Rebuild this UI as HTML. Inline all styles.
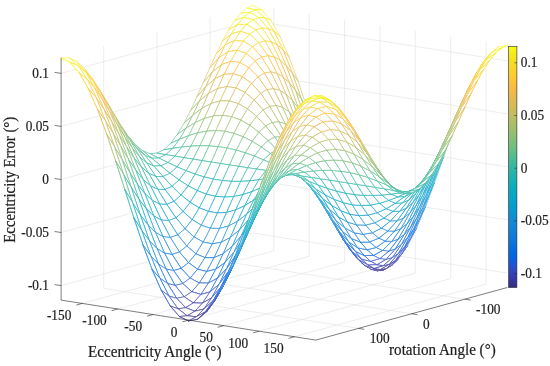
<!DOCTYPE html><html><head><meta charset="utf-8"><style>
html,body{margin:0;padding:0;background:#fff;width:550px;height:366px;overflow:hidden}
svg{display:block}
text{font-family:"Liberation Serif","Times New Roman",serif;fill:#1e1e1e;stroke:#1e1e1e;stroke-width:0.2px}
</style></head><body>
<svg width="550" height="366" viewBox="0 0 550 366">
<defs><linearGradient id="pg" x1="0" y1="0" x2="0" y2="1"><stop offset="0.0000" stop-color="#f9fb0e"/><stop offset="0.0159" stop-color="#f6f313"/><stop offset="0.0317" stop-color="#f5eb18"/><stop offset="0.0476" stop-color="#f5e41d"/><stop offset="0.0635" stop-color="#f5de21"/><stop offset="0.0794" stop-color="#f7d826"/><stop offset="0.0952" stop-color="#fad32a"/><stop offset="0.1111" stop-color="#fcce2e"/><stop offset="0.1270" stop-color="#fec832"/><stop offset="0.1429" stop-color="#ffc337"/><stop offset="0.1587" stop-color="#fdbe3d"/><stop offset="0.1746" stop-color="#f8bb44"/><stop offset="0.1905" stop-color="#f1b94a"/><stop offset="0.2063" stop-color="#e9b94e"/><stop offset="0.2222" stop-color="#e1b952"/><stop offset="0.2381" stop-color="#d9ba56"/><stop offset="0.2540" stop-color="#d1bb59"/><stop offset="0.2698" stop-color="#c8bc5d"/><stop offset="0.2857" stop-color="#c0bc60"/><stop offset="0.3016" stop-color="#b7bd64"/><stop offset="0.3175" stop-color="#aebe67"/><stop offset="0.3333" stop-color="#a5be6b"/><stop offset="0.3492" stop-color="#9cbf6f"/><stop offset="0.3651" stop-color="#92bf73"/><stop offset="0.3810" stop-color="#87bf77"/><stop offset="0.3968" stop-color="#7cbf7b"/><stop offset="0.4127" stop-color="#71bf80"/><stop offset="0.4286" stop-color="#65be86"/><stop offset="0.4444" stop-color="#59bd8c"/><stop offset="0.4603" stop-color="#4dbc92"/><stop offset="0.4762" stop-color="#42bb98"/><stop offset="0.4921" stop-color="#38b99e"/><stop offset="0.5079" stop-color="#2eb7a4"/><stop offset="0.5238" stop-color="#25b5a9"/><stop offset="0.5397" stop-color="#1db3af"/><stop offset="0.5556" stop-color="#15b1b4"/><stop offset="0.5714" stop-color="#0faeb9"/><stop offset="0.5873" stop-color="#0aacbe"/><stop offset="0.6032" stop-color="#07a9c2"/><stop offset="0.6190" stop-color="#06a7c6"/><stop offset="0.6349" stop-color="#06a4ca"/><stop offset="0.6508" stop-color="#06a0cd"/><stop offset="0.6667" stop-color="#079ccf"/><stop offset="0.6825" stop-color="#0998d1"/><stop offset="0.6984" stop-color="#0c93d2"/><stop offset="0.7143" stop-color="#108ed2"/><stop offset="0.7302" stop-color="#1389d3"/><stop offset="0.7460" stop-color="#1485d4"/><stop offset="0.7619" stop-color="#1481d6"/><stop offset="0.7778" stop-color="#127dd8"/><stop offset="0.7937" stop-color="#1079da"/><stop offset="0.8095" stop-color="#0d75dc"/><stop offset="0.8254" stop-color="#0871de"/><stop offset="0.8413" stop-color="#046de0"/><stop offset="0.8571" stop-color="#0268e1"/><stop offset="0.8730" stop-color="#0363e1"/><stop offset="0.8889" stop-color="#0f5cdd"/><stop offset="0.9048" stop-color="#2053d4"/><stop offset="0.9206" stop-color="#2c4ac7"/><stop offset="0.9365" stop-color="#3243ba"/><stop offset="0.9524" stop-color="#353dad"/><stop offset="0.9683" stop-color="#3637a0"/><stop offset="0.9841" stop-color="#363093"/><stop offset="1.0000" stop-color="#352a87"/></linearGradient></defs>
<line x1="61.1" y1="285.6" x2="252.6" y2="233" stroke="#dadada" stroke-width="0.5"/>
<line x1="252.6" y1="233" x2="507.3" y2="273" stroke="#dadada" stroke-width="0.5"/>
<line x1="61.1" y1="232.5" x2="252.6" y2="180" stroke="#dadada" stroke-width="0.5"/>
<line x1="252.6" y1="180" x2="507.3" y2="219.9" stroke="#dadada" stroke-width="0.5"/>
<line x1="61.1" y1="179.5" x2="252.6" y2="126.9" stroke="#dadada" stroke-width="0.5"/>
<line x1="252.6" y1="126.9" x2="507.3" y2="166.9" stroke="#dadada" stroke-width="0.5"/>
<line x1="61.1" y1="126.4" x2="252.6" y2="73.9" stroke="#dadada" stroke-width="0.5"/>
<line x1="252.6" y1="73.9" x2="507.3" y2="113.8" stroke="#dadada" stroke-width="0.5"/>
<line x1="61.1" y1="73.4" x2="252.6" y2="20.8" stroke="#dadada" stroke-width="0.5"/>
<line x1="252.6" y1="20.8" x2="507.3" y2="60.8" stroke="#dadada" stroke-width="0.5"/>
<line x1="210.1" y1="259.2" x2="210.1" y2="16.9" stroke="#dadada" stroke-width="0.5"/>
<line x1="210.1" y1="259.2" x2="464.8" y2="299.2" stroke="#dadada" stroke-width="0.5"/>
<line x1="156.9" y1="273.8" x2="156.9" y2="31.5" stroke="#dadada" stroke-width="0.5"/>
<line x1="156.9" y1="273.8" x2="411.6" y2="313.8" stroke="#dadada" stroke-width="0.5"/>
<line x1="103.7" y1="288.4" x2="103.7" y2="46.1" stroke="#dadada" stroke-width="0.5"/>
<line x1="103.7" y1="288.4" x2="358.4" y2="328.4" stroke="#dadada" stroke-width="0.5"/>
<line x1="273.8" y1="250.9" x2="273.8" y2="8.5" stroke="#dadada" stroke-width="0.5"/>
<line x1="273.8" y1="250.9" x2="82.3" y2="303.4" stroke="#dadada" stroke-width="0.5"/>
<line x1="309.2" y1="256.4" x2="309.2" y2="14.1" stroke="#dadada" stroke-width="0.5"/>
<line x1="309.2" y1="256.4" x2="117.7" y2="309" stroke="#dadada" stroke-width="0.5"/>
<line x1="344.6" y1="262" x2="344.6" y2="19.6" stroke="#dadada" stroke-width="0.5"/>
<line x1="344.6" y1="262" x2="153.1" y2="314.5" stroke="#dadada" stroke-width="0.5"/>
<line x1="380" y1="267.5" x2="380" y2="25.2" stroke="#dadada" stroke-width="0.5"/>
<line x1="380" y1="267.5" x2="188.5" y2="320.1" stroke="#dadada" stroke-width="0.5"/>
<line x1="415.3" y1="273.1" x2="415.3" y2="30.7" stroke="#dadada" stroke-width="0.5"/>
<line x1="415.3" y1="273.1" x2="223.8" y2="325.6" stroke="#dadada" stroke-width="0.5"/>
<line x1="450.7" y1="278.6" x2="450.7" y2="36.3" stroke="#dadada" stroke-width="0.5"/>
<line x1="450.7" y1="278.6" x2="259.2" y2="331.2" stroke="#dadada" stroke-width="0.5"/>
<line x1="486.1" y1="284.2" x2="486.1" y2="41.8" stroke="#dadada" stroke-width="0.5"/>
<line x1="486.1" y1="284.2" x2="294.6" y2="336.7" stroke="#dadada" stroke-width="0.5"/>
<g fill="#fff" stroke-width="0.65" stroke-linejoin="round" stroke-linecap="round"><path d="M255.8 10L246.7 8.2L252.6 5.4L261.7 9.9Z" stroke="#fafb26"/><path d="M246.7 8.2L255.8 10" stroke="#f9f927"/><path d="M261.7 9.9L255.8 10" stroke="#f8f62a"/><path d="M264.9 17.9L255.8 10L261.7 9.9L270.8 20.3Z" stroke="#f8f62a"/><path d="M255.8 10L264.9 17.9" stroke="#f8f828"/><path d="M270.8 20.3L264.9 17.9" stroke="#f6e634"/><path d="M249.8 12.5L240.7 13.3L246.7 8.2L255.8 10Z" stroke="#f9f927"/><path d="M240.7 13.3L249.8 12.5" stroke="#f7f22c"/><path d="M255.8 10L249.8 12.5" stroke="#f8f828"/><path d="M274 31.4L264.9 17.9L270.8 20.3L279.9 36.2Z" stroke="#f6e634"/><path d="M264.9 17.9L274 31.4" stroke="#f6ed2f"/><path d="M279.9 36.2L274 31.4" stroke="#fcd342"/><path d="M283.1 50L274 31.4L279.9 36.2L289 56.9Z" stroke="#fcd342"/><path d="M274 31.4L283.1 50" stroke="#f8db3c"/><path d="M289 56.9L283.1 50" stroke="#f3c05b"/><path d="M258.9 17.7L249.8 12.5L255.8 10L264.9 17.9Z" stroke="#f8f828"/><path d="M249.8 12.5L258.9 17.7" stroke="#f8f62a"/><path d="M264.9 17.9L258.9 17.7" stroke="#f6ed2f"/><path d="M243.8 17.3L234.7 20.6L240.7 13.3L249.8 12.5Z" stroke="#f7f22c"/><path d="M234.7 20.6L243.8 17.3" stroke="#f6e932"/><path d="M249.8 12.5L243.8 17.3" stroke="#f8f62a"/><path d="M292.2 72.9L283.1 50L289 56.9L298.1 81.3Z" stroke="#f3c05b"/><path d="M283.1 50L292.2 72.9" stroke="#fec64f"/><path d="M298.1 81.3L292.2 72.9" stroke="#c6c370"/><path d="M301.3 98.9L292.2 72.9L298.1 81.3L307.2 108.4Z" stroke="#c6c370"/><path d="M292.2 72.9L301.3 98.9" stroke="#dac168"/><path d="M307.2 108.4L301.3 98.9" stroke="#8cc587"/><path d="M268 28.6L258.9 17.7L264.9 17.9L274 31.4Z" stroke="#f6ed2f"/><path d="M258.9 17.7L268 28.6" stroke="#f6ef2e"/><path d="M274 31.4L268 28.6" stroke="#f8db3c"/><path d="M310.4 126.8L301.3 98.9L307.2 108.4L316.3 136.9Z" stroke="#8cc587"/><path d="M301.3 98.9L310.4 126.8" stroke="#a8c57c"/><path d="M316.3 136.9L310.4 126.8" stroke="#46bfab"/><path d="M319.5 155.3L310.4 126.8L316.3 136.9L325.4 165.4Z" stroke="#46bfab"/><path d="M310.4 126.8L319.5 155.3" stroke="#62c39b"/><path d="M325.4 165.4L319.5 155.3" stroke="#1fb0cb"/><path d="M328.6 183L319.5 155.3L325.4 165.4L334.5 192.5Z" stroke="#1fb0cb"/><path d="M319.5 155.3L328.6 183" stroke="#28b7bf"/><path d="M334.5 192.5L328.6 183" stroke="#2997d7"/><path d="M237.6 24.4L228.5 30L234.7 20.6L243.8 17.3Z" stroke="#f6e932"/><path d="M228.5 30L237.6 24.4" stroke="#f8de3a"/><path d="M243.8 17.3L237.6 24.4" stroke="#f7f12d"/><path d="M252.9 19.8L243.8 17.3L249.8 12.5L258.9 17.7Z" stroke="#f8f62a"/><path d="M243.8 17.3L252.9 19.8" stroke="#f7f12d"/><path d="M258.9 17.7L252.9 19.8" stroke="#f6ef2e"/><path d="M337.7 208.7L328.6 183L334.5 192.5L343.6 216.9Z" stroke="#2997d7"/><path d="M328.6 183L337.7 208.7" stroke="#20a4d5"/><path d="M343.6 216.9L337.7 208.7" stroke="#2381e1"/><path d="M277.1 44.9L268 28.6L274 31.4L283.1 50Z" stroke="#f8db3c"/><path d="M268 28.6L277.1 44.9" stroke="#f7e038"/><path d="M283.1 50L277.1 44.9" stroke="#fec64f"/><path d="M346.8 231L337.7 208.7L343.6 216.9L352.7 237.6Z" stroke="#2381e1"/><path d="M337.7 208.7L346.8 231" stroke="#2a8adc"/><path d="M352.7 237.6L346.8 231" stroke="#3067dc"/><path d="M286.2 65.8L277.1 44.9L283.1 50L292.2 72.9Z" stroke="#fec64f"/><path d="M277.1 44.9L286.2 65.8" stroke="#fece46"/><path d="M292.2 72.9L286.2 65.8" stroke="#dac168"/><path d="M262 28.1L252.9 19.8L258.9 17.7L268 28.6Z" stroke="#f6ef2e"/><path d="M252.9 19.8L262 28.1" stroke="#f6ef2e"/><path d="M268 28.6L262 28.1" stroke="#f7e038"/><path d="M355.9 249L346.8 231L352.7 237.6L361.8 253.5Z" stroke="#3067dc"/><path d="M346.8 231L355.9 249" stroke="#1b76e4"/><path d="M361.8 253.5L355.9 249" stroke="#4a4fb2"/><path d="M295.3 90.2L286.2 65.8L292.2 72.9L301.3 98.9Z" stroke="#dac168"/><path d="M286.2 65.8L295.3 90.2" stroke="#ebc060"/><path d="M301.3 98.9L295.3 90.2" stroke="#a8c57c"/><path d="M231.4 33.8L222.4 41.3L228.5 30L237.6 24.4Z" stroke="#f8de3a"/><path d="M222.4 41.3L231.4 33.8" stroke="#fdd243"/><path d="M237.6 24.4L231.4 33.8" stroke="#f6e733"/><path d="M246.7 24.4L237.6 24.4L243.8 17.3L252.9 19.8Z" stroke="#f7f12d"/><path d="M237.6 24.4L246.7 24.4" stroke="#f6e733"/><path d="M252.9 19.8L246.7 24.4" stroke="#f6ef2e"/><path d="M304.4 117L295.3 90.2L301.3 98.9L310.4 126.8Z" stroke="#a8c57c"/><path d="M295.3 90.2L304.4 117" stroke="#bec473"/><path d="M310.4 126.8L304.4 117" stroke="#62c39b"/><path d="M313.5 145.1L304.4 117L310.4 126.8L319.5 155.3Z" stroke="#62c39b"/><path d="M304.4 117L313.5 145.1" stroke="#82c58c"/><path d="M319.5 155.3L313.5 145.1" stroke="#28b7bf"/><path d="M322.6 172.9L313.5 145.1L319.5 155.3L328.6 183Z" stroke="#28b7bf"/><path d="M313.5 145.1L322.6 172.9" stroke="#3ebdb0"/><path d="M328.6 183L322.6 172.9" stroke="#20a4d5"/><path d="M271.1 41.8L262 28.1L268 28.6L277.1 44.9Z" stroke="#f7e038"/><path d="M262 28.1L271.1 41.8" stroke="#f6e435"/><path d="M277.1 44.9L271.1 41.8" stroke="#fece46"/><path d="M365 261.8L355.9 249L361.8 253.5L370.9 263.9Z" stroke="#4a4fb2"/><path d="M355.9 249L365 261.8" stroke="#4459c6"/><path d="M370.9 263.9L365 261.8" stroke="#4a4298"/><path d="M331.7 199.3L322.6 172.9L328.6 183L337.7 208.7Z" stroke="#20a4d5"/><path d="M322.6 172.9L331.7 199.3" stroke="#1faece"/><path d="M337.7 208.7L331.7 199.3" stroke="#2a8adc"/><path d="M225.2 45L216.1 54.1L222.4 41.3L231.4 33.8Z" stroke="#fdd243"/><path d="M216.1 54.1L225.2 45" stroke="#fdc451"/><path d="M231.4 33.8L225.2 45" stroke="#f8dc3b"/><path d="M340.8 222.9L331.7 199.3L337.7 208.7L346.8 231Z" stroke="#2a8adc"/><path d="M331.7 199.3L340.8 222.9" stroke="#2b95d7"/><path d="M346.8 231L340.8 222.9" stroke="#1b76e4"/><path d="M280.1 60.3L271.1 41.8L277.1 44.9L286.2 65.8Z" stroke="#fece46"/><path d="M271.1 41.8L280.1 60.3" stroke="#fcd441"/><path d="M286.2 65.8L280.1 60.3" stroke="#ebc060"/><path d="M255.8 30L246.7 24.4L252.9 19.8L262 28.1Z" stroke="#f6ef2e"/><path d="M246.7 24.4L255.8 30" stroke="#f6ea31"/><path d="M262 28.1L255.8 30" stroke="#f6e435"/><path d="M240.5 31.4L231.4 33.8L237.6 24.4L246.7 24.4Z" stroke="#f6e733"/><path d="M231.4 33.8L240.5 31.4" stroke="#f8dc3b"/><path d="M246.7 24.4L240.5 31.4" stroke="#f6ea31"/><path d="M374.1 268.9L365 261.8L370.9 263.9L380 268.4Z" stroke="#4a4298"/><path d="M365 261.8L374.1 268.9" stroke="#4a48a4"/><path d="M380 268.4L374.1 268.9" stroke="#494093"/><path d="M349.9 242.6L340.8 222.9L346.8 231L355.9 249Z" stroke="#1b76e4"/><path d="M340.8 222.9L349.9 242.6" stroke="#2180e1"/><path d="M355.9 249L349.9 242.6" stroke="#4459c6"/><path d="M289.2 82.7L280.1 60.3L286.2 65.8L295.3 90.2Z" stroke="#ebc060"/><path d="M280.1 60.3L289.2 82.7" stroke="#f8c157"/><path d="M295.3 90.2L289.2 82.7" stroke="#bec473"/><path d="M298.3 108.1L289.2 82.7L295.3 90.2L304.4 117Z" stroke="#bec473"/><path d="M289.2 82.7L298.3 108.1" stroke="#d1c26b"/><path d="M304.4 117L298.3 108.1" stroke="#82c58c"/><path d="M218.9 57.8L209.8 67.9L216.1 54.1L225.2 45Z" stroke="#fdc451"/><path d="M209.8 67.9L218.9 57.8" stroke="#e9c061"/><path d="M225.2 45L218.9 57.8" stroke="#fdd144"/><path d="M264.9 41L255.8 30L262 28.1L271.1 41.8Z" stroke="#f6e435"/><path d="M255.8 30L264.9 41" stroke="#f6e435"/><path d="M271.1 41.8L264.9 41" stroke="#fcd441"/><path d="M307.4 135.1L298.3 108.1L304.4 117L313.5 145.1Z" stroke="#82c58c"/><path d="M298.3 108.1L307.4 135.1" stroke="#9dc581"/><path d="M313.5 145.1L307.4 135.1" stroke="#3ebdb0"/><path d="M359 257.6L349.9 242.6L355.9 249L365 261.8Z" stroke="#4459c6"/><path d="M349.9 242.6L359 257.6" stroke="#3067dc"/><path d="M365 261.8L359 257.6" stroke="#4a48a4"/><path d="M316.5 162.5L307.4 135.1L313.5 145.1L322.6 172.9Z" stroke="#3ebdb0"/><path d="M307.4 135.1L316.5 162.5" stroke="#58c2a0"/><path d="M322.6 172.9L316.5 162.5" stroke="#1faece"/><path d="M234.3 40.6L225.2 45L231.4 33.8L240.5 31.4Z" stroke="#f8dc3b"/><path d="M225.2 45L234.3 40.6" stroke="#fdd144"/><path d="M240.5 31.4L234.3 40.6" stroke="#f6e237"/><path d="M249.6 34.3L240.5 31.4L246.7 24.4L255.8 30Z" stroke="#f6ea31"/><path d="M240.5 31.4L249.6 34.3" stroke="#f6e237"/><path d="M255.8 30L249.6 34.3" stroke="#f6e435"/><path d="M325.6 189.1L316.5 162.5L322.6 172.9L331.7 199.3Z" stroke="#1faece"/><path d="M316.5 162.5L325.6 189.1" stroke="#26b6c1"/><path d="M331.7 199.3L325.6 189.1" stroke="#2b95d7"/><path d="M383.1 269.9L374.1 268.9L380 268.4L389.1 266.8Z" stroke="#494093"/><path d="M374.1 268.9L383.1 269.9" stroke="#494093"/><path d="M389.1 266.8L383.1 269.9" stroke="#4a4298"/><path d="M274 56.9L264.9 41L271.1 41.8L280.1 60.3Z" stroke="#fcd441"/><path d="M264.9 41L274 56.9" stroke="#fbd640"/><path d="M280.1 60.3L274 56.9" stroke="#f8c157"/><path d="M334.7 213.5L325.6 189.1L331.7 199.3L340.8 222.9Z" stroke="#2b95d7"/><path d="M325.6 189.1L334.7 213.5" stroke="#21a2d6"/><path d="M340.8 222.9L334.7 213.5" stroke="#2180e1"/><path d="M368.1 267.1L359 257.6L365 261.8L374.1 268.9Z" stroke="#4a48a4"/><path d="M359 257.6L368.1 267.1" stroke="#4950b4"/><path d="M374.1 268.9L368.1 267.1" stroke="#494093"/><path d="M212.5 71.8L203.4 82.4L209.8 67.9L218.9 57.8Z" stroke="#e9c061"/><path d="M203.4 82.4L212.5 71.8" stroke="#d1c26b"/><path d="M218.9 57.8L212.5 71.8" stroke="#fdc451"/><path d="M283.1 77L274 56.9L280.1 60.3L289.2 82.7Z" stroke="#f8c157"/><path d="M274 56.9L283.1 77" stroke="#fec550"/><path d="M289.2 82.7L283.1 77" stroke="#d1c26b"/><path d="M343.8 234.5L334.7 213.5L340.8 222.9L349.9 242.6Z" stroke="#2180e1"/><path d="M334.7 213.5L343.8 234.5" stroke="#2a8adc"/><path d="M349.9 242.6L343.8 234.5" stroke="#3067dc"/><path d="M258.7 42.6L249.6 34.3L255.8 30L264.9 41Z" stroke="#f6e435"/><path d="M249.6 34.3L258.7 42.6" stroke="#f7e038"/><path d="M264.9 41L258.7 42.6" stroke="#fbd640"/><path d="M228 51.8L218.9 57.8L225.2 45L234.3 40.6Z" stroke="#fdd144"/><path d="M218.9 57.8L228 51.8" stroke="#fdc451"/><path d="M234.3 40.6L228 51.8" stroke="#fad83f"/><path d="M292.2 100.4L283.1 77L289.2 82.7L298.3 108.1Z" stroke="#d1c26b"/><path d="M283.1 77L292.2 100.4" stroke="#dec166"/><path d="M298.3 108.1L292.2 100.4" stroke="#9dc581"/><path d="M243.4 41.2L234.3 40.6L240.5 31.4L249.6 34.3Z" stroke="#f6e237"/><path d="M234.3 40.6L243.4 41.2" stroke="#fad83f"/><path d="M249.6 34.3L243.4 41.2" stroke="#f7e038"/><path d="M352.9 251.3L343.8 234.5L349.9 242.6L359 257.6Z" stroke="#3067dc"/><path d="M343.8 234.5L352.9 251.3" stroke="#1b77e4"/><path d="M359 257.6L352.9 251.3" stroke="#4950b4"/><path d="M301.3 125.9L292.2 100.4L298.3 108.1L307.4 135.1Z" stroke="#9dc581"/><path d="M292.2 100.4L301.3 125.9" stroke="#b2c478"/><path d="M307.4 135.1L301.3 125.9" stroke="#58c2a0"/><path d="M392.2 264.9L383.1 269.9L389.1 266.8L398.2 259.2Z" stroke="#4a4298"/><path d="M383.1 269.9L392.2 264.9" stroke="#494093"/><path d="M398.2 259.2L392.2 264.9" stroke="#4a4fb2"/><path d="M206 86.4L196.9 96.9L203.4 82.4L212.5 71.8Z" stroke="#d1c26b"/><path d="M196.9 96.9L206 86.4" stroke="#b8c476"/><path d="M212.5 71.8L206 86.4" stroke="#e9c061"/><path d="M377.2 270.7L368.1 267.1L374.1 268.9L383.1 269.9Z" stroke="#494093"/><path d="M368.1 267.1L377.2 270.7" stroke="#4a449b"/><path d="M383.1 269.9L377.2 270.7" stroke="#494093"/><path d="M310.4 152.4L301.3 125.9L307.4 135.1L316.5 162.5Z" stroke="#58c2a0"/><path d="M301.3 125.9L310.4 152.4" stroke="#78c590"/><path d="M316.5 162.5L310.4 152.4" stroke="#26b6c1"/><path d="M267.8 55.8L258.7 42.6L264.9 41L274 56.9Z" stroke="#fbd640"/><path d="M258.7 42.6L267.8 55.8" stroke="#fbd640"/><path d="M274 56.9L267.8 55.8" stroke="#fec550"/><path d="M319.5 178.6L310.4 152.4L316.5 162.5L325.6 189.1Z" stroke="#26b6c1"/><path d="M310.4 152.4L319.5 178.6" stroke="#38bcb4"/><path d="M325.6 189.1L319.5 178.6" stroke="#21a2d6"/><path d="M221.6 64.7L212.5 71.8L218.9 57.8L228 51.8Z" stroke="#fdc451"/><path d="M212.5 71.8L221.6 64.7" stroke="#e9c061"/><path d="M228 51.8L221.6 64.7" stroke="#fecc48"/><path d="M362 263.1L352.9 251.3L359 257.6L368.1 267.1Z" stroke="#4950b4"/><path d="M352.9 251.3L362 263.1" stroke="#415ccc"/><path d="M368.1 267.1L362 263.1" stroke="#4a449b"/><path d="M328.6 203.2L319.5 178.6L325.6 189.1L334.7 213.5Z" stroke="#21a2d6"/><path d="M319.5 178.6L328.6 203.2" stroke="#1fadce"/><path d="M334.7 213.5L328.6 203.2" stroke="#2a8adc"/><path d="M252.5 46.7L243.4 41.2L249.6 34.3L258.7 42.6Z" stroke="#f7e038"/><path d="M243.4 41.2L252.5 46.7" stroke="#f9d93e"/><path d="M258.7 42.6L252.5 46.7" stroke="#fbd640"/><path d="M276.9 73.3L267.8 55.8L274 56.9L283.1 77Z" stroke="#fec550"/><path d="M267.8 55.8L276.9 73.3" stroke="#ffc84c"/><path d="M283.1 77L276.9 73.3" stroke="#dec166"/><path d="M237.1 50.3L228 51.8L234.3 40.6L243.4 41.2Z" stroke="#fad83f"/><path d="M228 51.8L237.1 50.3" stroke="#fecc48"/><path d="M243.4 41.2L237.1 50.3" stroke="#f9d93e"/><path d="M199.5 101L190.4 110.8L196.9 96.9L206 86.4Z" stroke="#b8c476"/><path d="M190.4 110.8L199.5 101" stroke="#9dc581"/><path d="M206 86.4L199.5 101" stroke="#cfc26c"/><path d="M337.7 225.2L328.6 203.2L334.7 213.5L343.8 234.5Z" stroke="#2a8adc"/><path d="M328.6 203.2L337.7 225.2" stroke="#2a96d7"/><path d="M343.8 234.5L337.7 225.2" stroke="#1b77e4"/><path d="M386.3 268.4L377.2 270.7L383.1 269.9L392.2 264.9Z" stroke="#494093"/><path d="M377.2 270.7L386.3 268.4" stroke="#494196"/><path d="M392.2 264.9L386.3 268.4" stroke="#4a49a6"/><path d="M286 94.3L276.9 73.3L283.1 77L292.2 100.4Z" stroke="#dec166"/><path d="M276.9 73.3L286 94.3" stroke="#e9c061"/><path d="M292.2 100.4L286 94.3" stroke="#b2c478"/><path d="M371.1 269.2L362 263.1L368.1 267.1L377.2 270.7Z" stroke="#4a449b"/><path d="M362 263.1L371.1 269.2" stroke="#4a4cac"/><path d="M377.2 270.7L371.1 269.2" stroke="#494196"/><path d="M401.3 254.2L392.2 264.9L398.2 259.2L407.3 246.1Z" stroke="#4a4fb2"/><path d="M392.2 264.9L401.3 254.2" stroke="#4a49a6"/><path d="M407.3 246.1L401.3 254.2" stroke="#3067dc"/><path d="M346.8 243.4L337.7 225.2L343.8 234.5L352.9 251.3Z" stroke="#1b77e4"/><path d="M337.7 225.2L346.8 243.4" stroke="#2482e0"/><path d="M352.9 251.3L346.8 243.4" stroke="#415ccc"/><path d="M215.1 78.7L206 86.4L212.5 71.8L221.6 64.7Z" stroke="#e9c061"/><path d="M206 86.4L215.1 78.7" stroke="#cfc26c"/><path d="M221.6 64.7L215.1 78.7" stroke="#f8c157"/><path d="M261.6 57.1L252.5 46.7L258.7 42.6L267.8 55.8Z" stroke="#fbd640"/><path d="M252.5 46.7L261.6 57.1" stroke="#fcd441"/><path d="M267.8 55.8L261.6 57.1" stroke="#ffc84c"/><path d="M295.1 117.9L286 94.3L292.2 100.4L301.3 125.9Z" stroke="#b2c478"/><path d="M286 94.3L295.1 117.9" stroke="#c2c372"/><path d="M301.3 125.9L295.1 117.9" stroke="#78c590"/><path d="M230.7 61.5L221.6 64.7L228 51.8L237.1 50.3Z" stroke="#fecc48"/><path d="M221.6 64.7L230.7 61.5" stroke="#f8c157"/><path d="M237.1 50.3L230.7 61.5" stroke="#fdd045"/><path d="M304.2 143L295.1 117.9L301.3 125.9L310.4 152.4Z" stroke="#78c590"/><path d="M295.1 117.9L304.2 143" stroke="#91c585"/><path d="M310.4 152.4L304.2 143" stroke="#38bcb4"/><path d="M246.2 53.4L237.1 50.3L243.4 41.2L252.5 46.7Z" stroke="#f9d93e"/><path d="M237.1 50.3L246.2 53.4" stroke="#fdd045"/><path d="M252.5 46.7L246.2 53.4" stroke="#fcd441"/><path d="M192.9 115.2L183.8 123.6L190.4 110.8L199.5 101Z" stroke="#9dc581"/><path d="M183.8 123.6L192.9 115.2" stroke="#80c58d"/><path d="M199.5 101L192.9 115.2" stroke="#b6c476"/><path d="M313.3 168.3L304.2 143L310.4 152.4L319.5 178.6Z" stroke="#38bcb4"/><path d="M304.2 143L313.3 168.3" stroke="#51c1a4"/><path d="M319.5 178.6L313.3 168.3" stroke="#1fadce"/><path d="M355.9 257L346.8 243.4L352.9 251.3L362 263.1Z" stroke="#415ccc"/><path d="M346.8 243.4L355.9 257" stroke="#236fe2"/><path d="M362 263.1L355.9 257" stroke="#4a4cac"/><path d="M270.7 71.9L261.6 57.1L267.8 55.8L276.9 73.3Z" stroke="#ffc84c"/><path d="M261.6 57.1L270.7 71.9" stroke="#ffc84c"/><path d="M276.9 73.3L270.7 71.9" stroke="#e9c061"/><path d="M322.4 192.6L313.3 168.3L319.5 178.6L328.6 203.2Z" stroke="#1fadce"/><path d="M313.3 168.3L322.4 192.6" stroke="#24b5c2"/><path d="M328.6 203.2L322.4 192.6" stroke="#2a96d7"/><path d="M208.6 93.5L199.5 101L206 86.4L215.1 78.7Z" stroke="#cfc26c"/><path d="M199.5 101L208.6 93.5" stroke="#b6c476"/><path d="M215.1 78.7L208.6 93.5" stroke="#e2c164"/><path d="M380.2 269.5L371.1 269.2L377.2 270.7L386.3 268.4Z" stroke="#494196"/><path d="M371.1 269.2L380.2 269.5" stroke="#4a459e"/><path d="M386.3 268.4L380.2 269.5" stroke="#4a46a1"/><path d="M395.4 260.3L386.3 268.4L392.2 264.9L401.3 254.2Z" stroke="#4a49a6"/><path d="M386.3 268.4L395.4 260.3" stroke="#4a46a1"/><path d="M401.3 254.2L395.4 260.3" stroke="#415ccc"/><path d="M331.5 214.9L322.4 192.6L328.6 203.2L337.7 225.2Z" stroke="#2a96d7"/><path d="M322.4 192.6L331.5 214.9" stroke="#20a4d5"/><path d="M337.7 225.2L331.5 214.9" stroke="#2482e0"/><path d="M279.8 90.3L270.7 71.9L276.9 73.3L286 94.3Z" stroke="#e9c061"/><path d="M270.7 71.9L279.8 90.3" stroke="#eec05e"/><path d="M286 94.3L279.8 90.3" stroke="#c2c372"/><path d="M255.2 61.1L246.2 53.4L252.5 46.7L261.6 57.1Z" stroke="#fcd441"/><path d="M246.2 53.4L255.2 61.1" stroke="#fece46"/><path d="M261.6 57.1L255.2 61.1" stroke="#ffc84c"/><path d="M224.2 74.4L215.1 78.7L221.6 64.7L230.7 61.5Z" stroke="#f8c157"/><path d="M215.1 78.7L224.2 74.4" stroke="#e2c164"/><path d="M230.7 61.5L224.2 74.4" stroke="#fec550"/><path d="M365 265.4L355.9 257L362 263.1L371.1 269.2Z" stroke="#4a4cac"/><path d="M355.9 257L365 265.4" stroke="#4557c3"/><path d="M371.1 269.2L365 265.4" stroke="#4a459e"/><path d="M186.2 128.1L177.1 134.7L183.8 123.6L192.9 115.2Z" stroke="#80c58d"/><path d="M177.1 134.7L186.2 128.1" stroke="#65c399"/><path d="M192.9 115.2L186.2 128.1" stroke="#9ac581"/><path d="M239.8 62.5L230.7 61.5L237.1 50.3L246.2 53.4Z" stroke="#fdd045"/><path d="M230.7 61.5L239.8 62.5" stroke="#fec550"/><path d="M246.2 53.4L239.8 62.5" stroke="#fece46"/><path d="M410.4 238.4L401.3 254.2L407.3 246.1L416.4 228.3Z" stroke="#3067dc"/><path d="M401.3 254.2L410.4 238.4" stroke="#415ccc"/><path d="M416.4 228.3L410.4 238.4" stroke="#2381e1"/><path d="M288.9 111.6L279.8 90.3L286 94.3L295.1 117.9Z" stroke="#c2c372"/><path d="M279.8 90.3L288.9 111.6" stroke="#cdc26d"/><path d="M295.1 117.9L288.9 111.6" stroke="#91c585"/><path d="M340.6 234L331.5 214.9L337.7 225.2L346.8 243.4Z" stroke="#2482e0"/><path d="M331.5 214.9L340.6 234" stroke="#2b8dda"/><path d="M346.8 243.4L340.6 234" stroke="#236fe2"/><path d="M202 108.3L192.9 115.2L199.5 101L208.6 93.5Z" stroke="#b6c476"/><path d="M192.9 115.2L202 108.3" stroke="#9ac581"/><path d="M208.6 93.5L202 108.3" stroke="#c8c36f"/><path d="M298 134.7L288.9 111.6L295.1 117.9L304.2 143Z" stroke="#91c585"/><path d="M288.9 111.6L298 134.7" stroke="#a3c57e"/><path d="M304.2 143L298 134.7" stroke="#51c1a4"/><path d="M264.3 73.1L255.2 61.1L261.6 57.1L270.7 71.9Z" stroke="#ffc84c"/><path d="M255.2 61.1L264.3 73.1" stroke="#fec64f"/><path d="M270.7 71.9L264.3 73.1" stroke="#eec05e"/><path d="M349.7 249.1L340.6 234L346.8 243.4L355.9 257Z" stroke="#236fe2"/><path d="M340.6 234L349.7 249.1" stroke="#1f7de3"/><path d="M355.9 257L349.7 249.1" stroke="#4557c3"/><path d="M217.7 88.6L208.6 93.5L215.1 78.7L224.2 74.4Z" stroke="#e2c164"/><path d="M208.6 93.5L217.7 88.6" stroke="#c8c36f"/><path d="M224.2 74.4L217.7 88.6" stroke="#ecc05f"/><path d="M389.3 264.1L380.2 269.5L386.3 268.4L395.4 260.3Z" stroke="#4a46a1"/><path d="M380.2 269.5L389.3 264.1" stroke="#4a46a1"/><path d="M395.4 260.3L389.3 264.1" stroke="#4754bd"/><path d="M307.1 158.6L298 134.7L304.2 143L313.3 168.3Z" stroke="#51c1a4"/><path d="M298 134.7L307.1 158.6" stroke="#6dc495"/><path d="M313.3 168.3L307.1 158.6" stroke="#24b5c2"/><path d="M374.1 268.3L365 265.4L371.1 269.2L380.2 269.5Z" stroke="#4a459e"/><path d="M365 265.4L374.1 268.3" stroke="#4a4daf"/><path d="M380.2 269.5L374.1 268.3" stroke="#4a46a1"/><path d="M248.9 67.7L239.8 62.5L246.2 53.4L255.2 61.1Z" stroke="#fece46"/><path d="M239.8 62.5L248.9 67.7" stroke="#fec550"/><path d="M255.2 61.1L248.9 67.7" stroke="#fec64f"/><path d="M233.3 73.7L224.2 74.4L230.7 61.5L239.8 62.5Z" stroke="#fec550"/><path d="M224.2 74.4L233.3 73.7" stroke="#ecc05f"/><path d="M239.8 62.5L233.3 73.7" stroke="#fec550"/><path d="M179.5 139.4L170.4 143.6L177.1 134.7L186.2 128.1Z" stroke="#65c399"/><path d="M170.4 143.6L179.5 139.4" stroke="#54c1a3"/><path d="M186.2 128.1L179.5 139.4" stroke="#7dc58e"/><path d="M316.2 182.1L307.1 158.6L313.3 168.3L322.4 192.6Z" stroke="#24b5c2"/><path d="M307.1 158.6L316.2 182.1" stroke="#36bbb5"/><path d="M322.4 192.6L316.2 182.1" stroke="#20a4d5"/><path d="M404.5 246.8L395.4 260.3L401.3 254.2L410.4 238.4Z" stroke="#415ccc"/><path d="M395.4 260.3L404.5 246.8" stroke="#4754bd"/><path d="M410.4 238.4L404.5 246.8" stroke="#1c79e4"/><path d="M273.4 88.7L264.3 73.1L270.7 71.9L279.8 90.3Z" stroke="#eec05e"/><path d="M264.3 73.1L273.4 88.7" stroke="#f0c05d"/><path d="M279.8 90.3L273.4 88.7" stroke="#cdc26d"/><path d="M195.3 122.6L186.2 128.1L192.9 115.2L202 108.3Z" stroke="#9ac581"/><path d="M186.2 128.1L195.3 122.6" stroke="#7dc58e"/><path d="M202 108.3L195.3 122.6" stroke="#acc57a"/><path d="M325.3 204.2L316.2 182.1L322.4 192.6L331.5 214.9Z" stroke="#20a4d5"/><path d="M316.2 182.1L325.3 204.2" stroke="#1fafcd"/><path d="M331.5 214.9L325.3 204.2" stroke="#2b8dda"/><path d="M358.8 259.5L349.7 249.1L355.9 257L365 265.4Z" stroke="#4557c3"/><path d="M349.7 249.1L358.8 259.5" stroke="#2c69de"/><path d="M365 265.4L358.8 259.5" stroke="#4a4daf"/><path d="M282.5 107.4L273.4 88.7L279.8 90.3L288.9 111.6Z" stroke="#cdc26d"/><path d="M273.4 88.7L282.5 107.4" stroke="#d5c26a"/><path d="M288.9 111.6L282.5 107.4" stroke="#a3c57e"/><path d="M211.1 103.5L202 108.3L208.6 93.5L217.7 88.6Z" stroke="#c8c36f"/><path d="M202 108.3L211.1 103.5" stroke="#acc57a"/><path d="M217.7 88.6L211.1 103.5" stroke="#d5c26a"/><path d="M258 76.9L248.9 67.7L255.2 61.1L264.3 73.1Z" stroke="#fec64f"/><path d="M248.9 67.7L258 76.9" stroke="#fac256"/><path d="M264.3 73.1L258 76.9" stroke="#f0c05d"/><path d="M334.3 223.7L325.3 204.2L331.5 214.9L340.6 234Z" stroke="#2b8dda"/><path d="M325.3 204.2L334.3 223.7" stroke="#279bd7"/><path d="M340.6 234L334.3 223.7" stroke="#1f7de3"/><path d="M419.5 218.4L410.4 238.4L416.4 228.3L425.5 206.7Z" stroke="#2381e1"/><path d="M410.4 238.4L419.5 218.4" stroke="#1c79e4"/><path d="M425.5 206.7L419.5 218.4" stroke="#2997d7"/><path d="M226.8 86.7L217.7 88.6L224.2 74.4L233.3 73.7Z" stroke="#ecc05f"/><path d="M217.7 88.6L226.8 86.7" stroke="#d5c26a"/><path d="M233.3 73.7L226.8 86.7" stroke="#f0c05d"/><path d="M383.2 265.6L374.1 268.3L380.2 269.5L389.3 264.1Z" stroke="#4a46a1"/><path d="M374.1 268.3L383.2 265.6" stroke="#4a4aa9"/><path d="M389.3 264.1L383.2 265.6" stroke="#4952b7"/><path d="M242.4 76.7L233.3 73.7L239.8 62.5L248.9 67.7Z" stroke="#fec550"/><path d="M233.3 73.7L242.4 76.7" stroke="#f0c05d"/><path d="M248.9 67.7L242.4 76.7" stroke="#fac256"/><path d="M291.6 128.2L282.5 107.4L288.9 111.6L298 134.7Z" stroke="#a3c57e"/><path d="M282.5 107.4L291.6 128.2" stroke="#b2c478"/><path d="M298 134.7L291.6 128.2" stroke="#6dc495"/><path d="M398.4 253.3L389.3 264.1L395.4 260.3L404.5 246.8Z" stroke="#4754bd"/><path d="M389.3 264.1L398.4 253.3" stroke="#4952b7"/><path d="M404.5 246.8L398.4 253.3" stroke="#2070e3"/><path d="M172.7 148.4L163.6 149.9L170.4 143.6L179.5 139.4Z" stroke="#54c1a3"/><path d="M163.6 149.9L172.7 148.4" stroke="#48bfaa"/><path d="M179.5 139.4L172.7 148.4" stroke="#62c39b"/><path d="M367.9 264.7L358.8 259.5L365 265.4L374.1 268.3Z" stroke="#4a4daf"/><path d="M358.8 259.5L367.9 264.7" stroke="#4459c6"/><path d="M374.1 268.3L367.9 264.7" stroke="#4a4aa9"/><path d="M188.6 135.7L179.5 139.4L186.2 128.1L195.3 122.6Z" stroke="#7dc58e"/><path d="M179.5 139.4L188.6 135.7" stroke="#62c39b"/><path d="M195.3 122.6L188.6 135.7" stroke="#8fc586"/><path d="M343.4 239.8L334.3 223.7L340.6 234L349.7 249.1Z" stroke="#1f7de3"/><path d="M334.3 223.7L343.4 239.8" stroke="#2988dd"/><path d="M349.7 249.1L343.4 239.8" stroke="#2c69de"/><path d="M300.7 150.2L291.6 128.2L298 134.7L307.1 158.6Z" stroke="#6dc495"/><path d="M291.6 128.2L300.7 150.2" stroke="#82c58c"/><path d="M307.1 158.6L300.7 150.2" stroke="#36bbb5"/><path d="M267 89.7L258 76.9L264.3 73.1L273.4 88.7Z" stroke="#f0c05d"/><path d="M258 76.9L267 89.7" stroke="#ecc05f"/><path d="M273.4 88.7L267 89.7" stroke="#d5c26a"/><path d="M204.4 118.5L195.3 122.6L202 108.3L211.1 103.5Z" stroke="#acc57a"/><path d="M195.3 122.6L204.4 118.5" stroke="#8fc586"/><path d="M211.1 103.5L204.4 118.5" stroke="#bac475"/><path d="M309.8 172.3L300.7 150.2L307.1 158.6L316.2 182.1Z" stroke="#36bbb5"/><path d="M300.7 150.2L309.8 172.3" stroke="#4dc0a7"/><path d="M316.2 182.1L309.8 172.3" stroke="#1fafcd"/><path d="M413.6 228.8L404.5 246.8L410.4 238.4L419.5 218.4Z" stroke="#1c79e4"/><path d="M404.5 246.8L413.6 228.8" stroke="#2070e3"/><path d="M419.5 218.4L413.6 228.8" stroke="#2b8dda"/><path d="M220.2 101L211.1 103.5L217.7 88.6L226.8 86.7Z" stroke="#d5c26a"/><path d="M211.1 103.5L220.2 101" stroke="#bac475"/><path d="M226.8 86.7L220.2 101" stroke="#dac168"/><path d="M251.5 83.4L242.4 76.7L248.9 67.7L258 76.9Z" stroke="#fac256"/><path d="M242.4 76.7L251.5 83.4" stroke="#ecc05f"/><path d="M258 76.9L251.5 83.4" stroke="#ecc05f"/><path d="M352.5 251.7L343.4 239.8L349.7 249.1L358.8 259.5Z" stroke="#2c69de"/><path d="M343.4 239.8L352.5 251.7" stroke="#1c7ae3"/><path d="M358.8 259.5L352.5 251.7" stroke="#4459c6"/><path d="M235.9 88L226.8 86.7L233.3 73.7L242.4 76.7Z" stroke="#f0c05d"/><path d="M226.8 86.7L235.9 88" stroke="#dac168"/><path d="M242.4 76.7L235.9 88" stroke="#ecc05f"/><path d="M276.1 105.6L267 89.7L273.4 88.7L282.5 107.4Z" stroke="#d5c26a"/><path d="M267 89.7L276.1 105.6" stroke="#d7c269"/><path d="M282.5 107.4L276.1 105.6" stroke="#b2c478"/><path d="M318.9 193.5L309.8 172.3L316.2 182.1L325.3 204.2Z" stroke="#1fafcd"/><path d="M309.8 172.3L318.9 193.5" stroke="#26b6c1"/><path d="M325.3 204.2L318.9 193.5" stroke="#279bd7"/><path d="M392.3 257.5L383.2 265.6L389.3 264.1L398.4 253.3Z" stroke="#4952b7"/><path d="M383.2 265.6L392.3 257.5" stroke="#4952b7"/><path d="M398.4 253.3L392.3 257.5" stroke="#3067dc"/><path d="M377 264.6L367.9 264.7L374.1 268.3L383.2 265.6Z" stroke="#4a4aa9"/><path d="M367.9 264.7L377 264.6" stroke="#4853ba"/><path d="M383.2 265.6L377 264.6" stroke="#4952b7"/><path d="M181.8 147.1L172.7 148.4L179.5 139.4L188.6 135.7Z" stroke="#62c39b"/><path d="M172.7 148.4L181.8 147.1" stroke="#4fc0a6"/><path d="M188.6 135.7L181.8 147.1" stroke="#70c494"/><path d="M165.8 154.7L156.7 153.2L163.6 149.9L172.7 148.4Z" stroke="#48bfaa"/><path d="M156.7 153.2L165.8 154.7" stroke="#46bfab"/><path d="M172.7 148.4L165.8 154.7" stroke="#4fc0a6"/><path d="M328 212.8L318.9 193.5L325.3 204.2L334.3 223.7Z" stroke="#279bd7"/><path d="M318.9 193.5L328 212.8" stroke="#1fa8d3"/><path d="M334.3 223.7L328 212.8" stroke="#2988dd"/><path d="M285.2 123.8L276.1 105.6L282.5 107.4L291.6 128.2Z" stroke="#b2c478"/><path d="M276.1 105.6L285.2 123.8" stroke="#b8c476"/><path d="M291.6 128.2L285.2 123.8" stroke="#82c58c"/><path d="M197.7 132.9L188.6 135.7L195.3 122.6L204.4 118.5Z" stroke="#8fc586"/><path d="M188.6 135.7L197.7 132.9" stroke="#70c494"/><path d="M204.4 118.5L197.7 132.9" stroke="#9dc581"/><path d="M428.6 195.3L419.5 218.4L425.5 206.7L434.5 182.5Z" stroke="#2997d7"/><path d="M419.5 218.4L428.6 195.3" stroke="#2b8dda"/><path d="M434.5 182.5L428.6 195.3" stroke="#1fb0cb"/><path d="M260.6 93.4L251.5 83.4L258 76.9L267 89.7Z" stroke="#ecc05f"/><path d="M251.5 83.4L260.6 93.4" stroke="#e3c064"/><path d="M267 89.7L260.6 93.4" stroke="#d7c269"/><path d="M407.5 237.6L398.4 253.3L404.5 246.8L413.6 228.8Z" stroke="#2070e3"/><path d="M398.4 253.3L407.5 237.6" stroke="#3067dc"/><path d="M413.6 228.8L407.5 237.6" stroke="#2785df"/><path d="M213.5 116L204.4 118.5L211.1 103.5L220.2 101Z" stroke="#bac475"/><path d="M204.4 118.5L213.5 116" stroke="#9dc581"/><path d="M220.2 101L213.5 116" stroke="#c2c372"/><path d="M361.6 259L352.5 251.7L358.8 259.5L367.9 264.7Z" stroke="#4459c6"/><path d="M352.5 251.7L361.6 259" stroke="#286be0"/><path d="M367.9 264.7L361.6 259" stroke="#4853ba"/><path d="M294.3 143.4L285.2 123.8L291.6 128.2L300.7 150.2Z" stroke="#82c58c"/><path d="M285.2 123.8L294.3 143.4" stroke="#93c584"/><path d="M300.7 150.2L294.3 143.4" stroke="#4dc0a7"/><path d="M229.3 101L220.2 101L226.8 86.7L235.9 88Z" stroke="#dac168"/><path d="M220.2 101L229.3 101" stroke="#c2c372"/><path d="M235.9 88L229.3 101" stroke="#dac168"/><path d="M245 92.4L235.9 88L242.4 76.7L251.5 83.4Z" stroke="#ecc05f"/><path d="M235.9 88L245 92.4" stroke="#dac168"/><path d="M251.5 83.4L245 92.4" stroke="#e3c064"/><path d="M337.1 229.4L328 212.8L334.3 223.7L343.4 239.8Z" stroke="#2988dd"/><path d="M328 212.8L337.1 229.4" stroke="#2b94d7"/><path d="M343.4 239.8L337.1 229.4" stroke="#1c7ae3"/><path d="M303.4 163.6L294.3 143.4L300.7 150.2L309.8 172.3Z" stroke="#4dc0a7"/><path d="M294.3 143.4L303.4 163.6" stroke="#62c39b"/><path d="M309.8 172.3L303.4 163.6" stroke="#26b6c1"/><path d="M269.7 106.4L260.6 93.4L267 89.7L276.1 105.6Z" stroke="#d7c269"/><path d="M260.6 93.4L269.7 106.4" stroke="#d3c26b"/><path d="M276.1 105.6L269.7 106.4" stroke="#b8c476"/><path d="M174.9 156.2L165.8 154.7L172.7 148.4L181.8 147.1Z" stroke="#4fc0a6"/><path d="M165.8 154.7L174.9 156.2" stroke="#46bfab"/><path d="M181.8 147.1L174.9 156.2" stroke="#56c2a2"/><path d="M190.9 146.2L181.8 147.1L188.6 135.7L197.7 132.9Z" stroke="#70c494"/><path d="M181.8 147.1L190.9 146.2" stroke="#56c2a2"/><path d="M197.7 132.9L190.9 146.2" stroke="#7dc58e"/><path d="M422.6 207.3L413.6 228.8L419.5 218.4L428.6 195.3Z" stroke="#2b8dda"/><path d="M413.6 228.8L422.6 207.3" stroke="#2785df"/><path d="M428.6 195.3L422.6 207.3" stroke="#1fa7d4"/><path d="M386.1 259.2L377 264.6L383.2 265.6L392.3 257.5Z" stroke="#4952b7"/><path d="M377 264.6L386.1 259.2" stroke="#4756c0"/><path d="M392.3 257.5L386.1 259.2" stroke="#3a62d4"/><path d="M346.2 242.3L337.1 229.4L343.4 239.8L352.5 251.7Z" stroke="#1c7ae3"/><path d="M337.1 229.4L346.2 242.3" stroke="#2786de"/><path d="M352.5 251.7L346.2 242.3" stroke="#286be0"/><path d="M206.8 131.2L197.7 132.9L204.4 118.5L213.5 116Z" stroke="#9dc581"/><path d="M197.7 132.9L206.8 131.2" stroke="#7dc58e"/><path d="M213.5 116L206.8 131.2" stroke="#a6c57d"/><path d="M312.5 183.5L303.4 163.6L309.8 172.3L318.9 193.5Z" stroke="#26b6c1"/><path d="M303.4 163.6L312.5 183.5" stroke="#36bbb5"/><path d="M318.9 193.5L312.5 183.5" stroke="#1fa8d3"/><path d="M158.8 158.1L149.7 153.5L156.7 153.2L165.8 154.7Z" stroke="#46bfab"/><path d="M149.7 153.5L158.8 158.1" stroke="#48bfaa"/><path d="M165.8 154.7L158.8 158.1" stroke="#46bfab"/><path d="M370.7 261.2L361.6 259L367.9 264.7L377 264.6Z" stroke="#4853ba"/><path d="M361.6 259L370.7 261.2" stroke="#3c60d1"/><path d="M377 264.6L370.7 261.2" stroke="#4756c0"/><path d="M401.4 244.4L392.3 257.5L398.4 253.3L407.5 237.6Z" stroke="#3067dc"/><path d="M392.3 257.5L401.4 244.4" stroke="#3a62d4"/><path d="M407.5 237.6L401.4 244.4" stroke="#217fe2"/><path d="M254.1 99.9L245 92.4L251.5 83.4L260.6 93.4Z" stroke="#e3c064"/><path d="M245 92.4L254.1 99.9" stroke="#d5c26a"/><path d="M260.6 93.4L254.1 99.9" stroke="#d3c26b"/><path d="M222.6 115.4L213.5 116L220.2 101L229.3 101Z" stroke="#c2c372"/><path d="M213.5 116L222.6 115.4" stroke="#a6c57d"/><path d="M229.3 101L222.6 115.4" stroke="#c4c371"/><path d="M278.8 121.8L269.7 106.4L276.1 105.6L285.2 123.8Z" stroke="#b8c476"/><path d="M269.7 106.4L278.8 121.8" stroke="#bac475"/><path d="M285.2 123.8L278.8 121.8" stroke="#93c584"/><path d="M238.4 103.7L229.3 101L235.9 88L245 92.4Z" stroke="#dac168"/><path d="M229.3 101L238.4 103.7" stroke="#c4c371"/><path d="M245 92.4L238.4 103.7" stroke="#d5c26a"/><path d="M321.6 202L312.5 183.5L318.9 193.5L328 212.8Z" stroke="#1fa8d3"/><path d="M312.5 183.5L321.6 202" stroke="#1fb1ca"/><path d="M328 212.8L321.6 202" stroke="#2b94d7"/><path d="M355.3 251.2L346.2 242.3L352.5 251.7L361.6 259Z" stroke="#286be0"/><path d="M346.2 242.3L355.3 251.2" stroke="#1d7be3"/><path d="M361.6 259L355.3 251.2" stroke="#3c60d1"/><path d="M416.6 218L407.5 237.6L413.6 228.8L422.6 207.3Z" stroke="#2785df"/><path d="M407.5 237.6L416.6 218" stroke="#217fe2"/><path d="M422.6 207.3L416.6 218" stroke="#269cd6"/><path d="M287.9 138.8L278.8 121.8L285.2 123.8L294.3 143.4Z" stroke="#93c584"/><path d="M278.8 121.8L287.9 138.8" stroke="#9dc581"/><path d="M294.3 143.4L287.9 138.8" stroke="#62c39b"/><path d="M437.7 170.2L428.6 195.3L434.5 182.5L443.6 156.9Z" stroke="#1fb0cb"/><path d="M428.6 195.3L437.7 170.2" stroke="#1fa7d4"/><path d="M443.6 156.9L437.7 170.2" stroke="#46bfab"/><path d="M184 157.7L174.9 156.2L181.8 147.1L190.9 146.2Z" stroke="#56c2a2"/><path d="M174.9 156.2L184 157.7" stroke="#46bfab"/><path d="M190.9 146.2L184 157.7" stroke="#5dc39d"/><path d="M263.1 110L254.1 99.9L260.6 93.4L269.7 106.4Z" stroke="#d3c26b"/><path d="M254.1 99.9L263.1 110" stroke="#cac36f"/><path d="M269.7 106.4L263.1 110" stroke="#bac475"/><path d="M199.9 145.8L190.9 146.2L197.7 132.9L206.8 131.2Z" stroke="#7dc58e"/><path d="M190.9 146.2L199.9 145.8" stroke="#5dc39d"/><path d="M206.8 131.2L199.9 145.8" stroke="#85c58b"/><path d="M330.7 218.4L321.6 202L328 212.8L337.1 229.4Z" stroke="#2b94d7"/><path d="M321.6 202L330.7 218.4" stroke="#21a2d6"/><path d="M337.1 229.4L330.7 218.4" stroke="#2786de"/><path d="M167.9 162.6L158.8 158.1L165.8 154.7L174.9 156.2Z" stroke="#46bfab"/><path d="M158.8 158.1L167.9 162.6" stroke="#42beae"/><path d="M174.9 156.2L167.9 162.6" stroke="#46bfab"/><path d="M215.9 130.6L206.8 131.2L213.5 116L222.6 115.4Z" stroke="#a6c57d"/><path d="M206.8 131.2L215.9 130.6" stroke="#85c58b"/><path d="M222.6 115.4L215.9 130.6" stroke="#aac57b"/><path d="M379.8 258.5L370.7 261.2L377 264.6L386.1 259.2Z" stroke="#4756c0"/><path d="M370.7 261.2L379.8 258.5" stroke="#3f5ecf"/><path d="M386.1 259.2L379.8 258.5" stroke="#3a62d4"/><path d="M297 156.7L287.9 138.8L294.3 143.4L303.4 163.6Z" stroke="#62c39b"/><path d="M287.9 138.8L297 156.7" stroke="#72c593"/><path d="M303.4 163.6L297 156.7" stroke="#36bbb5"/><path d="M247.5 108.9L238.4 103.7L245 92.4L254.1 99.9Z" stroke="#d5c26a"/><path d="M238.4 103.7L247.5 108.9" stroke="#c2c372"/><path d="M254.1 99.9L247.5 108.9" stroke="#cac36f"/><path d="M395.2 248.9L386.1 259.2L392.3 257.5L401.4 244.4Z" stroke="#3a62d4"/><path d="M386.1 259.2L395.2 248.9" stroke="#3a62d4"/><path d="M401.4 244.4L395.2 248.9" stroke="#1c79e4"/><path d="M231.7 116.8L222.6 115.4L229.3 101L238.4 103.7Z" stroke="#c4c371"/><path d="M222.6 115.4L231.7 116.8" stroke="#aac57b"/><path d="M238.4 103.7L231.7 116.8" stroke="#c2c372"/><path d="M151.8 158.3L142.7 150.7L149.7 153.5L158.8 158.1Z" stroke="#48bfaa"/><path d="M142.7 150.7L151.8 158.3" stroke="#54c1a3"/><path d="M158.8 158.1L151.8 158.3" stroke="#42beae"/><path d="M272.2 122.5L263.1 110L269.7 106.4L278.8 121.8Z" stroke="#bac475"/><path d="M263.1 110L272.2 122.5" stroke="#b8c476"/><path d="M278.8 121.8L272.2 122.5" stroke="#9dc581"/><path d="M364.4 255.6L355.3 251.2L361.6 259L370.7 261.2Z" stroke="#3c60d1"/><path d="M355.3 251.2L364.4 255.6" stroke="#1d72e4"/><path d="M370.7 261.2L364.4 255.6" stroke="#3f5ecf"/><path d="M339.8 231.9L330.7 218.4L337.1 229.4L346.2 242.3Z" stroke="#2786de"/><path d="M330.7 218.4L339.8 231.9" stroke="#2c91d8"/><path d="M346.2 242.3L339.8 231.9" stroke="#1d7be3"/><path d="M431.7 183.3L422.6 207.3L428.6 195.3L437.7 170.2Z" stroke="#1fa7d4"/><path d="M422.6 207.3L431.7 183.3" stroke="#269cd6"/><path d="M437.7 170.2L431.7 183.3" stroke="#2eb9bb"/><path d="M306.1 174.6L297 156.7L303.4 163.6L312.5 183.5Z" stroke="#36bbb5"/><path d="M297 156.7L306.1 174.6" stroke="#48bfaa"/><path d="M312.5 183.5L306.1 174.6" stroke="#1fb1ca"/><path d="M410.5 227.1L401.4 244.4L407.5 237.6L416.6 218Z" stroke="#217fe2"/><path d="M401.4 244.4L410.5 227.1" stroke="#1c79e4"/><path d="M416.6 218L410.5 227.1" stroke="#2b92d8"/><path d="M193.1 159.2L184 157.7L190.9 146.2L199.9 145.8Z" stroke="#5dc39d"/><path d="M184 157.7L193.1 159.2" stroke="#44beac"/><path d="M199.9 145.8L193.1 159.2" stroke="#62c39b"/><path d="M177 166.9L167.9 162.6L174.9 156.2L184 157.7Z" stroke="#46bfab"/><path d="M167.9 162.6L177 166.9" stroke="#3cbdb1"/><path d="M184 157.7L177 166.9" stroke="#44beac"/><path d="M209 145.9L199.9 145.8L206.8 131.2L215.9 130.6Z" stroke="#85c58b"/><path d="M199.9 145.8L209 145.9" stroke="#62c39b"/><path d="M215.9 130.6L209 145.9" stroke="#8ac588"/><path d="M256.5 116.4L247.5 108.9L254.1 99.9L263.1 110Z" stroke="#cac36f"/><path d="M247.5 108.9L256.5 116.4" stroke="#bac475"/><path d="M263.1 110L256.5 116.4" stroke="#b8c476"/><path d="M315.2 191.8L306.1 174.6L312.5 183.5L321.6 202Z" stroke="#1fb1ca"/><path d="M306.1 174.6L315.2 191.8" stroke="#28b7bf"/><path d="M321.6 202L315.2 191.8" stroke="#21a2d6"/><path d="M281.3 136.6L272.2 122.5L278.8 121.8L287.9 138.8Z" stroke="#9dc581"/><path d="M272.2 122.5L281.3 136.6" stroke="#9fc580"/><path d="M287.9 138.8L281.3 136.6" stroke="#72c593"/><path d="M224.9 131.3L215.9 130.6L222.6 115.4L231.7 116.8Z" stroke="#aac57b"/><path d="M215.9 130.6L224.9 131.3" stroke="#8ac588"/><path d="M231.7 116.8L224.9 131.3" stroke="#aac57b"/><path d="M240.8 120.2L231.7 116.8L238.4 103.7L247.5 108.9Z" stroke="#c2c372"/><path d="M231.7 116.8L240.8 120.2" stroke="#aac57b"/><path d="M247.5 108.9L240.8 120.2" stroke="#bac475"/><path d="M348.9 241.9L339.8 231.9L346.2 242.3L355.3 251.2Z" stroke="#1d7be3"/><path d="M339.8 231.9L348.9 241.9" stroke="#2887de"/><path d="M355.3 251.2L348.9 241.9" stroke="#1d72e4"/><path d="M160.9 165.9L151.8 158.3L158.8 158.1L167.9 162.6Z" stroke="#42beae"/><path d="M151.8 158.3L160.9 165.9" stroke="#46bfab"/><path d="M167.9 162.6L160.9 165.9" stroke="#3cbdb1"/><path d="M388.9 251L379.8 258.5L386.1 259.2L395.2 248.9Z" stroke="#3a62d4"/><path d="M379.8 258.5L388.9 251" stroke="#3465da"/><path d="M395.2 248.9L388.9 251" stroke="#1b76e4"/><path d="M425.7 195.5L416.6 218L422.6 207.3L431.7 183.3Z" stroke="#269cd6"/><path d="M416.6 218L425.7 195.5" stroke="#2b92d8"/><path d="M431.7 183.3L425.7 195.5" stroke="#20b2c7"/><path d="M373.5 255.3L364.4 255.6L370.7 261.2L379.8 258.5Z" stroke="#3f5ecf"/><path d="M364.4 255.6L373.5 255.3" stroke="#256de1"/><path d="M379.8 258.5L373.5 255.3" stroke="#3465da"/><path d="M324.3 207.5L315.2 191.8L321.6 202L330.7 218.4Z" stroke="#21a2d6"/><path d="M315.2 191.8L324.3 207.5" stroke="#1fadce"/><path d="M330.7 218.4L324.3 207.5" stroke="#2c91d8"/><path d="M290.4 151.9L281.3 136.6L287.9 138.8L297 156.7Z" stroke="#72c593"/><path d="M281.3 136.6L290.4 151.9" stroke="#80c58d"/><path d="M297 156.7L290.4 151.9" stroke="#48bfaa"/><path d="M446.8 144.6L437.7 170.2L443.6 156.9L452.7 131.3Z" stroke="#46bfab"/><path d="M437.7 170.2L446.8 144.6" stroke="#2eb9bb"/><path d="M452.7 131.3L446.8 144.6" stroke="#8cc587"/><path d="M404.3 234.3L395.2 248.9L401.4 244.4L410.5 227.1Z" stroke="#1c79e4"/><path d="M395.2 248.9L404.3 234.3" stroke="#1b76e4"/><path d="M410.5 227.1L404.3 234.3" stroke="#2b8bdb"/><path d="M265.6 126L256.5 116.4L263.1 110L272.2 122.5Z" stroke="#b8c476"/><path d="M256.5 116.4L265.6 126" stroke="#aec57a"/><path d="M272.2 122.5L265.6 126" stroke="#9fc580"/><path d="M202.2 160.7L193.1 159.2L199.9 145.8L209 145.9Z" stroke="#62c39b"/><path d="M193.1 159.2L202.2 160.7" stroke="#44beac"/><path d="M209 145.9L202.2 160.7" stroke="#65c399"/><path d="M186.1 170.8L177 166.9L184 157.7L193.1 159.2Z" stroke="#44beac"/><path d="M177 166.9L186.1 170.8" stroke="#36bbb5"/><path d="M193.1 159.2L186.1 170.8" stroke="#44beac"/><path d="M144.8 155.3L135.7 144.9L142.7 150.7L151.8 158.3Z" stroke="#54c1a3"/><path d="M135.7 144.9L144.8 155.3" stroke="#6ac497"/><path d="M151.8 158.3L144.8 155.3" stroke="#46bfab"/><path d="M218.1 146.7L209 145.9L215.9 130.6L224.9 131.3Z" stroke="#8ac588"/><path d="M209 145.9L218.1 146.7" stroke="#65c399"/><path d="M224.9 131.3L218.1 146.7" stroke="#8cc587"/><path d="M358 247.9L348.9 241.9L355.3 251.2L364.4 255.6Z" stroke="#1d72e4"/><path d="M348.9 241.9L358 247.9" stroke="#217fe2"/><path d="M364.4 255.6L358 247.9" stroke="#256de1"/><path d="M249.9 125.4L240.8 120.2L247.5 108.9L256.5 116.4Z" stroke="#bac475"/><path d="M240.8 120.2L249.9 125.4" stroke="#a6c57d"/><path d="M256.5 116.4L249.9 125.4" stroke="#aec57a"/><path d="M234 133.4L224.9 131.3L231.7 116.8L240.8 120.2Z" stroke="#aac57b"/><path d="M224.9 131.3L234 133.4" stroke="#8cc587"/><path d="M240.8 120.2L234 133.4" stroke="#a6c57d"/><path d="M299.5 167.5L290.4 151.9L297 156.7L306.1 174.6Z" stroke="#48bfaa"/><path d="M290.4 151.9L299.5 167.5" stroke="#58c2a0"/><path d="M306.1 174.6L299.5 167.5" stroke="#28b7bf"/><path d="M170 173.3L160.9 165.9L167.9 162.6L177 166.9Z" stroke="#3cbdb1"/><path d="M160.9 165.9L170 173.3" stroke="#38bcb4"/><path d="M177 166.9L170 173.3" stroke="#36bbb5"/><path d="M333.4 220.8L324.3 207.5L330.7 218.4L339.8 231.9Z" stroke="#2c91d8"/><path d="M324.3 207.5L333.4 220.8" stroke="#23a0d6"/><path d="M339.8 231.9L333.4 220.8" stroke="#2887de"/><path d="M419.6 206.6L410.5 227.1L416.6 218L425.7 195.5Z" stroke="#2b92d8"/><path d="M410.5 227.1L419.6 206.6" stroke="#2b8bdb"/><path d="M425.7 195.5L419.6 206.6" stroke="#1fabd1"/><path d="M274.7 137.2L265.6 126L272.2 122.5L281.3 136.6Z" stroke="#9fc580"/><path d="M265.6 126L274.7 137.2" stroke="#9ac581"/><path d="M281.3 136.6L274.7 137.2" stroke="#80c58d"/><path d="M440.8 158.1L431.7 183.3L437.7 170.2L446.8 144.6Z" stroke="#2eb9bb"/><path d="M431.7 183.3L440.8 158.1" stroke="#20b2c7"/><path d="M446.8 144.6L440.8 158.1" stroke="#6dc495"/><path d="M308.6 182.8L299.5 167.5L306.1 174.6L315.2 191.8Z" stroke="#28b7bf"/><path d="M299.5 167.5L308.6 182.8" stroke="#38bcb4"/><path d="M315.2 191.8L308.6 182.8" stroke="#1fadce"/><path d="M382.6 250.4L373.5 255.3L379.8 258.5L388.9 251Z" stroke="#3465da"/><path d="M373.5 255.3L382.6 250.4" stroke="#2070e3"/><path d="M388.9 251L382.6 250.4" stroke="#1b76e4"/><path d="M153.8 166L144.8 155.3L151.8 158.3L160.9 165.9Z" stroke="#46bfab"/><path d="M144.8 155.3L153.8 166" stroke="#51c1a4"/><path d="M160.9 165.9L153.8 166" stroke="#38bcb4"/><path d="M398 239.1L388.9 251L395.2 248.9L404.3 234.3Z" stroke="#1b76e4"/><path d="M388.9 251L398 239.1" stroke="#1b76e4"/><path d="M404.3 234.3L398 239.1" stroke="#2786de"/><path d="M342.5 231.3L333.4 220.8L339.8 231.9L348.9 241.9Z" stroke="#2887de"/><path d="M333.4 220.8L342.5 231.3" stroke="#2b92d8"/><path d="M348.9 241.9L342.5 231.3" stroke="#217fe2"/><path d="M259 132.3L249.9 125.4L256.5 116.4L265.6 126Z" stroke="#aec57a"/><path d="M249.9 125.4L259 132.3" stroke="#9dc581"/><path d="M265.6 126L259 132.3" stroke="#9ac581"/><path d="M195.2 174.2L186.1 170.8L193.1 159.2L202.2 160.7Z" stroke="#44beac"/><path d="M186.1 170.8L195.2 174.2" stroke="#31bab8"/><path d="M202.2 160.7L195.2 174.2" stroke="#44beac"/><path d="M211.3 162.1L202.2 160.7L209 145.9L218.1 146.7Z" stroke="#65c399"/><path d="M202.2 160.7L211.3 162.1" stroke="#44beac"/><path d="M218.1 146.7L211.3 162.1" stroke="#68c498"/><path d="M367.1 249.7L358 247.9L364.4 255.6L373.5 255.3Z" stroke="#256de1"/><path d="M358 247.9L367.1 249.7" stroke="#1c7ae3"/><path d="M373.5 255.3L367.1 249.7" stroke="#2070e3"/><path d="M283.8 149.6L274.7 137.2L281.3 136.6L290.4 151.9Z" stroke="#80c58d"/><path d="M274.7 137.2L283.8 149.6" stroke="#82c58c"/><path d="M290.4 151.9L283.8 149.6" stroke="#58c2a0"/><path d="M227.2 148.1L218.1 146.7L224.9 131.3L234 133.4Z" stroke="#8cc587"/><path d="M218.1 146.7L227.2 148.1" stroke="#68c498"/><path d="M234 133.4L227.2 148.1" stroke="#8ac588"/><path d="M179.1 180L170 173.3L177 166.9L186.1 170.8Z" stroke="#36bbb5"/><path d="M170 173.3L179.1 180" stroke="#2eb9bb"/><path d="M186.1 170.8L179.1 180" stroke="#31bab8"/><path d="M243.1 136.8L234 133.4L240.8 120.2L249.9 125.4Z" stroke="#a6c57d"/><path d="M234 133.4L243.1 136.8" stroke="#8ac588"/><path d="M249.9 125.4L243.1 136.8" stroke="#9dc581"/><path d="M317.7 197.1L308.6 182.8L315.2 191.8L324.3 207.5Z" stroke="#1fadce"/><path d="M308.6 182.8L317.7 197.1" stroke="#22b4c4"/><path d="M324.3 207.5L317.7 197.1" stroke="#23a0d6"/><path d="M434.8 171.4L425.7 195.5L431.7 183.3L440.8 158.1Z" stroke="#20b2c7"/><path d="M425.7 195.5L434.8 171.4" stroke="#1fabd1"/><path d="M440.8 158.1L434.8 171.4" stroke="#4dc0a7"/><path d="M413.4 216.1L404.3 234.3L410.5 227.1L419.6 206.6Z" stroke="#2b8bdb"/><path d="M404.3 234.3L413.4 216.1" stroke="#2786de"/><path d="M419.6 206.6L413.4 216.1" stroke="#21a2d6"/><path d="M162.9 176.5L153.8 166L160.9 165.9L170 173.3Z" stroke="#38bcb4"/><path d="M153.8 166L162.9 176.5" stroke="#3cbdb1"/><path d="M170 173.3L162.9 176.5" stroke="#2eb9bb"/><path d="M455.9 119.7L446.8 144.6L452.7 131.3L461.8 107Z" stroke="#8cc587"/><path d="M446.8 144.6L455.9 119.7" stroke="#6dc495"/><path d="M461.8 107L455.9 119.7" stroke="#c6c370"/><path d="M137.6 149.4L128.5 136.5L135.7 144.9L144.8 155.3Z" stroke="#6ac497"/><path d="M128.5 136.5L137.6 149.4" stroke="#85c58b"/><path d="M144.8 155.3L137.6 149.4" stroke="#51c1a4"/><path d="M292.9 162.5L283.8 149.6L290.4 151.9L299.5 167.5Z" stroke="#58c2a0"/><path d="M283.8 149.6L292.9 162.5" stroke="#62c39b"/><path d="M299.5 167.5L292.9 162.5" stroke="#38bcb4"/><path d="M268.1 140.7L259 132.3L265.6 126L274.7 137.2Z" stroke="#9ac581"/><path d="M259 132.3L268.1 140.7" stroke="#8fc586"/><path d="M274.7 137.2L268.1 140.7" stroke="#82c58c"/><path d="M351.5 238.5L342.5 231.3L348.9 241.9L358 247.9Z" stroke="#217fe2"/><path d="M342.5 231.3L351.5 238.5" stroke="#2a8adc"/><path d="M358 247.9L351.5 238.5" stroke="#1c7ae3"/><path d="M326.8 209.8L317.7 197.1L324.3 207.5L333.4 220.8Z" stroke="#23a0d6"/><path d="M317.7 197.1L326.8 209.8" stroke="#1facd0"/><path d="M333.4 220.8L326.8 209.8" stroke="#2b92d8"/><path d="M204.3 177L195.2 174.2L202.2 160.7L211.3 162.1Z" stroke="#44beac"/><path d="M195.2 174.2L204.3 177" stroke="#2eb9bb"/><path d="M211.3 162.1L204.3 177" stroke="#44beac"/><path d="M220.4 163.6L211.3 162.1L218.1 146.7L227.2 148.1Z" stroke="#68c498"/><path d="M211.3 162.1L220.4 163.6" stroke="#44beac"/><path d="M227.2 148.1L220.4 163.6" stroke="#68c498"/><path d="M188.2 185.9L179.1 180L186.1 170.8L195.2 174.2Z" stroke="#31bab8"/><path d="M179.1 180L188.2 185.9" stroke="#26b6c1"/><path d="M195.2 174.2L188.2 185.9" stroke="#2eb9bb"/><path d="M252.2 141.4L243.1 136.8L249.9 125.4L259 132.3Z" stroke="#9dc581"/><path d="M243.1 136.8L252.2 141.4" stroke="#85c58b"/><path d="M259 132.3L252.2 141.4" stroke="#8fc586"/><path d="M236.3 150.2L227.2 148.1L234 133.4L243.1 136.8Z" stroke="#8ac588"/><path d="M227.2 148.1L236.3 150.2" stroke="#68c498"/><path d="M243.1 136.8L236.3 150.2" stroke="#85c58b"/><path d="M391.7 241.4L382.6 250.4L388.9 251L398 239.1Z" stroke="#1b76e4"/><path d="M382.6 250.4L391.7 241.4" stroke="#1b78e4"/><path d="M398 239.1L391.7 241.4" stroke="#2583e0"/><path d="M376.2 247.4L367.1 249.7L373.5 255.3L382.6 250.4Z" stroke="#2070e3"/><path d="M367.1 249.7L376.2 247.4" stroke="#1c79e4"/><path d="M382.6 250.4L376.2 247.4" stroke="#1b78e4"/><path d="M428.7 183.9L419.6 206.6L425.7 195.5L434.8 171.4Z" stroke="#1fabd1"/><path d="M419.6 206.6L428.7 183.9" stroke="#21a2d6"/><path d="M434.8 171.4L428.7 183.9" stroke="#35bbb6"/><path d="M302 175.5L292.9 162.5L299.5 167.5L308.6 182.8Z" stroke="#38bcb4"/><path d="M292.9 162.5L302 175.5" stroke="#46bfab"/><path d="M308.6 182.8L302 175.5" stroke="#22b4c4"/><path d="M146.7 162.9L137.6 149.4L144.8 155.3L153.8 166Z" stroke="#51c1a4"/><path d="M137.6 149.4L146.7 162.9" stroke="#65c399"/><path d="M153.8 166L146.7 162.9" stroke="#3cbdb1"/><path d="M172 186.3L162.9 176.5L170 173.3L179.1 180Z" stroke="#2eb9bb"/><path d="M162.9 176.5L172 186.3" stroke="#2cb8bc"/><path d="M179.1 180L172 186.3" stroke="#26b6c1"/><path d="M449.9 133.1L440.8 158.1L446.8 144.6L455.9 119.7Z" stroke="#6dc495"/><path d="M440.8 158.1L449.9 133.1" stroke="#4dc0a7"/><path d="M455.9 119.7L449.9 133.1" stroke="#b0c479"/><path d="M407.1 223.5L398 239.1L404.3 234.3L413.4 216.1Z" stroke="#2786de"/><path d="M398 239.1L407.1 223.5" stroke="#2583e0"/><path d="M413.4 216.1L407.1 223.5" stroke="#2899d7"/><path d="M277.2 150.1L268.1 140.7L274.7 137.2L283.8 149.6Z" stroke="#82c58c"/><path d="M268.1 140.7L277.2 150.1" stroke="#7dc58e"/><path d="M283.8 149.6L277.2 150.1" stroke="#62c39b"/><path d="M335.9 220.2L326.8 209.8L333.4 220.8L342.5 231.3Z" stroke="#2b92d8"/><path d="M326.8 209.8L335.9 220.2" stroke="#22a1d6"/><path d="M342.5 231.3L335.9 220.2" stroke="#2a8adc"/><path d="M360.6 242.1L351.5 238.5L358 247.9L367.1 249.7Z" stroke="#1c7ae3"/><path d="M351.5 238.5L360.6 242.1" stroke="#2785df"/><path d="M367.1 249.7L360.6 242.1" stroke="#1c79e4"/><path d="M261.3 147L252.2 141.4L259 132.3L268.1 140.7Z" stroke="#8fc586"/><path d="M252.2 141.4L261.3 147" stroke="#7dc58e"/><path d="M268.1 140.7L261.3 147" stroke="#7dc58e"/><path d="M311.1 188L302 175.5L308.6 182.8L317.7 197.1Z" stroke="#22b4c4"/><path d="M302 175.5L311.1 188" stroke="#30b9ba"/><path d="M317.7 197.1L311.1 188" stroke="#1facd0"/><path d="M213.4 179.2L204.3 177L211.3 162.1L220.4 163.6Z" stroke="#44beac"/><path d="M204.3 177L213.4 179.2" stroke="#2cb8bc"/><path d="M220.4 163.6L213.4 179.2" stroke="#44beac"/><path d="M197.3 190.7L188.2 185.9L195.2 174.2L204.3 177Z" stroke="#2eb9bb"/><path d="M188.2 185.9L197.3 190.7" stroke="#21b4c5"/><path d="M204.3 177L197.3 190.7" stroke="#2cb8bc"/><path d="M229.5 165L220.4 163.6L227.2 148.1L236.3 150.2Z" stroke="#68c498"/><path d="M220.4 163.6L229.5 165" stroke="#44beac"/><path d="M236.3 150.2L229.5 165" stroke="#65c399"/><path d="M155.8 176.5L146.7 162.9L153.8 166L162.9 176.5Z" stroke="#3cbdb1"/><path d="M146.7 162.9L155.8 176.5" stroke="#48bfaa"/><path d="M162.9 176.5L155.8 176.5" stroke="#2cb8bc"/><path d="M245.4 152.9L236.3 150.2L243.1 136.8L252.2 141.4Z" stroke="#85c58b"/><path d="M236.3 150.2L245.4 152.9" stroke="#65c399"/><path d="M252.2 141.4L245.4 152.9" stroke="#7dc58e"/><path d="M422.5 195.3L413.4 216.1L419.6 206.6L428.7 183.9Z" stroke="#21a2d6"/><path d="M413.4 216.1L422.5 195.3" stroke="#2899d7"/><path d="M428.7 183.9L422.5 195.3" stroke="#24b5c2"/><path d="M286.3 160.1L277.2 150.1L283.8 149.6L292.9 162.5Z" stroke="#62c39b"/><path d="M277.2 150.1L286.3 160.1" stroke="#68c498"/><path d="M292.9 162.5L286.3 160.1" stroke="#46bfab"/><path d="M181.1 195.1L172 186.3L179.1 180L188.2 185.9Z" stroke="#26b6c1"/><path d="M172 186.3L181.1 195.1" stroke="#21b4c5"/><path d="M188.2 185.9L181.1 195.1" stroke="#21b4c5"/><path d="M443.9 146.8L434.8 171.4L440.8 158.1L449.9 133.1Z" stroke="#4dc0a7"/><path d="M434.8 171.4L443.9 146.8" stroke="#35bbb6"/><path d="M449.9 133.1L443.9 146.8" stroke="#93c584"/><path d="M345 227.9L335.9 220.2L342.5 231.3L351.5 238.5Z" stroke="#2a8adc"/><path d="M335.9 220.2L345 227.9" stroke="#2a96d7"/><path d="M351.5 238.5L345 227.9" stroke="#2785df"/><path d="M465 96.9L455.9 119.7L461.8 107L470.9 85.4Z" stroke="#c6c370"/><path d="M455.9 119.7L465 96.9" stroke="#b0c479"/><path d="M470.9 85.4L465 96.9" stroke="#f3c05b"/><path d="M385.3 241L376.2 247.4L382.6 250.4L391.7 241.4Z" stroke="#1b78e4"/><path d="M376.2 247.4L385.3 241" stroke="#1f7de3"/><path d="M391.7 241.4L385.3 241" stroke="#2482e0"/><path d="M130.4 140.9L121.3 126.1L128.5 136.5L137.6 149.4Z" stroke="#85c58b"/><path d="M121.3 126.1L130.4 140.9" stroke="#a6c57d"/><path d="M137.6 149.4L130.4 140.9" stroke="#65c399"/><path d="M400.8 228.6L391.7 241.4L398 239.1L407.1 223.5Z" stroke="#2583e0"/><path d="M391.7 241.4L400.8 228.6" stroke="#2482e0"/><path d="M407.1 223.5L400.8 228.6" stroke="#2b93d8"/><path d="M320.2 199.3L311.1 188L317.7 197.1L326.8 209.8Z" stroke="#1facd0"/><path d="M311.1 188L320.2 199.3" stroke="#21b3c6"/><path d="M326.8 209.8L320.2 199.3" stroke="#22a1d6"/><path d="M369.7 241.9L360.6 242.1L367.1 249.7L376.2 247.4Z" stroke="#1c79e4"/><path d="M360.6 242.1L369.7 241.9" stroke="#2482e0"/><path d="M376.2 247.4L369.7 241.9" stroke="#1f7de3"/><path d="M270.4 153.5L261.3 147L268.1 140.7L277.2 150.1Z" stroke="#7dc58e"/><path d="M261.3 147L270.4 153.5" stroke="#70c494"/><path d="M277.2 150.1L270.4 153.5" stroke="#68c498"/><path d="M164.9 189.5L155.8 176.5L162.9 176.5L172 186.3Z" stroke="#2cb8bc"/><path d="M155.8 176.5L164.9 189.5" stroke="#30b9ba"/><path d="M172 186.3L164.9 189.5" stroke="#21b4c5"/><path d="M295.4 170.4L286.3 160.1L292.9 162.5L302 175.5Z" stroke="#46bfab"/><path d="M286.3 160.1L295.4 170.4" stroke="#51c1a4"/><path d="M302 175.5L295.4 170.4" stroke="#30b9ba"/><path d="M206.4 194.2L197.3 190.7L204.3 177L213.4 179.2Z" stroke="#2cb8bc"/><path d="M197.3 190.7L206.4 194.2" stroke="#1fb1c9"/><path d="M213.4 179.2L206.4 194.2" stroke="#2bb8bd"/><path d="M222.5 180.6L213.4 179.2L220.4 163.6L229.5 165Z" stroke="#44beac"/><path d="M213.4 179.2L222.5 180.6" stroke="#2bb8bd"/><path d="M229.5 165L222.5 180.6" stroke="#44beac"/><path d="M254.5 156.2L245.4 152.9L252.2 141.4L261.3 147Z" stroke="#7dc58e"/><path d="M245.4 152.9L254.5 156.2" stroke="#62c39b"/><path d="M261.3 147L254.5 156.2" stroke="#70c494"/><path d="M437.8 160.3L428.7 183.9L434.8 171.4L443.9 146.8Z" stroke="#35bbb6"/><path d="M428.7 183.9L437.8 160.3" stroke="#24b5c2"/><path d="M443.9 146.8L437.8 160.3" stroke="#75c592"/><path d="M139.5 156.8L130.4 140.9L137.6 149.4L146.7 162.9Z" stroke="#65c399"/><path d="M130.4 140.9L139.5 156.8" stroke="#82c58c"/><path d="M146.7 162.9L139.5 156.8" stroke="#48bfaa"/><path d="M190.2 202.4L181.1 195.1L188.2 185.9L197.3 190.7Z" stroke="#21b4c5"/><path d="M181.1 195.1L190.2 202.4" stroke="#1fafcd"/><path d="M197.3 190.7L190.2 202.4" stroke="#1fb1c9"/><path d="M238.6 166.4L229.5 165L236.3 150.2L245.4 152.9Z" stroke="#65c399"/><path d="M229.5 165L238.6 166.4" stroke="#44beac"/><path d="M245.4 152.9L238.6 166.4" stroke="#62c39b"/><path d="M416.2 205L407.1 223.5L413.4 216.1L422.5 195.3Z" stroke="#2899d7"/><path d="M407.1 223.5L416.2 205" stroke="#2b93d8"/><path d="M422.5 195.3L416.2 205" stroke="#1fafcd"/><path d="M459 109.6L449.9 133.1L455.9 119.7L465 96.9Z" stroke="#b0c479"/><path d="M449.9 133.1L459 109.6" stroke="#93c584"/><path d="M465 96.9L459 109.6" stroke="#e0c165"/><path d="M354.1 232.7L345 227.9L351.5 238.5L360.6 242.1Z" stroke="#2785df"/><path d="M345 227.9L354.1 232.7" stroke="#2c90d9"/><path d="M360.6 242.1L354.1 232.7" stroke="#2482e0"/><path d="M329.3 209L320.2 199.3L326.8 209.8L335.9 220.2Z" stroke="#22a1d6"/><path d="M320.2 199.3L329.3 209" stroke="#1fadcf"/><path d="M335.9 220.2L329.3 209" stroke="#2a96d7"/><path d="M174 201.4L164.9 189.5L172 186.3L181.1 195.1Z" stroke="#21b4c5"/><path d="M164.9 189.5L174 201.4" stroke="#21b3c6"/><path d="M181.1 195.1L174 201.4" stroke="#1fafcd"/><path d="M279.5 160.6L270.4 153.5L277.2 150.1L286.3 160.1Z" stroke="#68c498"/><path d="M270.4 153.5L279.5 160.6" stroke="#62c39b"/><path d="M286.3 160.1L279.5 160.6" stroke="#51c1a4"/><path d="M304.5 180.5L295.4 170.4L302 175.5L311.1 188Z" stroke="#30b9ba"/><path d="M295.4 170.4L304.5 180.5" stroke="#3cbdb1"/><path d="M311.1 188L304.5 180.5" stroke="#21b3c6"/><path d="M148.6 173.2L139.5 156.8L146.7 162.9L155.8 176.5Z" stroke="#48bfaa"/><path d="M139.5 156.8L148.6 173.2" stroke="#5bc29f"/><path d="M155.8 176.5L148.6 173.2" stroke="#30b9ba"/><path d="M394.4 231.1L385.3 241L391.7 241.4L400.8 228.6Z" stroke="#2482e0"/><path d="M385.3 241L394.4 231.1" stroke="#2785df"/><path d="M400.8 228.6L394.4 231.1" stroke="#2c8fd9"/><path d="M378.8 238.1L369.7 241.9L376.2 247.4L385.3 241Z" stroke="#1f7de3"/><path d="M369.7 241.9L378.8 238.1" stroke="#2684df"/><path d="M385.3 241L378.8 238.1" stroke="#2785df"/><path d="M431.6 173.1L422.5 195.3L428.7 183.9L437.8 160.3Z" stroke="#24b5c2"/><path d="M422.5 195.3L431.6 173.1" stroke="#1fafcd"/><path d="M437.8 160.3L431.6 173.1" stroke="#54c1a3"/><path d="M215.5 196.4L206.4 194.2L213.4 179.2L222.5 180.6Z" stroke="#2bb8bd"/><path d="M206.4 194.2L215.5 196.4" stroke="#1fb0cb"/><path d="M222.5 180.6L215.5 196.4" stroke="#2bb8bd"/><path d="M263.6 159.9L254.5 156.2L261.3 147L270.4 153.5Z" stroke="#70c494"/><path d="M254.5 156.2L263.6 159.9" stroke="#5dc39d"/><path d="M270.4 153.5L263.6 159.9" stroke="#62c39b"/><path d="M199.3 207.9L190.2 202.4L197.3 190.7L206.4 194.2Z" stroke="#1fb1c9"/><path d="M190.2 202.4L199.3 207.9" stroke="#1faad1"/><path d="M206.4 194.2L199.3 207.9" stroke="#1fb0cb"/><path d="M231.6 181.4L222.5 180.6L229.5 165L238.6 166.4Z" stroke="#44beac"/><path d="M222.5 180.6L231.6 181.4" stroke="#2bb8bd"/><path d="M238.6 166.4L231.6 181.4" stroke="#44beac"/><path d="M453 123.1L443.9 146.8L449.9 133.1L459 109.6Z" stroke="#93c584"/><path d="M443.9 146.8L453 123.1" stroke="#75c592"/><path d="M459 109.6L453 123.1" stroke="#ccc36e"/><path d="M247.7 167.8L238.6 166.4L245.4 152.9L254.5 156.2Z" stroke="#62c39b"/><path d="M238.6 166.4L247.7 167.8" stroke="#44beac"/><path d="M254.5 156.2L247.7 167.8" stroke="#5dc39d"/><path d="M338.4 216.7L329.3 209L335.9 220.2L345 227.9Z" stroke="#2a96d7"/><path d="M329.3 209L338.4 216.7" stroke="#20a5d5"/><path d="M345 227.9L338.4 216.7" stroke="#2c90d9"/><path d="M474.1 77.4L465 96.9L470.9 85.4L480 67.6Z" stroke="#f3c05b"/><path d="M465 96.9L474.1 77.4" stroke="#e0c165"/><path d="M480 67.6L474.1 77.4" stroke="#fcd342"/><path d="M409.9 212.7L400.8 228.6L407.1 223.5L416.2 205Z" stroke="#2b93d8"/><path d="M400.8 228.6L409.9 212.7" stroke="#2c8fd9"/><path d="M416.2 205L409.9 212.7" stroke="#1fa9d3"/><path d="M183.1 211.6L174 201.4L181.1 195.1L190.2 202.4Z" stroke="#1fafcd"/><path d="M174 201.4L183.1 211.6" stroke="#1facd0"/><path d="M190.2 202.4L183.1 211.6" stroke="#1faad1"/><path d="M157.7 189.3L148.6 173.2L155.8 176.5L164.9 189.5Z" stroke="#30b9ba"/><path d="M148.6 173.2L157.7 189.3" stroke="#38bcb4"/><path d="M164.9 189.5L157.7 189.3" stroke="#21b3c6"/><path d="M123.1 130.2L114 114.2L121.3 126.1L130.4 140.9Z" stroke="#a6c57d"/><path d="M114 114.2L123.1 130.2" stroke="#c2c372"/><path d="M130.4 140.9L123.1 130.2" stroke="#82c58c"/><path d="M363.2 234.3L354.1 232.7L360.6 242.1L369.7 241.9Z" stroke="#2482e0"/><path d="M354.1 232.7L363.2 234.3" stroke="#2b8dda"/><path d="M369.7 241.9L363.2 234.3" stroke="#2684df"/><path d="M313.6 190L304.5 180.5L311.1 188L320.2 199.3Z" stroke="#21b3c6"/><path d="M304.5 180.5L313.6 190" stroke="#2cb8bc"/><path d="M320.2 199.3L313.6 190" stroke="#1fadcf"/><path d="M288.6 168L279.5 160.6L286.3 160.1L295.4 170.4Z" stroke="#51c1a4"/><path d="M279.5 160.6L288.6 168" stroke="#54c1a3"/><path d="M295.4 170.4L288.6 168" stroke="#3cbdb1"/><path d="M425.3 184.8L416.2 205L422.5 195.3L431.6 173.1Z" stroke="#1fafcd"/><path d="M416.2 205L425.3 184.8" stroke="#1fa9d3"/><path d="M431.6 173.1L425.3 184.8" stroke="#3abcb3"/><path d="M132.2 148.1L123.1 130.2L130.4 140.9L139.5 156.8Z" stroke="#82c58c"/><path d="M123.1 130.2L132.2 148.1" stroke="#a3c57e"/><path d="M139.5 156.8L132.2 148.1" stroke="#5bc29f"/><path d="M272.7 164L263.6 159.9L270.4 153.5L279.5 160.6Z" stroke="#62c39b"/><path d="M263.6 159.9L272.7 164" stroke="#56c2a2"/><path d="M279.5 160.6L272.7 164" stroke="#54c1a3"/><path d="M166.8 204.4L157.7 189.3L164.9 189.5L174 201.4Z" stroke="#21b3c6"/><path d="M157.7 189.3L166.8 204.4" stroke="#22b4c4"/><path d="M174 201.4L166.8 204.4" stroke="#1facd0"/><path d="M446.9 137L437.8 160.3L443.9 146.8L453 123.1Z" stroke="#75c592"/><path d="M437.8 160.3L446.9 137" stroke="#54c1a3"/><path d="M453 123.1L446.9 137" stroke="#b2c478"/><path d="M208.4 211.5L199.3 207.9L206.4 194.2L215.5 196.4Z" stroke="#1fb0cb"/><path d="M199.3 207.9L208.4 211.5" stroke="#1fa7d4"/><path d="M215.5 196.4L208.4 211.5" stroke="#1fafcc"/><path d="M224.6 197.1L215.5 196.4L222.5 180.6L231.6 181.4Z" stroke="#2bb8bd"/><path d="M215.5 196.4L224.6 197.1" stroke="#1fafcc"/><path d="M231.6 181.4L224.6 197.1" stroke="#2cb8bc"/><path d="M347.5 222L338.4 216.7L345 227.9L354.1 232.7Z" stroke="#2c90d9"/><path d="M338.4 216.7L347.5 222" stroke="#259ed6"/><path d="M354.1 232.7L347.5 222" stroke="#2b8dda"/><path d="M468.1 88.9L459 109.6L465 96.9L474.1 77.4Z" stroke="#e0c165"/><path d="M459 109.6L468.1 88.9" stroke="#ccc36e"/><path d="M474.1 77.4L468.1 88.9" stroke="#ffc84c"/><path d="M322.6 198.3L313.6 190L320.2 199.3L329.3 209Z" stroke="#1fadcf"/><path d="M313.6 190L322.6 198.3" stroke="#22b4c4"/><path d="M329.3 209L322.6 198.3" stroke="#20a5d5"/><path d="M192.2 219.7L183.1 211.6L190.2 202.4L199.3 207.9Z" stroke="#1faad1"/><path d="M183.1 211.6L192.2 219.7" stroke="#21a3d5"/><path d="M199.3 207.9L192.2 219.7" stroke="#1fa7d4"/><path d="M256.7 169.1L247.7 167.8L254.5 156.2L263.6 159.9Z" stroke="#5dc39d"/><path d="M247.7 167.8L256.7 169.1" stroke="#44beac"/><path d="M263.6 159.9L256.7 169.1" stroke="#56c2a2"/><path d="M240.7 181.4L231.6 181.4L238.6 166.4L247.7 167.8Z" stroke="#44beac"/><path d="M231.6 181.4L240.7 181.4" stroke="#2cb8bc"/><path d="M247.7 167.8L240.7 181.4" stroke="#44beac"/><path d="M297.7 175.3L288.6 168L295.4 170.4L304.5 180.5Z" stroke="#3cbdb1"/><path d="M288.6 168L297.7 175.3" stroke="#46bfab"/><path d="M304.5 180.5L297.7 175.3" stroke="#2cb8bc"/><path d="M387.9 230.9L378.8 238.1L385.3 241L394.4 231.1Z" stroke="#2785df"/><path d="M378.8 238.1L387.9 230.9" stroke="#2a89dc"/><path d="M394.4 231.1L387.9 230.9" stroke="#2c8fd9"/><path d="M403.5 218.1L394.4 231.1L400.8 228.6L409.9 212.7Z" stroke="#2c8fd9"/><path d="M394.4 231.1L403.5 218.1" stroke="#2c8fd9"/><path d="M409.9 212.7L403.5 218.1" stroke="#21a3d5"/><path d="M141.3 166.9L132.2 148.1L139.5 156.8L148.6 173.2Z" stroke="#5bc29f"/><path d="M132.2 148.1L141.3 166.9" stroke="#7ac58f"/><path d="M148.6 173.2L141.3 166.9" stroke="#38bcb4"/><path d="M372.3 232.7L363.2 234.3L369.7 241.9L378.8 238.1Z" stroke="#2684df"/><path d="M363.2 234.3L372.3 232.7" stroke="#2b8dda"/><path d="M378.8 238.1L372.3 232.7" stroke="#2a89dc"/><path d="M175.9 217.8L166.8 204.4L174 201.4L183.1 211.6Z" stroke="#1facd0"/><path d="M166.8 204.4L175.9 217.8" stroke="#1faad1"/><path d="M183.1 211.6L175.9 217.8" stroke="#21a3d5"/><path d="M281.8 168.4L272.7 164L279.5 160.6L288.6 168Z" stroke="#54c1a3"/><path d="M272.7 164L281.8 168.4" stroke="#4fc0a6"/><path d="M288.6 168L281.8 168.4" stroke="#46bfab"/><path d="M440.7 150.7L431.6 173.1L437.8 160.3L446.9 137Z" stroke="#54c1a3"/><path d="M431.6 173.1L440.7 150.7" stroke="#3abcb3"/><path d="M446.9 137L440.7 150.7" stroke="#96c583"/><path d="M483.2 62.3L474.1 77.4L480 67.6L489.1 54.6Z" stroke="#fcd342"/><path d="M474.1 77.4L483.2 62.3" stroke="#ffc84c"/><path d="M489.1 54.6L483.2 62.3" stroke="#f6e634"/><path d="M419 194.8L409.9 212.7L416.2 205L425.3 184.8Z" stroke="#1fa9d3"/><path d="M409.9 212.7L419 194.8" stroke="#21a3d5"/><path d="M425.3 184.8L419 194.8" stroke="#29b7be"/><path d="M150.4 185.8L141.3 166.9L148.6 173.2L157.7 189.3Z" stroke="#38bcb4"/><path d="M141.3 166.9L150.4 185.8" stroke="#4ac0a8"/><path d="M157.7 189.3L150.4 185.8" stroke="#22b4c4"/><path d="M331.7 205.3L322.6 198.3L329.3 209L338.4 216.7Z" stroke="#20a5d5"/><path d="M322.6 198.3L331.7 205.3" stroke="#1fafcc"/><path d="M338.4 216.7L331.7 205.3" stroke="#259ed6"/><path d="M462.1 101.6L453 123.1L459 109.6L468.1 88.9Z" stroke="#ccc36e"/><path d="M453 123.1L462.1 101.6" stroke="#b2c478"/><path d="M468.1 88.9L462.1 101.6" stroke="#f5c15a"/><path d="M217.5 213L208.4 211.5L215.5 196.4L224.6 197.1Z" stroke="#1fafcc"/><path d="M208.4 211.5L217.5 213" stroke="#20a4d5"/><path d="M224.6 197.1L217.5 213" stroke="#1fb0cb"/><path d="M306.8 182.4L297.7 175.3L304.5 180.5L313.6 190Z" stroke="#2cb8bc"/><path d="M297.7 175.3L306.8 182.4" stroke="#38bcb4"/><path d="M313.6 190L306.8 182.4" stroke="#22b4c4"/><path d="M201.3 225.3L192.2 219.7L199.3 207.9L208.4 211.5Z" stroke="#1fa7d4"/><path d="M192.2 219.7L201.3 225.3" stroke="#269cd6"/><path d="M208.4 211.5L201.3 225.3" stroke="#20a4d5"/><path d="M356.6 224.8L347.5 222L354.1 232.7L363.2 234.3Z" stroke="#2b8dda"/><path d="M347.5 222L356.6 224.8" stroke="#2899d7"/><path d="M363.2 234.3L356.6 224.8" stroke="#2b8dda"/><path d="M233.7 196.6L224.6 197.1L231.6 181.4L240.7 181.4Z" stroke="#2cb8bc"/><path d="M224.6 197.1L233.7 196.6" stroke="#1fb0cb"/><path d="M240.7 181.4L233.7 196.6" stroke="#2eb9bb"/><path d="M265.8 170.5L256.7 169.1L263.6 159.9L272.7 164Z" stroke="#56c2a2"/><path d="M256.7 169.1L265.8 170.5" stroke="#44beac"/><path d="M272.7 164L265.8 170.5" stroke="#4fc0a6"/><path d="M249.8 180.9L240.7 181.4L247.7 167.8L256.7 169.1Z" stroke="#44beac"/><path d="M240.7 181.4L249.8 180.9" stroke="#2eb9bb"/><path d="M256.7 169.1L249.8 180.9" stroke="#44beac"/><path d="M115.8 118.1L106.7 101.6L114 114.2L123.1 130.2Z" stroke="#c2c372"/><path d="M106.7 101.6L115.8 118.1" stroke="#e0c165"/><path d="M123.1 130.2L115.8 118.1" stroke="#a3c57e"/><path d="M185 228.8L175.9 217.8L183.1 211.6L192.2 219.7Z" stroke="#21a3d5"/><path d="M175.9 217.8L185 228.8" stroke="#249fd6"/><path d="M192.2 219.7L185 228.8" stroke="#269cd6"/><path d="M159.5 204L150.4 185.8L157.7 189.3L166.8 204.4Z" stroke="#22b4c4"/><path d="M150.4 185.8L159.5 204" stroke="#29b7be"/><path d="M166.8 204.4L159.5 204" stroke="#1faad1"/><path d="M397 220.8L387.9 230.9L394.4 231.1L403.5 218.1Z" stroke="#2c8fd9"/><path d="M387.9 230.9L397 220.8" stroke="#2c91d8"/><path d="M403.5 218.1L397 220.8" stroke="#249fd6"/><path d="M434.4 163.8L425.3 184.8L431.6 173.1L440.7 150.7Z" stroke="#3abcb3"/><path d="M425.3 184.8L434.4 163.8" stroke="#29b7be"/><path d="M440.7 150.7L434.4 163.8" stroke="#75c592"/><path d="M381.4 228.1L372.3 232.7L378.8 238.1L387.9 230.9Z" stroke="#2a89dc"/><path d="M372.3 232.7L381.4 228.1" stroke="#2c8fd9"/><path d="M387.9 230.9L381.4 228.1" stroke="#2c91d8"/><path d="M290.9 172.8L281.8 168.4L288.6 168L297.7 175.3Z" stroke="#46bfab"/><path d="M281.8 168.4L290.9 172.8" stroke="#48bfaa"/><path d="M297.7 175.3L290.9 172.8" stroke="#38bcb4"/><path d="M477.2 72L468.1 88.9L474.1 77.4L483.2 62.3Z" stroke="#ffc84c"/><path d="M468.1 88.9L477.2 72" stroke="#f5c15a"/><path d="M483.2 62.3L477.2 72" stroke="#f8de3a"/><path d="M456 115.2L446.9 137L453 123.1L462.1 101.6Z" stroke="#b2c478"/><path d="M446.9 137L456 115.2" stroke="#96c583"/><path d="M462.1 101.6L456 115.2" stroke="#e0c165"/><path d="M124.8 137.2L115.8 118.1L123.1 130.2L132.2 148.1Z" stroke="#a3c57e"/><path d="M115.8 118.1L124.8 137.2" stroke="#c2c372"/><path d="M132.2 148.1L124.8 137.2" stroke="#7ac58f"/><path d="M340.8 210.6L331.7 205.3L338.4 216.7L347.5 222Z" stroke="#259ed6"/><path d="M331.7 205.3L340.8 210.6" stroke="#1fabd1"/><path d="M347.5 222L340.8 210.6" stroke="#2899d7"/><path d="M315.9 188.9L306.8 182.4L313.6 190L322.6 198.3Z" stroke="#22b4c4"/><path d="M306.8 182.4L315.9 188.9" stroke="#2eb9bb"/><path d="M322.6 198.3L315.9 188.9" stroke="#1fafcc"/><path d="M412.6 202.7L403.5 218.1L409.9 212.7L419 194.8Z" stroke="#21a3d5"/><path d="M403.5 218.1L412.6 202.7" stroke="#249fd6"/><path d="M419 194.8L412.6 202.7" stroke="#20b2c7"/><path d="M210.4 228.3L201.3 225.3L208.4 211.5L217.5 213Z" stroke="#20a4d5"/><path d="M201.3 225.3L210.4 228.3" stroke="#2997d7"/><path d="M217.5 213L210.4 228.3" stroke="#20a4d5"/><path d="M168.6 220.6L159.5 204L166.8 204.4L175.9 217.8Z" stroke="#1faad1"/><path d="M159.5 204L168.6 220.6" stroke="#1fadcf"/><path d="M175.9 217.8L168.6 220.6" stroke="#249fd6"/><path d="M226.6 212.5L217.5 213L224.6 197.1L233.7 196.6Z" stroke="#1fb0cb"/><path d="M217.5 213L226.6 212.5" stroke="#20a4d5"/><path d="M233.7 196.6L226.6 212.5" stroke="#1fb1c9"/><path d="M365.7 225L356.6 224.8L363.2 234.3L372.3 232.7Z" stroke="#2b8dda"/><path d="M356.6 224.8L365.7 225" stroke="#2998d7"/><path d="M372.3 232.7L365.7 225" stroke="#2c8fd9"/><path d="M274.9 171.9L265.8 170.5L272.7 164L281.8 168.4Z" stroke="#4fc0a6"/><path d="M265.8 170.5L274.9 171.9" stroke="#46bfab"/><path d="M281.8 168.4L274.9 171.9" stroke="#48bfaa"/><path d="M194.1 237L185 228.8L192.2 219.7L201.3 225.3Z" stroke="#269cd6"/><path d="M185 228.8L194.1 237" stroke="#2b94d7"/><path d="M201.3 225.3L194.1 237" stroke="#2997d7"/><path d="M242.8 194.7L233.7 196.6L240.7 181.4L249.8 180.9Z" stroke="#2eb9bb"/><path d="M233.7 196.6L242.8 194.7" stroke="#1fb1c9"/><path d="M249.8 180.9L242.8 194.7" stroke="#31bab8"/><path d="M133.9 157.9L124.8 137.2L132.2 148.1L141.3 166.9Z" stroke="#7ac58f"/><path d="M124.8 137.2L133.9 157.9" stroke="#9ac581"/><path d="M141.3 166.9L133.9 157.9" stroke="#4ac0a8"/><path d="M258.9 179.8L249.8 180.9L256.7 169.1L265.8 170.5Z" stroke="#44beac"/><path d="M249.8 180.9L258.9 179.8" stroke="#31bab8"/><path d="M265.8 170.5L258.9 179.8" stroke="#46bfab"/><path d="M492.3 52.3L483.2 62.3L489.1 54.6L498.2 47Z" stroke="#f6e634"/><path d="M483.2 62.3L492.3 52.3" stroke="#f8de3a"/><path d="M498.2 47L492.3 52.3" stroke="#f8f62a"/><path d="M300 177.1L290.9 172.8L297.7 175.3L306.8 182.4Z" stroke="#38bcb4"/><path d="M290.9 172.8L300 177.1" stroke="#42beae"/><path d="M306.8 182.4L300 177.1" stroke="#2eb9bb"/><path d="M449.8 129.2L440.7 150.7L446.9 137L456 115.2Z" stroke="#96c583"/><path d="M440.7 150.7L449.8 129.2" stroke="#75c592"/><path d="M456 115.2L449.8 129.2" stroke="#cac36f"/><path d="M428.1 175.7L419 194.8L425.3 184.8L434.4 163.8Z" stroke="#29b7be"/><path d="M419 194.8L428.1 175.7" stroke="#20b2c7"/><path d="M434.4 163.8L428.1 175.7" stroke="#56c2a2"/><path d="M177.7 234.9L168.6 220.6L175.9 217.8L185 228.8Z" stroke="#249fd6"/><path d="M168.6 220.6L177.7 234.9" stroke="#259ed6"/><path d="M185 228.8L177.7 234.9" stroke="#2b94d7"/><path d="M471.2 83.3L462.1 101.6L468.1 88.9L477.2 72Z" stroke="#f5c15a"/><path d="M462.1 101.6L471.2 83.3" stroke="#e0c165"/><path d="M477.2 72L471.2 83.3" stroke="#fcd342"/><path d="M143 179.3L133.9 157.9L141.3 166.9L150.4 185.8Z" stroke="#4ac0a8"/><path d="M133.9 157.9L143 179.3" stroke="#68c498"/><path d="M150.4 185.8L143 179.3" stroke="#29b7be"/><path d="M325 194.6L315.9 188.9L322.6 198.3L331.7 205.3Z" stroke="#1fafcc"/><path d="M315.9 188.9L325 194.6" stroke="#27b6c0"/><path d="M331.7 205.3L325 194.6" stroke="#1fabd1"/><path d="M349.9 214.1L340.8 210.6L347.5 222L356.6 224.8Z" stroke="#2899d7"/><path d="M340.8 210.6L349.9 214.1" stroke="#1fa8d3"/><path d="M356.6 224.8L349.9 214.1" stroke="#2998d7"/><path d="M390.5 220.8L381.4 228.1L387.9 230.9L397 220.8Z" stroke="#2c91d8"/><path d="M381.4 228.1L390.5 220.8" stroke="#2a96d7"/><path d="M397 220.8L390.5 220.8" stroke="#259ed6"/><path d="M219.5 228.5L210.4 228.3L217.5 213L226.6 212.5Z" stroke="#20a4d5"/><path d="M210.4 228.3L219.5 228.5" stroke="#2b95d7"/><path d="M226.6 212.5L219.5 228.5" stroke="#20a6d4"/><path d="M203.2 242.1L194.1 237L201.3 225.3L210.4 228.3Z" stroke="#2997d7"/><path d="M194.1 237L203.2 242.1" stroke="#2b8dda"/><path d="M210.4 228.3L203.2 242.1" stroke="#2b95d7"/><path d="M152.1 200.3L143 179.3L150.4 185.8L159.5 204Z" stroke="#29b7be"/><path d="M143 179.3L152.1 200.3" stroke="#38bcb4"/><path d="M159.5 204L152.1 200.3" stroke="#1fadcf"/><path d="M284 173.2L274.9 171.9L281.8 168.4L290.9 172.8Z" stroke="#48bfaa"/><path d="M274.9 171.9L284 173.2" stroke="#46bfab"/><path d="M290.9 172.8L284 173.2" stroke="#42beae"/><path d="M406.1 208.3L397 220.8L403.5 218.1L412.6 202.7Z" stroke="#249fd6"/><path d="M397 220.8L406.1 208.3" stroke="#259ed6"/><path d="M412.6 202.7L406.1 208.3" stroke="#1fafcd"/><path d="M235.7 210L226.6 212.5L233.7 196.6L242.8 194.7Z" stroke="#1fb1c9"/><path d="M226.6 212.5L235.7 210" stroke="#20a6d4"/><path d="M242.8 194.7L235.7 210" stroke="#21b3c6"/><path d="M108.3 105.4L99.2 89.2L106.7 101.6L115.8 118.1Z" stroke="#e0c165"/><path d="M99.2 89.2L108.3 105.4" stroke="#fac256"/><path d="M115.8 118.1L108.3 105.4" stroke="#c2c372"/><path d="M374.8 222.7L365.7 225L372.3 232.7L381.4 228.1Z" stroke="#2c8fd9"/><path d="M365.7 225L374.8 222.7" stroke="#2899d7"/><path d="M381.4 228.1L374.8 222.7" stroke="#2a96d7"/><path d="M486.3 59.9L477.2 72L483.2 62.3L492.3 52.3Z" stroke="#f8de3a"/><path d="M477.2 72L486.3 59.9" stroke="#fcd342"/><path d="M492.3 52.3L486.3 59.9" stroke="#f6ef2e"/><path d="M251.9 191.7L242.8 194.7L249.8 180.9L258.9 179.8Z" stroke="#31bab8"/><path d="M242.8 194.7L251.9 191.7" stroke="#21b3c6"/><path d="M258.9 179.8L251.9 191.7" stroke="#36bbb5"/><path d="M268 178.4L258.9 179.8L265.8 170.5L274.9 171.9Z" stroke="#46bfab"/><path d="M258.9 179.8L268 178.4" stroke="#36bbb5"/><path d="M274.9 171.9L268 178.4" stroke="#46bfab"/><path d="M186.8 246.1L177.7 234.9L185 228.8L194.1 237Z" stroke="#2b94d7"/><path d="M177.7 234.9L186.8 246.1" stroke="#2c8fd9"/><path d="M194.1 237L186.8 246.1" stroke="#2b8dda"/><path d="M443.5 143.1L434.4 163.8L440.7 150.7L449.8 129.2Z" stroke="#75c592"/><path d="M434.4 163.8L443.5 143.1" stroke="#56c2a2"/><path d="M449.8 129.2L443.5 143.1" stroke="#b0c479"/><path d="M309.1 181.2L300 177.1L306.8 182.4L315.9 188.9Z" stroke="#2eb9bb"/><path d="M300 177.1L309.1 181.2" stroke="#3cbdb1"/><path d="M315.9 188.9L309.1 181.2" stroke="#27b6c0"/><path d="M465.1 96.1L456 115.2L462.1 101.6L471.2 83.3Z" stroke="#e0c165"/><path d="M456 115.2L465.1 96.1" stroke="#cac36f"/><path d="M471.2 83.3L465.1 96.1" stroke="#fec74d"/><path d="M501.4 48.1L492.3 52.3L498.2 47L507.3 45.4Z" stroke="#f8f62a"/><path d="M492.3 52.3L501.4 48.1" stroke="#f6ef2e"/><path d="M507.3 45.4L501.4 48.1" stroke="#fafb26"/><path d="M161.2 220L152.1 200.3L159.5 204L168.6 220.6Z" stroke="#1fadcf"/><path d="M152.1 200.3L161.2 220" stroke="#1fb1ca"/><path d="M168.6 220.6L161.2 220" stroke="#259ed6"/><path d="M334.1 199.2L325 194.6L331.7 205.3L340.8 210.6Z" stroke="#1fabd1"/><path d="M325 194.6L334.1 199.2" stroke="#22b4c4"/><path d="M340.8 210.6L334.1 199.2" stroke="#1fa8d3"/><path d="M421.7 185.9L412.6 202.7L419 194.8L428.1 175.7Z" stroke="#20b2c7"/><path d="M412.6 202.7L421.7 185.9" stroke="#1fafcd"/><path d="M428.1 175.7L421.7 185.9" stroke="#40beaf"/><path d="M117.4 124.9L108.3 105.4L115.8 118.1L124.8 137.2Z" stroke="#c2c372"/><path d="M108.3 105.4L117.4 124.9" stroke="#dec166"/><path d="M124.8 137.2L117.4 124.9" stroke="#9ac581"/><path d="M359 215.6L349.9 214.1L356.6 224.8L365.7 225Z" stroke="#2998d7"/><path d="M349.9 214.1L359 215.6" stroke="#20a6d4"/><path d="M365.7 225L359 215.6" stroke="#2899d7"/><path d="M212.3 243.9L203.2 242.1L210.4 228.3L219.5 228.5Z" stroke="#2b95d7"/><path d="M203.2 242.1L212.3 243.9" stroke="#2a8adc"/><path d="M219.5 228.5L212.3 243.9" stroke="#2a96d7"/><path d="M170.3 237.5L161.2 220L168.6 220.6L177.7 234.9Z" stroke="#259ed6"/><path d="M161.2 220L170.3 237.5" stroke="#22a1d6"/><path d="M177.7 234.9L170.3 237.5" stroke="#2c8fd9"/><path d="M293.1 174.6L284 173.2L290.9 172.8L300 177.1Z" stroke="#42beae"/><path d="M284 173.2L293.1 174.6" stroke="#46bfab"/><path d="M300 177.1L293.1 174.6" stroke="#3cbdb1"/><path d="M126.5 146.8L117.4 124.9L124.8 137.2L133.9 157.9Z" stroke="#9ac581"/><path d="M117.4 124.9L126.5 146.8" stroke="#bac475"/><path d="M133.9 157.9L126.5 146.8" stroke="#68c498"/><path d="M228.6 226.1L219.5 228.5L226.6 212.5L235.7 210Z" stroke="#20a6d4"/><path d="M219.5 228.5L228.6 226.1" stroke="#2a96d7"/><path d="M235.7 210L228.6 226.1" stroke="#1faad2"/><path d="M195.9 253.8L186.8 246.1L194.1 237L203.2 242.1Z" stroke="#2b8dda"/><path d="M186.8 246.1L195.9 253.8" stroke="#2887de"/><path d="M203.2 242.1L195.9 253.8" stroke="#2a8adc"/><path d="M480.3 69.4L471.2 83.3L477.2 72L486.3 59.9Z" stroke="#fcd342"/><path d="M471.2 83.3L480.3 69.4" stroke="#fec74d"/><path d="M486.3 59.9L480.3 69.4" stroke="#f6e634"/><path d="M437.2 156.4L428.1 175.7L434.4 163.8L443.5 143.1Z" stroke="#56c2a2"/><path d="M428.1 175.7L437.2 156.4" stroke="#40beaf"/><path d="M443.5 143.1L437.2 156.4" stroke="#93c584"/><path d="M458.9 109.8L449.8 129.2L456 115.2L465.1 96.1Z" stroke="#cac36f"/><path d="M449.8 129.2L458.9 109.8" stroke="#b0c479"/><path d="M465.1 96.1L458.9 109.8" stroke="#f0c05d"/><path d="M244.8 205.7L235.7 210L242.8 194.7L251.9 191.7Z" stroke="#21b3c6"/><path d="M235.7 210L244.8 205.7" stroke="#1faad2"/><path d="M251.9 191.7L244.8 205.7" stroke="#26b6c1"/><path d="M318.2 185L309.1 181.2L315.9 188.9L325 194.6Z" stroke="#27b6c0"/><path d="M309.1 181.2L318.2 185" stroke="#36bbb5"/><path d="M325 194.6L318.2 185" stroke="#22b4c4"/><path d="M399.6 211.2L390.5 220.8L397 220.8L406.1 208.3Z" stroke="#259ed6"/><path d="M390.5 220.8L399.6 211.2" stroke="#23a0d6"/><path d="M406.1 208.3L399.6 211.2" stroke="#1facd0"/><path d="M277.1 176.8L268 178.4L274.9 171.9L284 173.2Z" stroke="#46bfab"/><path d="M268 178.4L277.1 176.8" stroke="#3cbdb1"/><path d="M284 173.2L277.1 176.8" stroke="#46bfab"/><path d="M383.9 218L374.8 222.7L381.4 228.1L390.5 220.8Z" stroke="#2a96d7"/><path d="M374.8 222.7L383.9 218" stroke="#259ed6"/><path d="M390.5 220.8L383.9 218" stroke="#23a0d6"/><path d="M135.6 170L126.5 146.8L133.9 157.9L143 179.3Z" stroke="#68c498"/><path d="M126.5 146.8L135.6 170" stroke="#8cc587"/><path d="M143 179.3L135.6 170" stroke="#38bcb4"/><path d="M261 187.9L251.9 191.7L258.9 179.8L268 178.4Z" stroke="#36bbb5"/><path d="M251.9 191.7L261 187.9" stroke="#26b6c1"/><path d="M268 178.4L261 187.9" stroke="#3cbdb1"/><path d="M343.2 202.6L334.1 199.2L340.8 210.6L349.9 214.1Z" stroke="#1fa8d3"/><path d="M334.1 199.2L343.2 202.6" stroke="#20b2c8"/><path d="M349.9 214.1L343.2 202.6" stroke="#20a6d4"/><path d="M495.4 53.2L486.3 59.9L492.3 52.3L501.4 48.1Z" stroke="#f6ef2e"/><path d="M486.3 59.9L495.4 53.2" stroke="#f6e634"/><path d="M501.4 48.1L495.4 53.2" stroke="#f9f927"/><path d="M179.4 252L170.3 237.5L177.7 234.9L186.8 246.1Z" stroke="#2c8fd9"/><path d="M170.3 237.5L179.4 252" stroke="#2c8fd9"/><path d="M186.8 246.1L179.4 252" stroke="#2887de"/><path d="M415.2 194.1L406.1 208.3L412.6 202.7L421.7 185.9Z" stroke="#1fafcd"/><path d="M406.1 208.3L415.2 194.1" stroke="#1facd0"/><path d="M421.7 185.9L415.2 194.1" stroke="#30b9ba"/><path d="M144.7 193.4L135.6 170L143 179.3L152.1 200.3Z" stroke="#38bcb4"/><path d="M135.6 170L144.7 193.4" stroke="#51c1a4"/><path d="M152.1 200.3L144.7 193.4" stroke="#1fb1ca"/><path d="M368.1 215L359 215.6L365.7 225L374.8 222.7Z" stroke="#2899d7"/><path d="M359 215.6L368.1 215" stroke="#20a6d4"/><path d="M374.8 222.7L368.1 215" stroke="#259ed6"/><path d="M302.2 175.9L293.1 174.6L300 177.1L309.1 181.2Z" stroke="#3cbdb1"/><path d="M293.1 174.6L302.2 175.9" stroke="#46bfab"/><path d="M309.1 181.2L302.2 175.9" stroke="#36bbb5"/><path d="M205 257.7L195.9 253.8L203.2 242.1L212.3 243.9Z" stroke="#2a8adc"/><path d="M195.9 253.8L205 257.7" stroke="#2280e1"/><path d="M212.3 243.9L205 257.7" stroke="#2a89dc"/><path d="M474.1 80.7L465.1 96.1L471.2 83.3L480.3 69.4Z" stroke="#fec74d"/><path d="M465.1 96.1L474.1 80.7" stroke="#f0c05d"/><path d="M480.3 69.4L474.1 80.7" stroke="#f9da3d"/><path d="M221.4 242.3L212.3 243.9L219.5 228.5L228.6 226.1Z" stroke="#2a96d7"/><path d="M212.3 243.9L221.4 242.3" stroke="#2a89dc"/><path d="M228.6 226.1L221.4 242.3" stroke="#279bd7"/><path d="M100.8 92.9L91.7 77.8L99.2 89.2L108.3 105.4Z" stroke="#fac256"/><path d="M91.7 77.8L100.8 92.9" stroke="#fdd144"/><path d="M108.3 105.4L100.8 92.9" stroke="#dec166"/><path d="M452.6 123.9L443.5 143.1L449.8 129.2L458.9 109.8Z" stroke="#b0c479"/><path d="M443.5 143.1L452.6 123.9" stroke="#93c584"/><path d="M458.9 109.8L452.6 123.9" stroke="#dac168"/><path d="M153.8 216L144.7 193.4L152.1 200.3L161.2 220Z" stroke="#1fb1ca"/><path d="M144.7 193.4L153.8 216" stroke="#26b6c1"/><path d="M161.2 220L153.8 216" stroke="#22a1d6"/><path d="M430.8 168.6L421.7 185.9L428.1 175.7L437.2 156.4Z" stroke="#40beaf"/><path d="M421.7 185.9L430.8 168.6" stroke="#30b9ba"/><path d="M437.2 156.4L430.8 168.6" stroke="#75c592"/><path d="M327.3 188.3L318.2 185L325 194.6L334.1 199.2Z" stroke="#22b4c4"/><path d="M318.2 185L327.3 188.3" stroke="#33bab7"/><path d="M334.1 199.2L327.3 188.3" stroke="#20b2c8"/><path d="M237.7 221.2L228.6 226.1L235.7 210L244.8 205.7Z" stroke="#1faad2"/><path d="M228.6 226.1L237.7 221.2" stroke="#279bd7"/><path d="M244.8 205.7L237.7 221.2" stroke="#1faece"/><path d="M188.5 262.7L179.4 252L186.8 246.1L195.9 253.8Z" stroke="#2887de"/><path d="M179.4 252L188.5 262.7" stroke="#2583e0"/><path d="M195.9 253.8L188.5 262.7" stroke="#2280e1"/><path d="M352.3 204.7L343.2 202.6L349.9 214.1L359 215.6Z" stroke="#20a6d4"/><path d="M343.2 202.6L352.3 204.7" stroke="#1fb1ca"/><path d="M359 215.6L352.3 204.7" stroke="#20a6d4"/><path d="M286.2 175L277.1 176.8L284 173.2L293.1 174.6Z" stroke="#46bfab"/><path d="M277.1 176.8L286.2 175" stroke="#42beae"/><path d="M293.1 174.6L286.2 175" stroke="#46bfab"/><path d="M253.9 200L244.8 205.7L251.9 191.7L261 187.9Z" stroke="#26b6c1"/><path d="M244.8 205.7L253.9 200" stroke="#1faece"/><path d="M261 187.9L253.9 200" stroke="#2eb9bb"/><path d="M489.4 60.5L480.3 69.4L486.3 59.9L495.4 53.2Z" stroke="#f6e634"/><path d="M480.3 69.4L489.4 60.5" stroke="#f9da3d"/><path d="M495.4 53.2L489.4 60.5" stroke="#f7f22c"/><path d="M162.9 236.7L153.8 216L161.2 220L170.3 237.5Z" stroke="#22a1d6"/><path d="M153.8 216L162.9 236.7" stroke="#1fa7d4"/><path d="M170.3 237.5L162.9 236.7" stroke="#2c8fd9"/><path d="M270.1 183.4L261 187.9L268 178.4L277.1 176.8Z" stroke="#3cbdb1"/><path d="M261 187.9L270.1 183.4" stroke="#2eb9bb"/><path d="M277.1 176.8L270.1 183.4" stroke="#42beae"/><path d="M109.9 112.1L100.8 92.9L108.3 105.4L117.4 124.9Z" stroke="#dec166"/><path d="M100.8 92.9L109.9 112.1" stroke="#fac256"/><path d="M117.4 124.9L109.9 112.1" stroke="#bac475"/><path d="M393 211.3L383.9 218L390.5 220.8L399.6 211.2Z" stroke="#23a0d6"/><path d="M383.9 218L393 211.3" stroke="#20a5d5"/><path d="M399.6 211.2L393 211.3" stroke="#1faad1"/><path d="M408.7 199.9L399.6 211.2L406.1 208.3L415.2 194.1Z" stroke="#1facd0"/><path d="M399.6 211.2L408.7 199.9" stroke="#1faad1"/><path d="M415.2 194.1L408.7 199.9" stroke="#26b6c1"/><path d="M468 93.5L458.9 109.8L465.1 96.1L474.1 80.7Z" stroke="#f0c05d"/><path d="M458.9 109.8L468 93.5" stroke="#dac168"/><path d="M474.1 80.7L468 93.5" stroke="#fece46"/><path d="M377.2 212.7L368.1 215L374.8 222.7L383.9 218Z" stroke="#259ed6"/><path d="M368.1 215L377.2 212.7" stroke="#1fa8d3"/><path d="M383.9 218L377.2 212.7" stroke="#20a5d5"/><path d="M446.3 138.1L437.2 156.4L443.5 143.1L452.6 123.9Z" stroke="#93c584"/><path d="M437.2 156.4L446.3 138.1" stroke="#75c592"/><path d="M452.6 123.9L446.3 138.1" stroke="#c2c372"/><path d="M311.3 177.3L302.2 175.9L309.1 181.2L318.2 185Z" stroke="#36bbb5"/><path d="M302.2 175.9L311.3 177.3" stroke="#46bfab"/><path d="M318.2 185L311.3 177.3" stroke="#33bab7"/><path d="M119 134.4L109.9 112.1L117.4 124.9L126.5 146.8Z" stroke="#bac475"/><path d="M109.9 112.1L119 134.4" stroke="#d9c168"/><path d="M126.5 146.8L119 134.4" stroke="#8cc587"/><path d="M172 254.4L162.9 236.7L170.3 237.5L179.4 252Z" stroke="#2c8fd9"/><path d="M162.9 236.7L172 254.4" stroke="#2b92d8"/><path d="M179.4 252L172 254.4" stroke="#2583e0"/><path d="M214.1 257.7L205 257.7L212.3 243.9L221.4 242.3Z" stroke="#2a89dc"/><path d="M205 257.7L214.1 257.7" stroke="#217fe2"/><path d="M221.4 242.3L214.1 257.7" stroke="#2b8cdb"/><path d="M197.6 269.3L188.5 262.7L195.9 253.8L205 257.7Z" stroke="#2280e1"/><path d="M188.5 262.7L197.6 269.3" stroke="#1c7ae3"/><path d="M205 257.7L197.6 269.3" stroke="#217fe2"/><path d="M424.3 179.1L415.2 194.1L421.7 185.9L430.8 168.6Z" stroke="#30b9ba"/><path d="M415.2 194.1L424.3 179.1" stroke="#26b6c1"/><path d="M430.8 168.6L424.3 179.1" stroke="#58c2a0"/><path d="M336.4 191L327.3 188.3L334.1 199.2L343.2 202.6Z" stroke="#20b2c8"/><path d="M327.3 188.3L336.4 191" stroke="#30b9ba"/><path d="M343.2 202.6L336.4 191" stroke="#1fb1ca"/><path d="M230.4 237.5L221.4 242.3L228.6 226.1L237.7 221.2Z" stroke="#279bd7"/><path d="M221.4 242.3L230.4 237.5" stroke="#2b8cdb"/><path d="M237.7 221.2L230.4 237.5" stroke="#21a2d6"/><path d="M128.1 158.7L119 134.4L126.5 146.8L135.6 170Z" stroke="#8cc587"/><path d="M119 134.4L128.1 158.7" stroke="#aec57a"/><path d="M135.6 170L128.1 158.7" stroke="#51c1a4"/><path d="M361.4 205.5L352.3 204.7L359 215.6L368.1 215Z" stroke="#20a6d4"/><path d="M352.3 204.7L361.4 205.5" stroke="#1fb0cb"/><path d="M368.1 215L361.4 205.5" stroke="#1fa8d3"/><path d="M295.3 173.4L286.2 175L293.1 174.6L302.2 175.9Z" stroke="#46bfab"/><path d="M286.2 175L295.3 173.4" stroke="#48bfaa"/><path d="M302.2 175.9L295.3 173.4" stroke="#46bfab"/><path d="M483.2 70L474.1 80.7L480.3 69.4L489.4 60.5Z" stroke="#f9da3d"/><path d="M474.1 80.7L483.2 70" stroke="#fece46"/><path d="M489.4 60.5L483.2 70" stroke="#f6e932"/><path d="M246.8 214.2L237.7 221.2L244.8 205.7L253.9 200Z" stroke="#1faece"/><path d="M237.7 221.2L246.8 214.2" stroke="#21a2d6"/><path d="M253.9 200L246.8 214.2" stroke="#21b3c6"/><path d="M137.2 183.9L128.1 158.7L135.6 170L144.7 193.4Z" stroke="#51c1a4"/><path d="M128.1 158.7L137.2 183.9" stroke="#75c592"/><path d="M144.7 193.4L137.2 183.9" stroke="#26b6c1"/><path d="M181.1 268.4L172 254.4L179.4 252L188.5 262.7Z" stroke="#2583e0"/><path d="M172 254.4L181.1 268.4" stroke="#2583e0"/><path d="M188.5 262.7L181.1 268.4" stroke="#1c7ae3"/><path d="M263 193.1L253.9 200L261 187.9L270.1 183.4Z" stroke="#2eb9bb"/><path d="M253.9 200L263 193.1" stroke="#21b3c6"/><path d="M270.1 183.4L263 193.1" stroke="#38bcb4"/><path d="M279.2 178.7L270.1 183.4L277.1 176.8L286.2 175Z" stroke="#42beae"/><path d="M270.1 183.4L279.2 178.7" stroke="#38bcb4"/><path d="M286.2 175L279.2 178.7" stroke="#48bfaa"/><path d="M461.7 107.3L452.6 123.9L458.9 109.8L468 93.5Z" stroke="#dac168"/><path d="M452.6 123.9L461.7 107.3" stroke="#c2c372"/><path d="M468 93.5L461.7 107.3" stroke="#fac256"/><path d="M439.9 151.6L430.8 168.6L437.2 156.4L446.3 138.1Z" stroke="#75c592"/><path d="M430.8 168.6L439.9 151.6" stroke="#58c2a0"/><path d="M446.3 138.1L439.9 151.6" stroke="#a6c57d"/><path d="M146.3 208.9L137.2 183.9L144.7 193.4L153.8 216Z" stroke="#26b6c1"/><path d="M137.2 183.9L146.3 208.9" stroke="#3abcb3"/><path d="M153.8 216L146.3 208.9" stroke="#1fa7d4"/><path d="M320.4 178.7L311.3 177.3L318.2 185L327.3 188.3Z" stroke="#33bab7"/><path d="M311.3 177.3L320.4 178.7" stroke="#46bfab"/><path d="M327.3 188.3L320.4 178.7" stroke="#30b9ba"/><path d="M93.3 81.6L84.2 68.2L91.7 77.8L100.8 92.9Z" stroke="#fdd144"/><path d="M84.2 68.2L93.3 81.6" stroke="#f7df39"/><path d="M100.8 92.9L93.3 81.6" stroke="#fac256"/><path d="M402.1 202.9L393 211.3L399.6 211.2L408.7 199.9Z" stroke="#1faad1"/><path d="M393 211.3L402.1 202.9" stroke="#1facd0"/><path d="M408.7 199.9L402.1 202.9" stroke="#21b4c5"/><path d="M206.7 271.5L197.6 269.3L205 257.7L214.1 257.7Z" stroke="#217fe2"/><path d="M197.6 269.3L206.7 271.5" stroke="#1c74e4"/><path d="M214.1 257.7L206.7 271.5" stroke="#2180e1"/><path d="M386.3 208.6L377.2 212.7L383.9 218L393 211.3Z" stroke="#20a5d5"/><path d="M377.2 212.7L386.3 208.6" stroke="#1fabd1"/><path d="M393 211.3L386.3 208.6" stroke="#1facd0"/><path d="M345.5 193.1L336.4 191L343.2 202.6L352.3 204.7Z" stroke="#1fb1ca"/><path d="M336.4 191L345.5 193.1" stroke="#2cb8bc"/><path d="M352.3 204.7L345.5 193.1" stroke="#1fb0cb"/><path d="M223.2 253.8L214.1 257.7L221.4 242.3L230.4 237.5Z" stroke="#2b8cdb"/><path d="M214.1 257.7L223.2 253.8" stroke="#2180e1"/><path d="M230.4 237.5L223.2 253.8" stroke="#2b92d8"/><path d="M155.4 232.3L146.3 208.9L153.8 216L162.9 236.7Z" stroke="#1fa7d4"/><path d="M146.3 208.9L155.4 232.3" stroke="#1fafcd"/><path d="M162.9 236.7L155.4 232.3" stroke="#2b92d8"/><path d="M417.8 187.5L408.7 199.9L415.2 194.1L424.3 179.1Z" stroke="#26b6c1"/><path d="M408.7 199.9L417.8 187.5" stroke="#21b4c5"/><path d="M424.3 179.1L417.8 187.5" stroke="#42beae"/><path d="M190.2 278.1L181.1 268.4L188.5 262.7L197.6 269.3Z" stroke="#1c7ae3"/><path d="M181.1 268.4L190.2 278.1" stroke="#1b76e4"/><path d="M197.6 269.3L190.2 278.1" stroke="#1c74e4"/><path d="M477.1 81.3L468 93.5L474.1 80.7L483.2 70Z" stroke="#fece46"/><path d="M468 93.5L477.1 81.3" stroke="#fac256"/><path d="M483.2 70L477.1 81.3" stroke="#f8de3a"/><path d="M239.5 229.9L230.4 237.5L237.7 221.2L246.8 214.2Z" stroke="#21a2d6"/><path d="M230.4 237.5L239.5 229.9" stroke="#2b92d8"/><path d="M246.8 214.2L239.5 229.9" stroke="#1faad1"/><path d="M102.4 99.6L93.3 81.6L100.8 92.9L109.9 112.1Z" stroke="#fac256"/><path d="M93.3 81.6L102.4 99.6" stroke="#fdd144"/><path d="M109.9 112.1L102.4 99.6" stroke="#d9c168"/><path d="M370.5 205L361.4 205.5L368.1 215L377.2 212.7Z" stroke="#1fa8d3"/><path d="M361.4 205.5L370.5 205" stroke="#1fb1ca"/><path d="M377.2 212.7L370.5 205" stroke="#1fabd1"/><path d="M304.4 171.9L295.3 173.4L302.2 175.9L311.3 177.3Z" stroke="#46bfab"/><path d="M295.3 173.4L304.4 171.9" stroke="#51c1a4"/><path d="M311.3 177.3L304.4 171.9" stroke="#46bfab"/><path d="M455.4 121.6L446.3 138.1L452.6 123.9L461.7 107.3Z" stroke="#c2c372"/><path d="M446.3 138.1L455.4 121.6" stroke="#a6c57d"/><path d="M461.7 107.3L455.4 121.6" stroke="#e5c063"/><path d="M164.5 253.2L155.4 232.3L162.9 236.7L172 254.4Z" stroke="#2b92d8"/><path d="M155.4 232.3L164.5 253.2" stroke="#2899d7"/><path d="M172 254.4L164.5 253.2" stroke="#2583e0"/><path d="M433.4 164L424.3 179.1L430.8 168.6L439.9 151.6Z" stroke="#58c2a0"/><path d="M424.3 179.1L433.4 164" stroke="#42beae"/><path d="M439.9 151.6L433.4 164" stroke="#8ac588"/><path d="M255.9 205.4L246.8 214.2L253.9 200L263 193.1Z" stroke="#21b3c6"/><path d="M246.8 214.2L255.9 205.4" stroke="#1faad1"/><path d="M263 193.1L255.9 205.4" stroke="#2bb8bd"/><path d="M288.3 173.9L279.2 178.7L286.2 175L295.3 173.4Z" stroke="#48bfaa"/><path d="M279.2 178.7L288.3 173.9" stroke="#44beac"/><path d="M295.3 173.4L288.3 173.9" stroke="#51c1a4"/><path d="M111.5 121.4L102.4 99.6L109.9 112.1L119 134.4Z" stroke="#d9c168"/><path d="M102.4 99.6L111.5 121.4" stroke="#f3c05b"/><path d="M119 134.4L111.5 121.4" stroke="#aec57a"/><path d="M329.5 180L320.4 178.7L327.3 188.3L336.4 191Z" stroke="#30b9ba"/><path d="M320.4 178.7L329.5 180" stroke="#46bfab"/><path d="M336.4 191L329.5 180" stroke="#2cb8bc"/><path d="M272.1 185.5L263 193.1L270.1 183.4L279.2 178.7Z" stroke="#38bcb4"/><path d="M263 193.1L272.1 185.5" stroke="#2bb8bd"/><path d="M279.2 178.7L272.1 185.5" stroke="#44beac"/><path d="M173.6 270.6L164.5 253.2L172 254.4L181.1 268.4Z" stroke="#2583e0"/><path d="M164.5 253.2L173.6 270.6" stroke="#2786de"/><path d="M181.1 268.4L173.6 270.6" stroke="#1b76e4"/><path d="M354.6 194.6L345.5 193.1L352.3 204.7L361.4 205.5Z" stroke="#1fb0cb"/><path d="M345.5 193.1L354.6 194.6" stroke="#2cb8bc"/><path d="M361.4 205.5L354.6 194.6" stroke="#1fb1ca"/><path d="M215.8 269.3L206.7 271.5L214.1 257.7L223.2 253.8Z" stroke="#2180e1"/><path d="M206.7 271.5L215.8 269.3" stroke="#1c73e4"/><path d="M223.2 253.8L215.8 269.3" stroke="#2785df"/><path d="M120.6 146.1L111.5 121.4L119 134.4L128.1 158.7Z" stroke="#aec57a"/><path d="M111.5 121.4L120.6 146.1" stroke="#cdc26d"/><path d="M128.1 158.7L120.6 146.1" stroke="#75c592"/><path d="M199.3 283.1L190.2 278.1L197.6 269.3L206.7 271.5Z" stroke="#1c74e4"/><path d="M190.2 278.1L199.3 283.1" stroke="#3067dc"/><path d="M206.7 271.5L199.3 283.1" stroke="#1c73e4"/><path d="M470.8 94L461.7 107.3L468 93.5L477.1 81.3Z" stroke="#fac256"/><path d="M461.7 107.3L470.8 94" stroke="#e5c063"/><path d="M477.1 81.3L470.8 94" stroke="#fdd243"/><path d="M395.4 203.1L386.3 208.6L393 211.3L402.1 202.9Z" stroke="#1facd0"/><path d="M386.3 208.6L395.4 203.1" stroke="#1fafcc"/><path d="M402.1 202.9L395.4 203.1" stroke="#21b3c6"/><path d="M411.2 193.4L402.1 202.9L408.7 199.9L417.8 187.5Z" stroke="#21b4c5"/><path d="M402.1 202.9L411.2 193.4" stroke="#21b3c6"/><path d="M417.8 187.5L411.2 193.4" stroke="#35bbb6"/><path d="M449 135.9L439.9 151.6L446.3 138.1L455.4 121.6Z" stroke="#a6c57d"/><path d="M439.9 151.6L449 135.9" stroke="#8ac588"/><path d="M455.4 121.6L449 135.9" stroke="#ccc36e"/><path d="M232.3 246.3L223.2 253.8L230.4 237.5L239.5 229.9Z" stroke="#2b92d8"/><path d="M223.2 253.8L232.3 246.3" stroke="#2785df"/><path d="M239.5 229.9L232.3 246.3" stroke="#259dd6"/><path d="M129.7 172.4L120.6 146.1L128.1 158.7L137.2 183.9Z" stroke="#75c592"/><path d="M120.6 146.1L129.7 172.4" stroke="#9ac581"/><path d="M137.2 183.9L129.7 172.4" stroke="#3abcb3"/><path d="M313.5 170.9L304.4 171.9L311.3 177.3L320.4 178.7Z" stroke="#46bfab"/><path d="M304.4 171.9L313.5 170.9" stroke="#58c2a0"/><path d="M320.4 178.7L313.5 170.9" stroke="#46bfab"/><path d="M379.6 203.2L370.5 205L377.2 212.7L386.3 208.6Z" stroke="#1fabd1"/><path d="M370.5 205L379.6 203.2" stroke="#20b2c8"/><path d="M386.3 208.6L379.6 203.2" stroke="#1fafcc"/><path d="M138.8 199L129.7 172.4L137.2 183.9L146.3 208.9Z" stroke="#3abcb3"/><path d="M129.7 172.4L138.8 199" stroke="#58c2a0"/><path d="M146.3 208.9L138.8 199" stroke="#1fafcd"/><path d="M182.7 283.6L173.6 270.6L181.1 268.4L190.2 278.1Z" stroke="#1b76e4"/><path d="M173.6 270.6L182.7 283.6" stroke="#1b76e4"/><path d="M190.2 278.1L182.7 283.6" stroke="#3067dc"/><path d="M426.9 174.7L417.8 187.5L424.3 179.1L433.4 164Z" stroke="#42beae"/><path d="M417.8 187.5L426.9 174.7" stroke="#35bbb6"/><path d="M433.4 164L426.9 174.7" stroke="#6dc495"/><path d="M248.6 219.8L239.5 229.9L246.8 214.2L255.9 205.4Z" stroke="#1faad1"/><path d="M239.5 229.9L248.6 219.8" stroke="#259dd6"/><path d="M255.9 205.4L248.6 219.8" stroke="#20b2c8"/><path d="M85.7 72.2L76.6 61.4L84.2 68.2L93.3 81.6Z" stroke="#f7df39"/><path d="M76.6 61.4L85.7 72.2" stroke="#f6ed2f"/><path d="M93.3 81.6L85.7 72.2" stroke="#fdd144"/><path d="M338.6 181.4L329.5 180L336.4 191L345.5 193.1Z" stroke="#2cb8bc"/><path d="M329.5 180L338.6 181.4" stroke="#46bfab"/><path d="M345.5 193.1L338.6 181.4" stroke="#2cb8bc"/><path d="M147.9 224.8L138.8 199L146.3 208.9L155.4 232.3Z" stroke="#1fafcd"/><path d="M138.8 199L147.9 224.8" stroke="#26b6c1"/><path d="M155.4 232.3L147.9 224.8" stroke="#2899d7"/><path d="M297.4 169.4L288.3 173.9L295.3 173.4L304.4 171.9Z" stroke="#51c1a4"/><path d="M288.3 173.9L297.4 169.4" stroke="#54c1a3"/><path d="M304.4 171.9L297.4 169.4" stroke="#58c2a0"/><path d="M265 195.4L255.9 205.4L263 193.1L272.1 185.5Z" stroke="#2bb8bd"/><path d="M255.9 205.4L265 195.4" stroke="#20b2c8"/><path d="M272.1 185.5L265 195.4" stroke="#3abcb3"/><path d="M464.5 107.9L455.4 121.6L461.7 107.3L470.8 94Z" stroke="#e5c063"/><path d="M455.4 121.6L464.5 107.9" stroke="#ccc36e"/><path d="M470.8 94L464.5 107.9" stroke="#fdc451"/><path d="M363.7 195.3L354.6 194.6L361.4 205.5L370.5 205Z" stroke="#1fb1ca"/><path d="M354.6 194.6L363.7 195.3" stroke="#2cb8bc"/><path d="M370.5 205L363.7 195.3" stroke="#20b2c8"/><path d="M281.2 177.7L272.1 185.5L279.2 178.7L288.3 173.9Z" stroke="#44beac"/><path d="M272.1 185.5L281.2 177.7" stroke="#3abcb3"/><path d="M288.3 173.9L281.2 177.7" stroke="#54c1a3"/><path d="M208.4 283.1L199.3 283.1L206.7 271.5L215.8 269.3Z" stroke="#1c73e4"/><path d="M199.3 283.1L208.4 283.1" stroke="#3a62d4"/><path d="M215.8 269.3L208.4 283.1" stroke="#1b78e4"/><path d="M157 248.6L147.9 224.8L155.4 232.3L164.5 253.2Z" stroke="#2899d7"/><path d="M147.9 224.8L157 248.6" stroke="#20a4d5"/><path d="M164.5 253.2L157 248.6" stroke="#2786de"/><path d="M442.5 149.6L433.4 164L439.9 151.6L449 135.9Z" stroke="#8ac588"/><path d="M433.4 164L442.5 149.6" stroke="#6dc495"/><path d="M449 135.9L442.5 149.6" stroke="#b2c478"/><path d="M94.8 88.3L85.7 72.2L93.3 81.6L102.4 99.6Z" stroke="#fdd144"/><path d="M85.7 72.2L94.8 88.3" stroke="#f7df39"/><path d="M102.4 99.6L94.8 88.3" stroke="#f3c05b"/><path d="M224.9 262.7L215.8 269.3L223.2 253.8L232.3 246.3Z" stroke="#2785df"/><path d="M215.8 269.3L224.9 262.7" stroke="#1b78e4"/><path d="M232.3 246.3L224.9 262.7" stroke="#2b8dda"/><path d="M191.8 291.7L182.7 283.6L190.2 278.1L199.3 283.1Z" stroke="#3067dc"/><path d="M182.7 283.6L191.8 291.7" stroke="#3a62d4"/><path d="M199.3 283.1L191.8 291.7" stroke="#3a62d4"/><path d="M322.6 170.3L313.5 170.9L320.4 178.7L329.5 180Z" stroke="#46bfab"/><path d="M313.5 170.9L322.6 170.3" stroke="#5dc39d"/><path d="M329.5 180L322.6 170.3" stroke="#46bfab"/><path d="M404.5 196.6L395.4 203.1L402.1 202.9L411.2 193.4Z" stroke="#21b3c6"/><path d="M395.4 203.1L404.5 196.6" stroke="#21b4c5"/><path d="M411.2 193.4L404.5 196.6" stroke="#2eb9bb"/><path d="M166.1 269.1L157 248.6L164.5 253.2L173.6 270.6Z" stroke="#2786de"/><path d="M157 248.6L166.1 269.1" stroke="#2b8cdb"/><path d="M173.6 270.6L166.1 269.1" stroke="#1b76e4"/><path d="M241.4 235.7L232.3 246.3L239.5 229.9L248.6 219.8Z" stroke="#259dd6"/><path d="M232.3 246.3L241.4 235.7" stroke="#2b8dda"/><path d="M248.6 219.8L241.4 235.7" stroke="#1fa9d3"/><path d="M388.7 200.4L379.6 203.2L386.3 208.6L395.4 203.1Z" stroke="#1fafcc"/><path d="M379.6 203.2L388.7 200.4" stroke="#22b4c4"/><path d="M395.4 203.1L388.7 200.4" stroke="#21b4c5"/><path d="M420.3 183.3L411.2 193.4L417.8 187.5L426.9 174.7Z" stroke="#35bbb6"/><path d="M411.2 193.4L420.3 183.3" stroke="#2eb9bb"/><path d="M426.9 174.7L420.3 183.3" stroke="#54c1a3"/><path d="M103.8 108.9L94.8 88.3L102.4 99.6L111.5 121.4Z" stroke="#f3c05b"/><path d="M94.8 88.3L103.8 108.9" stroke="#fecc48"/><path d="M111.5 121.4L103.8 108.9" stroke="#cdc26d"/><path d="M347.7 182.9L338.6 181.4L345.5 193.1L354.6 194.6Z" stroke="#2cb8bc"/><path d="M338.6 181.4L347.7 182.9" stroke="#46bfab"/><path d="M354.6 194.6L347.7 182.9" stroke="#2cb8bc"/><path d="M458.1 122.4L449 135.9L455.4 121.6L464.5 107.9Z" stroke="#ccc36e"/><path d="M449 135.9L458.1 122.4" stroke="#b2c478"/><path d="M464.5 107.9L458.1 122.4" stroke="#e9c061"/><path d="M257.7 207.9L248.6 219.8L255.9 205.4L265 195.4Z" stroke="#20b2c8"/><path d="M248.6 219.8L257.7 207.9" stroke="#1fa9d3"/><path d="M265 195.4L257.7 207.9" stroke="#2cb8bc"/><path d="M112.9 133L103.8 108.9L111.5 121.4L120.6 146.1Z" stroke="#cdc26d"/><path d="M103.8 108.9L112.9 133" stroke="#e9c061"/><path d="M120.6 146.1L112.9 133" stroke="#9ac581"/><path d="M306.5 165.5L297.4 169.4L304.4 171.9L313.5 170.9Z" stroke="#58c2a0"/><path d="M297.4 169.4L306.5 165.5" stroke="#62c39b"/><path d="M313.5 170.9L306.5 165.5" stroke="#5dc39d"/><path d="M175.1 285.4L166.1 269.1L173.6 270.6L182.7 283.6Z" stroke="#1b76e4"/><path d="M166.1 269.1L175.1 285.4" stroke="#1c7ae3"/><path d="M182.7 283.6L175.1 285.4" stroke="#3a62d4"/><path d="M436 162.2L426.9 174.7L433.4 164L442.5 149.6Z" stroke="#6dc495"/><path d="M426.9 174.7L436 162.2" stroke="#54c1a3"/><path d="M442.5 149.6L436 162.2" stroke="#96c583"/><path d="M372.8 195.5L363.7 195.3L370.5 205L379.6 203.2Z" stroke="#20b2c8"/><path d="M363.7 195.3L372.8 195.5" stroke="#2cb8bc"/><path d="M379.6 203.2L372.8 195.5" stroke="#22b4c4"/><path d="M200.9 294.5L191.8 291.7L199.3 283.1L208.4 283.1Z" stroke="#3a62d4"/><path d="M191.8 291.7L200.9 294.5" stroke="#4756c0"/><path d="M208.4 283.1L200.9 294.5" stroke="#3763d7"/><path d="M122 159.5L112.9 133L120.6 146.1L129.7 172.4Z" stroke="#9ac581"/><path d="M112.9 133L122 159.5" stroke="#bcc474"/><path d="M129.7 172.4L122 159.5" stroke="#58c2a0"/><path d="M217.5 278.2L208.4 283.1L215.8 269.3L224.9 262.7Z" stroke="#1b78e4"/><path d="M208.4 283.1L217.5 278.2" stroke="#3763d7"/><path d="M224.9 262.7L217.5 278.2" stroke="#2180e1"/><path d="M274.1 184.7L265 195.4L272.1 185.5L281.2 177.7Z" stroke="#3abcb3"/><path d="M265 195.4L274.1 184.7" stroke="#2cb8bc"/><path d="M281.2 177.7L274.1 184.7" stroke="#4fc0a6"/><path d="M290.3 170L281.2 177.7L288.3 173.9L297.4 169.4Z" stroke="#54c1a3"/><path d="M281.2 177.7L290.3 170" stroke="#4fc0a6"/><path d="M297.4 169.4L290.3 170" stroke="#62c39b"/><path d="M78 65.6L68.9 57.8L76.6 61.4L85.7 72.2Z" stroke="#f6ed2f"/><path d="M68.9 57.8L78 65.6" stroke="#f8f828"/><path d="M85.7 72.2L78 65.6" stroke="#f7df39"/><path d="M131.1 187.2L122 159.5L129.7 172.4L138.8 199Z" stroke="#58c2a0"/><path d="M122 159.5L131.1 187.2" stroke="#82c58c"/><path d="M138.8 199L131.1 187.2" stroke="#26b6c1"/><path d="M331.7 170.4L322.6 170.3L329.5 180L338.6 181.4Z" stroke="#46bfab"/><path d="M322.6 170.3L331.7 170.4" stroke="#62c39b"/><path d="M338.6 181.4L331.7 170.4" stroke="#46bfab"/><path d="M234 252.3L224.9 262.7L232.3 246.3L241.4 235.7Z" stroke="#2b8dda"/><path d="M224.9 262.7L234 252.3" stroke="#2180e1"/><path d="M241.4 235.7L234 252.3" stroke="#2899d7"/><path d="M451.6 136.8L442.5 149.6L449 135.9L458.1 122.4Z" stroke="#b2c478"/><path d="M442.5 149.6L451.6 136.8" stroke="#96c583"/><path d="M458.1 122.4L451.6 136.8" stroke="#d1c26b"/><path d="M140.2 214.7L131.1 187.2L138.8 199L147.9 224.8Z" stroke="#26b6c1"/><path d="M131.1 187.2L140.2 214.7" stroke="#3ebdb0"/><path d="M147.9 224.8L140.2 214.7" stroke="#20a4d5"/><path d="M184.2 296.8L175.1 285.4L182.7 283.6L191.8 291.7Z" stroke="#3a62d4"/><path d="M175.1 285.4L184.2 296.8" stroke="#3a62d4"/><path d="M191.8 291.7L184.2 296.8" stroke="#4756c0"/><path d="M356.8 184.3L347.7 182.9L354.6 194.6L363.7 195.3Z" stroke="#2cb8bc"/><path d="M347.7 182.9L356.8 184.3" stroke="#46bfab"/><path d="M363.7 195.3L356.8 184.3" stroke="#2cb8bc"/><path d="M413.6 189.3L404.5 196.6L411.2 193.4L420.3 183.3Z" stroke="#2eb9bb"/><path d="M404.5 196.6L413.6 189.3" stroke="#2cb8bc"/><path d="M420.3 183.3L413.6 189.3" stroke="#44beac"/><path d="M397.8 196.8L388.7 200.4L395.4 203.1L404.5 196.6Z" stroke="#21b4c5"/><path d="M388.7 200.4L397.8 196.8" stroke="#27b6c0"/><path d="M404.5 196.6L397.8 196.8" stroke="#2cb8bc"/><path d="M149.3 240.7L140.2 214.7L147.9 224.8L157 248.6Z" stroke="#20a4d5"/><path d="M140.2 214.7L149.3 240.7" stroke="#1fafcd"/><path d="M157 248.6L149.3 240.7" stroke="#2b8cdb"/><path d="M250.5 222.5L241.4 235.7L248.6 219.8L257.7 207.9Z" stroke="#1fa9d3"/><path d="M241.4 235.7L250.5 222.5" stroke="#2899d7"/><path d="M257.7 207.9L250.5 222.5" stroke="#20b2c7"/><path d="M429.4 173.1L420.3 183.3L426.9 174.7L436 162.2Z" stroke="#54c1a3"/><path d="M420.3 183.3L429.4 173.1" stroke="#44beac"/><path d="M436 162.2L429.4 173.1" stroke="#7ac58f"/><path d="M87.1 79.1L78 65.6L85.7 72.2L94.8 88.3Z" stroke="#f7df39"/><path d="M78 65.6L87.1 79.1" stroke="#f6ec30"/><path d="M94.8 88.3L87.1 79.1" stroke="#fecc48"/><path d="M315.6 162.5L306.5 165.5L313.5 170.9L322.6 170.3Z" stroke="#5dc39d"/><path d="M306.5 165.5L315.6 162.5" stroke="#72c593"/><path d="M322.6 170.3L315.6 162.5" stroke="#62c39b"/><path d="M381.9 195L372.8 195.5L379.6 203.2L388.7 200.4Z" stroke="#22b4c4"/><path d="M372.8 195.5L381.9 195" stroke="#30b9ba"/><path d="M388.7 200.4L381.9 195" stroke="#27b6c0"/><path d="M158.4 264L149.3 240.7L157 248.6L166.1 269.1Z" stroke="#2b8cdb"/><path d="M149.3 240.7L158.4 264" stroke="#2a96d7"/><path d="M166.1 269.1L158.4 264" stroke="#1c7ae3"/><path d="M210 292L200.9 294.5L208.4 283.1L217.5 278.2Z" stroke="#3763d7"/><path d="M200.9 294.5L210 292" stroke="#4853ba"/><path d="M217.5 278.2L210 292" stroke="#2070e3"/><path d="M266.8 194.8L257.7 207.9L265 195.4L274.1 184.7Z" stroke="#2cb8bc"/><path d="M257.7 207.9L266.8 194.8" stroke="#20b2c7"/><path d="M274.1 184.7L266.8 194.8" stroke="#44beac"/><path d="M193.3 302.9L184.2 296.8L191.8 291.7L200.9 294.5Z" stroke="#4756c0"/><path d="M184.2 296.8L193.3 302.9" stroke="#4952b7"/><path d="M200.9 294.5L193.3 302.9" stroke="#4853ba"/><path d="M445.1 150.8L436 162.2L442.5 149.6L451.6 136.8Z" stroke="#96c583"/><path d="M436 162.2L445.1 150.8" stroke="#7ac58f"/><path d="M451.6 136.8L445.1 150.8" stroke="#b8c476"/><path d="M299.4 163.1L290.3 170L297.4 169.4L306.5 165.5Z" stroke="#62c39b"/><path d="M290.3 170L299.4 163.1" stroke="#68c498"/><path d="M306.5 165.5L299.4 163.1" stroke="#72c593"/><path d="M340.8 171.1L331.7 170.4L338.6 181.4L347.7 182.9Z" stroke="#46bfab"/><path d="M331.7 170.4L340.8 171.1" stroke="#68c498"/><path d="M347.7 182.9L340.8 171.1" stroke="#46bfab"/><path d="M226.6 268.8L217.5 278.2L224.9 262.7L234 252.3Z" stroke="#2180e1"/><path d="M217.5 278.2L226.6 268.8" stroke="#2070e3"/><path d="M234 252.3L226.6 268.8" stroke="#2b8bdb"/><path d="M96.2 97.7L87.1 79.1L94.8 88.3L103.8 108.9Z" stroke="#fecc48"/><path d="M87.1 79.1L96.2 97.7" stroke="#f9da3d"/><path d="M103.8 108.9L96.2 97.7" stroke="#e9c061"/><path d="M283.1 174L274.1 184.7L281.2 177.7L290.3 170Z" stroke="#4fc0a6"/><path d="M274.1 184.7L283.1 174" stroke="#44beac"/><path d="M290.3 170L283.1 174" stroke="#68c498"/><path d="M167.5 283.5L158.4 264L166.1 269.1L175.1 285.4Z" stroke="#1c7ae3"/><path d="M158.4 264L167.5 283.5" stroke="#2280e1"/><path d="M175.1 285.4L167.5 283.5" stroke="#3a62d4"/><path d="M365.9 185.7L356.8 184.3L363.7 195.3L372.8 195.5Z" stroke="#2cb8bc"/><path d="M356.8 184.3L365.9 185.7" stroke="#46bfab"/><path d="M372.8 195.5L365.9 185.7" stroke="#30b9ba"/><path d="M105.2 120.5L96.2 97.7L103.8 108.9L112.9 133Z" stroke="#e9c061"/><path d="M96.2 97.7L105.2 120.5" stroke="#fec550"/><path d="M112.9 133L105.2 120.5" stroke="#bcc474"/><path d="M243.1 238.6L234 252.3L241.4 235.7L250.5 222.5Z" stroke="#2899d7"/><path d="M234 252.3L243.1 238.6" stroke="#2b8bdb"/><path d="M250.5 222.5L243.1 238.6" stroke="#1fa9d3"/><path d="M406.9 192.6L397.8 196.8L404.5 196.6L413.6 189.3Z" stroke="#2cb8bc"/><path d="M397.8 196.8L406.9 192.6" stroke="#2eb9bb"/><path d="M413.6 189.3L406.9 192.6" stroke="#3cbdb1"/><path d="M70.2 62.5L61.1 58L68.9 57.8L78 65.6Z" stroke="#f8f828"/><path d="M61.1 58L70.2 62.5" stroke="#fafb26"/><path d="M78 65.6L70.2 62.5" stroke="#f6ec30"/><path d="M422.7 181.9L413.6 189.3L420.3 183.3L429.4 173.1Z" stroke="#44beac"/><path d="M413.6 189.3L422.7 181.9" stroke="#3cbdb1"/><path d="M429.4 173.1L422.7 181.9" stroke="#60c39c"/><path d="M176.6 298.3L167.5 283.5L175.1 285.4L184.2 296.8Z" stroke="#3a62d4"/><path d="M167.5 283.5L176.6 298.3" stroke="#2c69de"/><path d="M184.2 296.8L176.6 298.3" stroke="#4952b7"/><path d="M114.3 146.4L105.2 120.5L112.9 133L122 159.5Z" stroke="#bcc474"/><path d="M105.2 120.5L114.3 146.4" stroke="#dac168"/><path d="M122 159.5L114.3 146.4" stroke="#82c58c"/><path d="M324.7 160.6L315.6 162.5L322.6 170.3L331.7 170.4Z" stroke="#62c39b"/><path d="M315.6 162.5L324.7 160.6" stroke="#80c58d"/><path d="M331.7 170.4L324.7 160.6" stroke="#68c498"/><path d="M391 194.1L381.9 195L388.7 200.4L397.8 196.8Z" stroke="#27b6c0"/><path d="M381.9 195L391 194.1" stroke="#33bab7"/><path d="M397.8 196.8L391 194.1" stroke="#2eb9bb"/><path d="M123.4 174.2L114.3 146.4L122 159.5L131.1 187.2Z" stroke="#82c58c"/><path d="M114.3 146.4L123.4 174.2" stroke="#a8c57c"/><path d="M131.1 187.2L123.4 174.2" stroke="#3ebdb0"/><path d="M438.5 163.6L429.4 173.1L436 162.2L445.1 150.8Z" stroke="#7ac58f"/><path d="M429.4 173.1L438.5 163.6" stroke="#60c39c"/><path d="M445.1 150.8L438.5 163.6" stroke="#9dc581"/><path d="M259.6 207.5L250.5 222.5L257.7 207.9L266.8 194.8Z" stroke="#20b2c7"/><path d="M250.5 222.5L259.6 207.5" stroke="#1fa9d3"/><path d="M266.8 194.8L259.6 207.5" stroke="#33bab7"/><path d="M202.4 303.2L193.3 302.9L200.9 294.5L210 292Z" stroke="#4853ba"/><path d="M193.3 302.9L202.4 303.2" stroke="#4a4aa9"/><path d="M210 292L202.4 303.2" stroke="#425bc9"/><path d="M349.9 172.5L340.8 171.1L347.7 182.9L356.8 184.3Z" stroke="#46bfab"/><path d="M340.8 171.1L349.9 172.5" stroke="#68c498"/><path d="M356.8 184.3L349.9 172.5" stroke="#46bfab"/><path d="M132.5 202.6L123.4 174.2L131.1 187.2L140.2 214.7Z" stroke="#3ebdb0"/><path d="M123.4 174.2L132.5 202.6" stroke="#62c39b"/><path d="M140.2 214.7L132.5 202.6" stroke="#1fafcd"/><path d="M219.1 284.3L210 292L217.5 278.2L226.6 268.8Z" stroke="#2070e3"/><path d="M210 292L219.1 284.3" stroke="#425bc9"/><path d="M226.6 268.8L219.1 284.3" stroke="#1f7de3"/><path d="M308.5 157.2L299.4 163.1L306.5 165.5L315.6 162.5Z" stroke="#72c593"/><path d="M299.4 163.1L308.5 157.2" stroke="#80c58d"/><path d="M315.6 162.5L308.5 157.2" stroke="#80c58d"/><path d="M141.6 230.3L132.5 202.6L140.2 214.7L149.3 240.7Z" stroke="#1fafcd"/><path d="M132.5 202.6L141.6 230.3" stroke="#28b7bf"/><path d="M149.3 240.7L141.6 230.3" stroke="#2a96d7"/><path d="M375 187.2L365.9 185.7L372.8 195.5L381.9 195Z" stroke="#30b9ba"/><path d="M365.9 185.7L375 187.2" stroke="#46bfab"/><path d="M381.9 195L375 187.2" stroke="#33bab7"/><path d="M275.9 181.2L266.8 194.8L274.1 184.7L283.1 174Z" stroke="#44beac"/><path d="M266.8 194.8L275.9 181.2" stroke="#33bab7"/><path d="M283.1 174L275.9 181.2" stroke="#62c39b"/><path d="M79.3 72.9L70.2 62.5L78 65.6L87.1 79.1Z" stroke="#f6ec30"/><path d="M70.2 62.5L79.3 72.9" stroke="#f8f62a"/><path d="M87.1 79.1L79.3 72.9" stroke="#f9da3d"/><path d="M185.7 307.7L176.6 298.3L184.2 296.8L193.3 302.9Z" stroke="#4952b7"/><path d="M176.6 298.3L185.7 307.7" stroke="#4952b7"/><path d="M193.3 302.9L185.7 307.7" stroke="#4a4aa9"/><path d="M292.2 163.8L283.1 174L290.3 170L299.4 163.1Z" stroke="#68c498"/><path d="M283.1 174L292.2 163.8" stroke="#62c39b"/><path d="M299.4 163.1L292.2 163.8" stroke="#80c58d"/><path d="M235.7 255.4L226.6 268.8L234 252.3L243.1 238.6Z" stroke="#2b8bdb"/><path d="M226.6 268.8L235.7 255.4" stroke="#1f7de3"/><path d="M243.1 238.6L235.7 255.4" stroke="#279bd7"/><path d="M150.7 255.8L141.6 230.3L149.3 240.7L158.4 264Z" stroke="#2a96d7"/><path d="M141.6 230.3L150.7 255.8" stroke="#20a4d5"/><path d="M158.4 264L150.7 255.8" stroke="#2280e1"/><path d="M333.8 159.9L324.7 160.6L331.7 170.4L340.8 171.1Z" stroke="#68c498"/><path d="M324.7 160.6L333.8 159.9" stroke="#87c589"/><path d="M340.8 171.1L333.8 159.9" stroke="#68c498"/><path d="M416 188.1L406.9 192.6L413.6 189.3L422.7 181.9Z" stroke="#3cbdb1"/><path d="M406.9 192.6L416 188.1" stroke="#38bcb4"/><path d="M422.7 181.9L416 188.1" stroke="#4fc0a6"/><path d="M159.8 278.1L150.7 255.8L158.4 264L167.5 283.5Z" stroke="#2280e1"/><path d="M150.7 255.8L159.8 278.1" stroke="#2a8adc"/><path d="M167.5 283.5L159.8 278.1" stroke="#2c69de"/><path d="M400.1 192.9L391 194.1L397.8 196.8L406.9 192.6Z" stroke="#2eb9bb"/><path d="M391 194.1L400.1 192.9" stroke="#36bbb5"/><path d="M406.9 192.6L400.1 192.9" stroke="#38bcb4"/><path d="M88.4 88.8L79.3 72.9L87.1 79.1L96.2 97.7Z" stroke="#f9da3d"/><path d="M79.3 72.9L88.4 88.8" stroke="#f6e634"/><path d="M96.2 97.7L88.4 88.8" stroke="#fec550"/><path d="M431.8 174.7L422.7 181.9L429.4 173.1L438.5 163.6Z" stroke="#60c39c"/><path d="M422.7 181.9L431.8 174.7" stroke="#4fc0a6"/><path d="M438.5 163.6L431.8 174.7" stroke="#80c58d"/><path d="M252.2 222.4L243.1 238.6L250.5 222.5L259.6 207.5Z" stroke="#1fa9d3"/><path d="M243.1 238.6L252.2 222.4" stroke="#279bd7"/><path d="M259.6 207.5L252.2 222.4" stroke="#23b5c3"/><path d="M359 174.6L349.9 172.5L356.8 184.3L365.9 185.7Z" stroke="#46bfab"/><path d="M349.9 172.5L359 174.6" stroke="#6ac497"/><path d="M365.9 185.7L359 174.6" stroke="#46bfab"/><path d="M211.5 298L202.4 303.2L210 292L219.1 284.3Z" stroke="#425bc9"/><path d="M202.4 303.2L211.5 298" stroke="#4a4cac"/><path d="M219.1 284.3L211.5 298" stroke="#286be0"/><path d="M194.8 311.3L185.7 307.7L193.3 302.9L202.4 303.2Z" stroke="#4a4aa9"/><path d="M185.7 307.7L194.8 311.3" stroke="#4a46a1"/><path d="M202.4 303.2L194.8 311.3" stroke="#4a4cac"/><path d="M168.9 296L159.8 278.1L167.5 283.5L176.6 298.3Z" stroke="#2c69de"/><path d="M159.8 278.1L168.9 296" stroke="#1b76e4"/><path d="M176.6 298.3L168.9 296" stroke="#4952b7"/><path d="M384.1 188.7L375 187.2L381.9 195L391 194.1Z" stroke="#33bab7"/><path d="M375 187.2L384.1 188.7" stroke="#46bfab"/><path d="M391 194.1L384.1 188.7" stroke="#36bbb5"/><path d="M97.5 109.4L88.4 88.8L96.2 97.7L105.2 120.5Z" stroke="#fec550"/><path d="M88.4 88.8L97.5 109.4" stroke="#fcd342"/><path d="M105.2 120.5L97.5 109.4" stroke="#dac168"/><path d="M317.6 152.7L308.5 157.2L315.6 162.5L324.7 160.6Z" stroke="#80c58d"/><path d="M308.5 157.2L317.6 152.7" stroke="#91c585"/><path d="M324.7 160.6L317.6 152.7" stroke="#87c589"/><path d="M228.2 272L219.1 284.3L226.6 268.8L235.7 255.4Z" stroke="#1f7de3"/><path d="M219.1 284.3L228.2 272" stroke="#286be0"/><path d="M235.7 255.4L228.2 272" stroke="#2b8bdb"/><path d="M268.6 191.5L259.6 207.5L266.8 194.8L275.9 181.2Z" stroke="#33bab7"/><path d="M259.6 207.5L268.6 191.5" stroke="#23b5c3"/><path d="M275.9 181.2L268.6 191.5" stroke="#54c1a3"/><path d="M106.6 133.9L97.5 109.4L105.2 120.5L114.3 146.4Z" stroke="#dac168"/><path d="M97.5 109.4L106.6 133.9" stroke="#f3c05b"/><path d="M114.3 146.4L106.6 133.9" stroke="#a8c57c"/><path d="M301.3 154.8L292.2 163.8L299.4 163.1L308.5 157.2Z" stroke="#80c58d"/><path d="M292.2 163.8L301.3 154.8" stroke="#82c58c"/><path d="M308.5 157.2L301.3 154.8" stroke="#91c585"/><path d="M285 168L275.9 181.2L283.1 174L292.2 163.8Z" stroke="#62c39b"/><path d="M275.9 181.2L285 168" stroke="#54c1a3"/><path d="M292.2 163.8L285 168" stroke="#82c58c"/><path d="M342.9 160.6L333.8 159.9L340.8 171.1L349.9 172.5Z" stroke="#68c498"/><path d="M333.8 159.9L342.9 160.6" stroke="#8cc587"/><path d="M349.9 172.5L342.9 160.6" stroke="#6ac497"/><path d="M115.7 161L106.6 133.9L114.3 146.4L123.4 174.2Z" stroke="#a8c57c"/><path d="M106.6 133.9L115.7 161" stroke="#c6c370"/><path d="M123.4 174.2L115.7 161" stroke="#62c39b"/><path d="M178 308.8L168.9 296L176.6 298.3L185.7 307.7Z" stroke="#4952b7"/><path d="M168.9 296L178 308.8" stroke="#4459c6"/><path d="M185.7 307.7L178 308.8" stroke="#4a46a1"/><path d="M244.8 238.7L235.7 255.4L243.1 238.6L252.2 222.4Z" stroke="#279bd7"/><path d="M235.7 255.4L244.8 238.7" stroke="#2b8bdb"/><path d="M252.2 222.4L244.8 238.7" stroke="#1facd0"/><path d="M368.1 177.4L359 174.6L365.9 185.7L375 187.2Z" stroke="#46bfab"/><path d="M359 174.6L368.1 177.4" stroke="#68c498"/><path d="M375 187.2L368.1 177.4" stroke="#46bfab"/><path d="M425.1 183.6L416 188.1L422.7 181.9L431.8 174.7Z" stroke="#4fc0a6"/><path d="M416 188.1L425.1 183.6" stroke="#46bfab"/><path d="M431.8 174.7L425.1 183.6" stroke="#65c399"/><path d="M124.8 189.5L115.7 161L123.4 174.2L132.5 202.6Z" stroke="#62c39b"/><path d="M115.7 161L124.8 189.5" stroke="#8cc587"/><path d="M132.5 202.6L124.8 189.5" stroke="#28b7bf"/><path d="M409.2 191.4L400.1 192.9L406.9 192.6L416 188.1Z" stroke="#38bcb4"/><path d="M400.1 192.9L409.2 191.4" stroke="#3cbdb1"/><path d="M416 188.1L409.2 191.4" stroke="#46bfab"/><path d="M133.9 217.9L124.8 189.5L132.5 202.6L141.6 230.3Z" stroke="#28b7bf"/><path d="M124.8 189.5L133.9 217.9" stroke="#46bfab"/><path d="M141.6 230.3L133.9 217.9" stroke="#20a4d5"/><path d="M203.9 309L194.8 311.3L202.4 303.2L211.5 298Z" stroke="#4a4cac"/><path d="M194.8 311.3L203.9 309" stroke="#4a449b"/><path d="M211.5 298L203.9 309" stroke="#4756c0"/><path d="M393.2 190.2L384.1 188.7L391 194.1L400.1 192.9Z" stroke="#36bbb5"/><path d="M384.1 188.7L393.2 190.2" stroke="#46bfab"/><path d="M400.1 192.9L393.2 190.2" stroke="#3cbdb1"/><path d="M143 245L133.9 217.9L141.6 230.3L150.7 255.8Z" stroke="#20a4d5"/><path d="M133.9 217.9L143 245" stroke="#1fb0cb"/><path d="M150.7 255.8L143 245" stroke="#2a8adc"/><path d="M220.6 287.5L211.5 298L219.1 284.3L228.2 272Z" stroke="#286be0"/><path d="M211.5 298L220.6 287.5" stroke="#4756c0"/><path d="M228.2 272L220.6 287.5" stroke="#207ee2"/><path d="M326.7 150L317.6 152.7L324.7 160.6L333.8 159.9Z" stroke="#87c589"/><path d="M317.6 152.7L326.7 150" stroke="#9fc580"/><path d="M333.8 159.9L326.7 150" stroke="#8cc587"/><path d="M261.3 204.6L252.2 222.4L259.6 207.5L268.6 191.5Z" stroke="#23b5c3"/><path d="M252.2 222.4L261.3 204.6" stroke="#1facd0"/><path d="M268.6 191.5L261.3 204.6" stroke="#40beaf"/><path d="M152.1 269.5L143 245L150.7 255.8L159.8 278.1Z" stroke="#2a8adc"/><path d="M143 245L152.1 269.5" stroke="#2997d7"/><path d="M159.8 278.1L152.1 269.5" stroke="#1b76e4"/><path d="M187.1 315.8L178 308.8L185.7 307.7L194.8 311.3Z" stroke="#4a46a1"/><path d="M178 308.8L187.1 315.8" stroke="#4a48a4"/><path d="M194.8 311.3L187.1 315.8" stroke="#4a449b"/><path d="M352 162.6L342.9 160.6L349.9 172.5L359 174.6Z" stroke="#6ac497"/><path d="M342.9 160.6L352 162.6" stroke="#8fc586"/><path d="M359 174.6L352 162.6" stroke="#68c498"/><path d="M237.3 255.7L228.2 272L235.7 255.4L244.8 238.7Z" stroke="#2b8bdb"/><path d="M228.2 272L237.3 255.7" stroke="#207ee2"/><path d="M244.8 238.7L237.3 255.7" stroke="#259ed6"/><path d="M377.2 180.8L368.1 177.4L375 187.2L384.1 188.7Z" stroke="#46bfab"/><path d="M368.1 177.4L377.2 180.8" stroke="#62c39b"/><path d="M384.1 188.7L377.2 180.8" stroke="#46bfab"/><path d="M310.4 147.5L301.3 154.8L308.5 157.2L317.6 152.7Z" stroke="#91c585"/><path d="M301.3 154.8L310.4 147.5" stroke="#9dc581"/><path d="M317.6 152.7L310.4 147.5" stroke="#9fc580"/><path d="M277.7 175.4L268.6 191.5L275.9 181.2L285 168Z" stroke="#54c1a3"/><path d="M268.6 191.5L277.7 175.4" stroke="#40beaf"/><path d="M285 168L277.7 175.4" stroke="#7ac58f"/><path d="M161.2 290.1L152.1 269.5L159.8 278.1L168.9 296Z" stroke="#1b76e4"/><path d="M152.1 269.5L161.2 290.1" stroke="#2381e1"/><path d="M168.9 296L161.2 290.1" stroke="#4459c6"/><path d="M294.1 155.7L285 168L292.2 163.8L301.3 154.8Z" stroke="#82c58c"/><path d="M285 168L294.1 155.7" stroke="#7ac58f"/><path d="M301.3 154.8L294.1 155.7" stroke="#9dc581"/><path d="M418.3 189.8L409.2 191.4L416 188.1L425.1 183.6Z" stroke="#46bfab"/><path d="M409.2 191.4L418.3 189.8" stroke="#42beae"/><path d="M425.1 183.6L418.3 189.8" stroke="#54c1a3"/><path d="M402.3 191.7L393.2 190.2L400.1 192.9L409.2 191.4Z" stroke="#3cbdb1"/><path d="M393.2 190.2L402.3 191.7" stroke="#46bfab"/><path d="M409.2 191.4L402.3 191.7" stroke="#42beae"/><path d="M170.3 306L161.2 290.1L168.9 296L178 308.8Z" stroke="#4459c6"/><path d="M161.2 290.1L170.3 306" stroke="#3067dc"/><path d="M178 308.8L170.3 306" stroke="#4a48a4"/><path d="M335.8 149.3L326.7 150L333.8 159.9L342.9 160.6Z" stroke="#8cc587"/><path d="M326.7 150L335.8 149.3" stroke="#aac57b"/><path d="M342.9 160.6L335.8 149.3" stroke="#8fc586"/><path d="M253.9 219.7L244.8 238.7L252.2 222.4L261.3 204.6Z" stroke="#1facd0"/><path d="M244.8 238.7L253.9 219.7" stroke="#259ed6"/><path d="M261.3 204.6L253.9 219.7" stroke="#2cb8bc"/><path d="M213 301L203.9 309L211.5 298L220.6 287.5Z" stroke="#4756c0"/><path d="M203.9 309L213 301" stroke="#4a48a4"/><path d="M220.6 287.5L213 301" stroke="#286be0"/><path d="M196.2 316.8L187.1 315.8L194.8 311.3L203.9 309Z" stroke="#4a449b"/><path d="M187.1 315.8L196.2 316.8" stroke="#494093"/><path d="M203.9 309L196.2 316.8" stroke="#4a48a4"/><path d="M361 166.1L352 162.6L359 174.6L368.1 177.4Z" stroke="#68c498"/><path d="M352 162.6L361 166.1" stroke="#8cc587"/><path d="M368.1 177.4L361 166.1" stroke="#62c39b"/><path d="M386.3 184.7L377.2 180.8L384.1 188.7L393.2 190.2Z" stroke="#46bfab"/><path d="M377.2 180.8L386.3 184.7" stroke="#5dc39d"/><path d="M393.2 190.2L386.3 184.7" stroke="#46bfab"/><path d="M229.7 272.4L220.6 287.5L228.2 272L237.3 255.7Z" stroke="#207ee2"/><path d="M220.6 287.5L229.7 272.4" stroke="#286be0"/><path d="M237.3 255.7L229.7 272.4" stroke="#2b8dda"/><path d="M270.4 186.1L261.3 204.6L268.6 191.5L277.7 175.4Z" stroke="#40beaf"/><path d="M261.3 204.6L270.4 186.1" stroke="#2cb8bc"/><path d="M277.7 175.4L270.4 186.1" stroke="#6dc495"/><path d="M319.5 142.2L310.4 147.5L317.6 152.7L326.7 150Z" stroke="#9fc580"/><path d="M310.4 147.5L319.5 142.2" stroke="#b0c479"/><path d="M326.7 150L319.5 142.2" stroke="#aac57b"/><path d="M179.4 316.5L170.3 306L178 308.8L187.1 315.8Z" stroke="#4a48a4"/><path d="M170.3 306L179.4 316.5" stroke="#4a4fb2"/><path d="M187.1 315.8L179.4 316.5" stroke="#494093"/><path d="M411.4 193.2L402.3 191.7L409.2 191.4L418.3 189.8Z" stroke="#42beae"/><path d="M402.3 191.7L411.4 193.2" stroke="#46bfab"/><path d="M418.3 189.8L411.4 193.2" stroke="#48bfaa"/><path d="M286.8 160.1L277.7 175.4L285 168L294.1 155.7Z" stroke="#7ac58f"/><path d="M277.7 175.4L286.8 160.1" stroke="#6dc495"/><path d="M294.1 155.7L286.8 160.1" stroke="#9fc580"/><path d="M303.2 145.2L294.1 155.7L301.3 154.8L310.4 147.5Z" stroke="#9dc581"/><path d="M294.1 155.7L303.2 145.2" stroke="#9fc580"/><path d="M310.4 147.5L303.2 145.2" stroke="#b0c479"/><path d="M246.4 236.3L237.3 255.7L244.8 238.7L253.9 219.7Z" stroke="#259ed6"/><path d="M237.3 255.7L246.4 236.3" stroke="#2b8dda"/><path d="M253.9 219.7L246.4 236.3" stroke="#1fb1ca"/><path d="M344.9 150.6L335.8 149.3L342.9 160.6L352 162.6Z" stroke="#8fc586"/><path d="M335.8 149.3L344.9 150.6" stroke="#aec57a"/><path d="M352 162.6L344.9 150.6" stroke="#8cc587"/><path d="M370.1 170.8L361 166.1L368.1 177.4L377.2 180.8Z" stroke="#62c39b"/><path d="M361 166.1L370.1 170.8" stroke="#87c589"/><path d="M377.2 180.8L370.1 170.8" stroke="#5dc39d"/><path d="M205.3 311.9L196.2 316.8L203.9 309L213 301Z" stroke="#4a48a4"/><path d="M196.2 316.8L205.3 311.9" stroke="#494093"/><path d="M213 301L205.3 311.9" stroke="#4756c0"/><path d="M395.3 188.9L386.3 184.7L393.2 190.2L402.3 191.7Z" stroke="#46bfab"/><path d="M386.3 184.7L395.3 188.9" stroke="#58c2a0"/><path d="M402.3 191.7L395.3 188.9" stroke="#46bfab"/><path d="M222.1 287.8L213 301L220.6 287.5L229.7 272.4Z" stroke="#286be0"/><path d="M213 301L222.1 287.8" stroke="#4756c0"/><path d="M229.7 272.4L222.1 287.8" stroke="#2280e1"/><path d="M188.5 320.9L179.4 316.5L187.1 315.8L196.2 316.8Z" stroke="#494093"/><path d="M179.4 316.5L188.5 320.9" stroke="#4a4298"/><path d="M196.2 316.8L188.5 320.9" stroke="#494093"/><path d="M263 199.4L253.9 219.7L261.3 204.6L270.4 186.1Z" stroke="#2cb8bc"/><path d="M253.9 219.7L263 199.4" stroke="#1fb1ca"/><path d="M270.4 186.1L263 199.4" stroke="#56c2a2"/><path d="M328.6 139.4L319.5 142.2L326.7 150L335.8 149.3Z" stroke="#aac57b"/><path d="M319.5 142.2L328.6 139.4" stroke="#bec473"/><path d="M335.8 149.3L328.6 139.4" stroke="#aec57a"/><path d="M238.8 253.4L229.7 272.4L237.3 255.7L246.4 236.3Z" stroke="#2b8dda"/><path d="M229.7 272.4L238.8 253.4" stroke="#2280e1"/><path d="M246.4 236.3L238.8 253.4" stroke="#20a4d5"/><path d="M354 154L344.9 150.6L352 162.6L361 166.1Z" stroke="#8cc587"/><path d="M344.9 150.6L354 154" stroke="#aec57a"/><path d="M361 166.1L354 154" stroke="#87c589"/><path d="M379.2 176.6L370.1 170.8L377.2 180.8L386.3 184.7Z" stroke="#5dc39d"/><path d="M370.1 170.8L379.2 176.6" stroke="#80c58d"/><path d="M386.3 184.7L379.2 176.6" stroke="#58c2a0"/><path d="M279.5 167.9L270.4 186.1L277.7 175.4L286.8 160.1Z" stroke="#6dc495"/><path d="M270.4 186.1L279.5 167.9" stroke="#56c2a2"/><path d="M286.8 160.1L279.5 167.9" stroke="#98c582"/><path d="M312.3 137.1L303.2 145.2L310.4 147.5L319.5 142.2Z" stroke="#b0c479"/><path d="M303.2 145.2L312.3 137.1" stroke="#b8c476"/><path d="M319.5 142.2L312.3 137.1" stroke="#bec473"/><path d="M404.4 193.4L395.3 188.9L402.3 191.7L411.4 193.2Z" stroke="#46bfab"/><path d="M395.3 188.9L404.4 193.4" stroke="#51c1a4"/><path d="M411.4 193.2L404.4 193.4" stroke="#46bfab"/><path d="M295.9 146.4L286.8 160.1L294.1 155.7L303.2 145.2Z" stroke="#9fc580"/><path d="M286.8 160.1L295.9 146.4" stroke="#98c582"/><path d="M303.2 145.2L295.9 146.4" stroke="#b8c476"/><path d="M197.5 319.3L188.5 320.9L196.2 316.8L205.3 311.9Z" stroke="#494093"/><path d="M188.5 320.9L197.5 319.3" stroke="#494093"/><path d="M205.3 311.9L197.5 319.3" stroke="#4a49a6"/><path d="M214.4 301.2L205.3 311.9L213 301L222.1 287.8Z" stroke="#4756c0"/><path d="M205.3 311.9L214.4 301.2" stroke="#4a49a6"/><path d="M222.1 287.8L214.4 301.2" stroke="#1d72e4"/><path d="M255.5 214.8L246.4 236.3L253.9 219.7L263 199.4Z" stroke="#1fb1ca"/><path d="M246.4 236.3L255.5 214.8" stroke="#20a4d5"/><path d="M263 199.4L255.5 214.8" stroke="#3cbdb1"/><path d="M337.7 139.3L328.6 139.4L335.8 149.3L344.9 150.6Z" stroke="#aec57a"/><path d="M328.6 139.4L337.7 139.3" stroke="#c8c36f"/><path d="M344.9 150.6L337.7 139.3" stroke="#aec57a"/><path d="M363.1 159.4L354 154L361 166.1L370.1 170.8Z" stroke="#87c589"/><path d="M354 154L363.1 159.4" stroke="#aac57b"/><path d="M370.1 170.8L363.1 159.4" stroke="#80c58d"/><path d="M388.3 183.3L379.2 176.6L386.3 184.7L395.3 188.9Z" stroke="#58c2a0"/><path d="M379.2 176.6L388.3 183.3" stroke="#72c593"/><path d="M395.3 188.9L388.3 183.3" stroke="#51c1a4"/><path d="M231.2 270.1L222.1 287.8L229.7 272.4L238.8 253.4Z" stroke="#2280e1"/><path d="M222.1 287.8L231.2 270.1" stroke="#1d72e4"/><path d="M238.8 253.4L231.2 270.1" stroke="#2b94d7"/><path d="M272.1 178.8L263 199.4L270.4 186.1L279.5 167.9Z" stroke="#56c2a2"/><path d="M263 199.4L272.1 178.8" stroke="#3cbdb1"/><path d="M279.5 167.9L272.1 178.8" stroke="#8ac588"/><path d="M321.4 131.7L312.3 137.1L319.5 142.2L328.6 139.4Z" stroke="#bec473"/><path d="M312.3 137.1L321.4 131.7" stroke="#cdc26d"/><path d="M328.6 139.4L321.4 131.7" stroke="#c8c36f"/><path d="M247.9 231.6L238.8 253.4L246.4 236.3L255.5 214.8Z" stroke="#20a4d5"/><path d="M238.8 253.4L247.9 231.6" stroke="#2b94d7"/><path d="M255.5 214.8L247.9 231.6" stroke="#26b6c1"/><path d="M288.6 151L279.5 167.9L286.8 160.1L295.9 146.4Z" stroke="#98c582"/><path d="M279.5 167.9L288.6 151" stroke="#8ac588"/><path d="M295.9 146.4L288.6 151" stroke="#bac475"/><path d="M305 135L295.9 146.4L303.2 145.2L312.3 137.1Z" stroke="#b8c476"/><path d="M295.9 146.4L305 135" stroke="#bac475"/><path d="M312.3 137.1L305 135" stroke="#cdc26d"/><path d="M372.2 166.5L363.1 159.4L370.1 170.8L379.2 176.6Z" stroke="#80c58d"/><path d="M363.1 159.4L372.2 166.5" stroke="#a1c57f"/><path d="M379.2 176.6L372.2 166.5" stroke="#72c593"/><path d="M397.4 190.6L388.3 183.3L395.3 188.9L404.4 193.4Z" stroke="#51c1a4"/><path d="M388.3 183.3L397.4 190.6" stroke="#65c399"/><path d="M404.4 193.4L397.4 190.6" stroke="#48bfaa"/><path d="M206.6 311.8L197.5 319.3L205.3 311.9L214.4 301.2Z" stroke="#4a49a6"/><path d="M197.5 319.3L206.6 311.8" stroke="#4a4298"/><path d="M214.4 301.2L206.6 311.8" stroke="#415ccc"/><path d="M346.8 141.9L337.7 139.3L344.9 150.6L354 154Z" stroke="#aec57a"/><path d="M337.7 139.3L346.8 141.9" stroke="#cac36f"/><path d="M354 154L346.8 141.9" stroke="#aac57b"/><path d="M223.5 285.5L214.4 301.2L222.1 287.8L231.2 270.1Z" stroke="#1d72e4"/><path d="M214.4 301.2L223.5 285.5" stroke="#415ccc"/><path d="M231.2 270.1L223.5 285.5" stroke="#2786de"/><path d="M264.6 192.4L255.5 214.8L263 199.4L272.1 178.8Z" stroke="#3cbdb1"/><path d="M255.5 214.8L264.6 192.4" stroke="#26b6c1"/><path d="M272.1 178.8L264.6 192.4" stroke="#72c593"/><path d="M330.5 129.4L321.4 131.7L328.6 139.4L337.7 139.3Z" stroke="#c8c36f"/><path d="M321.4 131.7L330.5 129.4" stroke="#dac168"/><path d="M337.7 139.3L330.5 129.4" stroke="#cac36f"/><path d="M381.3 175.1L372.2 166.5L379.2 176.6L388.3 183.3Z" stroke="#72c593"/><path d="M372.2 166.5L381.3 175.1" stroke="#93c584"/><path d="M388.3 183.3L381.3 175.1" stroke="#65c399"/><path d="M240.3 248.8L231.2 270.1L238.8 253.4L247.9 231.6Z" stroke="#2b94d7"/><path d="M231.2 270.1L240.3 248.8" stroke="#2786de"/><path d="M247.9 231.6L240.3 248.8" stroke="#1facd0"/><path d="M355.9 147.2L346.8 141.9L354 154L363.1 159.4Z" stroke="#aac57b"/><path d="M346.8 141.9L355.9 147.2" stroke="#c8c36f"/><path d="M363.1 159.4L355.9 147.2" stroke="#a1c57f"/><path d="M281.2 159.1L272.1 178.8L279.5 167.9L288.6 151Z" stroke="#8ac588"/><path d="M272.1 178.8L281.2 159.1" stroke="#72c593"/><path d="M288.6 151L281.2 159.1" stroke="#b6c476"/><path d="M314.1 126.6L305 135L312.3 137.1L321.4 131.7Z" stroke="#cdc26d"/><path d="M305 135L314.1 126.6" stroke="#d5c26a"/><path d="M321.4 131.7L314.1 126.6" stroke="#dac168"/><path d="M297.7 136.4L288.6 151L295.9 146.4L305 135Z" stroke="#bac475"/><path d="M288.6 151L297.7 136.4" stroke="#b6c476"/><path d="M305 135L297.7 136.4" stroke="#d5c26a"/><path d="M215.7 298.7L206.6 311.8L214.4 301.2L223.5 285.5Z" stroke="#415ccc"/><path d="M206.6 311.8L215.7 298.7" stroke="#4a4fb2"/><path d="M223.5 285.5L215.7 298.7" stroke="#1c79e4"/><path d="M390.4 184.8L381.3 175.1L388.3 183.3L397.4 190.6Z" stroke="#65c399"/><path d="M381.3 175.1L390.4 184.8" stroke="#80c58d"/><path d="M397.4 190.6L390.4 184.8" stroke="#54c1a3"/><path d="M257 208.2L247.9 231.6L255.5 214.8L264.6 192.4Z" stroke="#26b6c1"/><path d="M247.9 231.6L257 208.2" stroke="#1facd0"/><path d="M264.6 192.4L257 208.2" stroke="#54c1a3"/><path d="M365 154.9L355.9 147.2L363.1 159.4L372.2 166.5Z" stroke="#a1c57f"/><path d="M355.9 147.2L365 154.9" stroke="#c0c372"/><path d="M372.2 166.5L365 154.9" stroke="#93c584"/><path d="M339.6 130.5L330.5 129.4L337.7 139.3L346.8 141.9Z" stroke="#cac36f"/><path d="M330.5 129.4L339.6 130.5" stroke="#e2c164"/><path d="M346.8 141.9L339.6 130.5" stroke="#c8c36f"/><path d="M232.6 265.6L223.5 285.5L231.2 270.1L240.3 248.8Z" stroke="#2786de"/><path d="M223.5 285.5L232.6 265.6" stroke="#1c79e4"/><path d="M240.3 248.8L232.6 265.6" stroke="#259dd6"/><path d="M273.7 170.4L264.6 192.4L272.1 178.8L281.2 159.1Z" stroke="#72c593"/><path d="M264.6 192.4L273.7 170.4" stroke="#54c1a3"/><path d="M281.2 159.1L273.7 170.4" stroke="#a8c57c"/><path d="M323.2 121.8L314.1 126.6L321.4 131.7L330.5 129.4Z" stroke="#dac168"/><path d="M314.1 126.6L323.2 121.8" stroke="#e7c062"/><path d="M330.5 129.4L323.2 121.8" stroke="#e2c164"/><path d="M374.1 164.8L365 154.9L372.2 166.5L381.3 175.1Z" stroke="#93c584"/><path d="M365 154.9L374.1 164.8" stroke="#b2c478"/><path d="M381.3 175.1L374.1 164.8" stroke="#80c58d"/><path d="M249.4 225.2L240.3 248.8L247.9 231.6L257 208.2Z" stroke="#1facd0"/><path d="M240.3 248.8L249.4 225.2" stroke="#259dd6"/><path d="M257 208.2L249.4 225.2" stroke="#35bbb6"/><path d="M290.3 141.3L281.2 159.1L288.6 151L297.7 136.4Z" stroke="#b6c476"/><path d="M281.2 159.1L290.3 141.3" stroke="#a8c57c"/><path d="M297.7 136.4L290.3 141.3" stroke="#d7c269"/><path d="M348.7 135L339.6 130.5L346.8 141.9L355.9 147.2Z" stroke="#c8c36f"/><path d="M339.6 130.5L348.7 135" stroke="#e2c164"/><path d="M355.9 147.2L348.7 135" stroke="#c0c372"/><path d="M306.8 124.8L297.7 136.4L305 135L314.1 126.6Z" stroke="#d5c26a"/><path d="M297.7 136.4L306.8 124.8" stroke="#d7c269"/><path d="M314.1 126.6L306.8 124.8" stroke="#e7c062"/><path d="M224.8 280.9L215.7 298.7L223.5 285.5L232.6 265.6Z" stroke="#1c79e4"/><path d="M215.7 298.7L224.8 280.9" stroke="#3067dc"/><path d="M232.6 265.6L224.8 280.9" stroke="#2b8dda"/><path d="M383.2 176.5L374.1 164.8L381.3 175.1L390.4 184.8Z" stroke="#80c58d"/><path d="M374.1 164.8L383.2 176.5" stroke="#9fc580"/><path d="M390.4 184.8L383.2 176.5" stroke="#6ac497"/><path d="M266.1 184.3L257 208.2L264.6 192.4L273.7 170.4Z" stroke="#54c1a3"/><path d="M257 208.2L266.1 184.3" stroke="#35bbb6"/><path d="M273.7 170.4L266.1 184.3" stroke="#93c584"/><path d="M332.3 120.7L323.2 121.8L330.5 129.4L339.6 130.5Z" stroke="#e2c164"/><path d="M323.2 121.8L332.3 120.7" stroke="#f3c05b"/><path d="M339.6 130.5L332.3 120.7" stroke="#e2c164"/><path d="M357.8 142.6L348.7 135L355.9 147.2L365 154.9Z" stroke="#c0c372"/><path d="M348.7 135L357.8 142.6" stroke="#dcc167"/><path d="M365 154.9L357.8 142.6" stroke="#b2c478"/><path d="M241.7 242.5L232.6 265.6L240.3 248.8L249.4 225.2Z" stroke="#259dd6"/><path d="M232.6 265.6L241.7 242.5" stroke="#2b8dda"/><path d="M249.4 225.2L241.7 242.5" stroke="#21b3c6"/><path d="M282.8 149.7L273.7 170.4L281.2 159.1L290.3 141.3Z" stroke="#a8c57c"/><path d="M273.7 170.4L282.8 149.7" stroke="#93c584"/><path d="M290.3 141.3L282.8 149.7" stroke="#d1c26b"/><path d="M315.9 116.9L306.8 124.8L314.1 126.6L323.2 121.8Z" stroke="#e7c062"/><path d="M306.8 124.8L315.9 116.9" stroke="#eec05e"/><path d="M323.2 121.8L315.9 116.9" stroke="#f3c05b"/><path d="M299.4 126.4L290.3 141.3L297.7 136.4L306.8 124.8Z" stroke="#d7c269"/><path d="M290.3 141.3L299.4 126.4" stroke="#d1c26b"/><path d="M306.8 124.8L299.4 126.4" stroke="#eec05e"/><path d="M366.9 153.1L357.8 142.6L365 154.9L374.1 164.8Z" stroke="#b2c478"/><path d="M357.8 142.6L366.9 153.1" stroke="#cfc26c"/><path d="M374.1 164.8L366.9 153.1" stroke="#9fc580"/><path d="M258.5 200.3L249.4 225.2L257 208.2L266.1 184.3Z" stroke="#35bbb6"/><path d="M249.4 225.2L258.5 200.3" stroke="#21b3c6"/><path d="M266.1 184.3L258.5 200.3" stroke="#72c593"/><path d="M341.4 123.6L332.3 120.7L339.6 130.5L348.7 135Z" stroke="#e2c164"/><path d="M332.3 120.7L341.4 123.6" stroke="#f8c157"/><path d="M348.7 135L341.4 123.6" stroke="#dcc167"/><path d="M233.9 259.3L224.8 280.9L232.6 265.6L241.7 242.5Z" stroke="#2b8dda"/><path d="M224.8 280.9L233.9 259.3" stroke="#2381e1"/><path d="M241.7 242.5L233.9 259.3" stroke="#1fa7d4"/><path d="M376 166L366.9 153.1L374.1 164.8L383.2 176.5Z" stroke="#9fc580"/><path d="M366.9 153.1L376 166" stroke="#bec473"/><path d="M383.2 176.5L376 166" stroke="#85c58b"/><path d="M275.2 161.4L266.1 184.3L273.7 170.4L282.8 149.7Z" stroke="#93c584"/><path d="M266.1 184.3L275.2 161.4" stroke="#72c593"/><path d="M282.8 149.7L275.2 161.4" stroke="#c4c371"/><path d="M325 113.1L315.9 116.9L323.2 121.8L332.3 120.7Z" stroke="#f3c05b"/><path d="M315.9 116.9L325 113.1" stroke="#fdc451"/><path d="M332.3 120.7L325 113.1" stroke="#f8c157"/><path d="M350.5 130.3L341.4 123.6L348.7 135L357.8 142.6Z" stroke="#dcc167"/><path d="M341.4 123.6L350.5 130.3" stroke="#f5c15a"/><path d="M357.8 142.6L350.5 130.3" stroke="#cfc26c"/><path d="M250.8 217.6L241.7 242.5L249.4 225.2L258.5 200.3Z" stroke="#21b3c6"/><path d="M241.7 242.5L250.8 217.6" stroke="#1fa7d4"/><path d="M258.5 200.3L250.8 217.6" stroke="#4dc0a7"/><path d="M291.9 131.7L282.8 149.7L290.3 141.3L299.4 126.4Z" stroke="#d1c26b"/><path d="M282.8 149.7L291.9 131.7" stroke="#c4c371"/><path d="M299.4 126.4L291.9 131.7" stroke="#f0c05d"/><path d="M308.5 115.2L299.4 126.4L306.8 124.8L315.9 116.9Z" stroke="#eec05e"/><path d="M299.4 126.4L308.5 115.2" stroke="#f0c05d"/><path d="M315.9 116.9L308.5 115.2" stroke="#fdc451"/><path d="M359.6 140.6L350.5 130.3L357.8 142.6L366.9 153.1Z" stroke="#cfc26c"/><path d="M350.5 130.3L359.6 140.6" stroke="#ebc060"/><path d="M366.9 153.1L359.6 140.6" stroke="#bec473"/><path d="M267.6 175.7L258.5 200.3L266.1 184.3L275.2 161.4Z" stroke="#72c593"/><path d="M258.5 200.3L267.6 175.7" stroke="#4dc0a7"/><path d="M275.2 161.4L267.6 175.7" stroke="#b0c479"/><path d="M334.1 113.8L325 113.1L332.3 120.7L341.4 123.6Z" stroke="#f8c157"/><path d="M325 113.1L334.1 113.8" stroke="#fecb4a"/><path d="M341.4 123.6L334.1 113.8" stroke="#f5c15a"/><path d="M243 235L233.9 259.3L241.7 242.5L250.8 217.6Z" stroke="#1fa7d4"/><path d="M233.9 259.3L243 235" stroke="#2997d7"/><path d="M250.8 217.6L243 235" stroke="#2eb9bb"/><path d="M284.3 140.5L275.2 161.4L282.8 149.7L291.9 131.7Z" stroke="#c4c371"/><path d="M275.2 161.4L284.3 140.5" stroke="#b0c479"/><path d="M291.9 131.7L284.3 140.5" stroke="#e9c061"/><path d="M368.7 154.1L359.6 140.6L366.9 153.1L376 166Z" stroke="#bec473"/><path d="M359.6 140.6L368.7 154.1" stroke="#dac168"/><path d="M376 166L368.7 154.1" stroke="#a6c57d"/><path d="M317.5 108.4L308.5 115.2L315.9 116.9L325 113.1Z" stroke="#fdc451"/><path d="M308.5 115.2L317.5 108.4" stroke="#ffc84c"/><path d="M325 113.1L317.5 108.4" stroke="#fecb4a"/><path d="M301 117.2L291.9 131.7L299.4 126.4L308.5 115.2Z" stroke="#f0c05d"/><path d="M291.9 131.7L301 117.2" stroke="#e9c061"/><path d="M308.5 115.2L301 117.2" stroke="#ffc84c"/><path d="M343.2 118.9L334.1 113.8L341.4 123.6L350.5 130.3Z" stroke="#f5c15a"/><path d="M334.1 113.8L343.2 118.9" stroke="#fecc48"/><path d="M350.5 130.3L343.2 118.9" stroke="#ebc060"/><path d="M259.9 192L250.8 217.6L258.5 200.3L267.6 175.7Z" stroke="#4dc0a7"/><path d="M250.8 217.6L259.9 192" stroke="#2eb9bb"/><path d="M267.6 175.7L259.9 192" stroke="#93c584"/><path d="M276.7 152.5L267.6 175.7L275.2 161.4L284.3 140.5Z" stroke="#b0c479"/><path d="M267.6 175.7L276.7 152.5" stroke="#93c584"/><path d="M284.3 140.5L276.7 152.5" stroke="#dcc167"/><path d="M352.3 128.3L343.2 118.9L350.5 130.3L359.6 140.6Z" stroke="#ebc060"/><path d="M343.2 118.9L352.3 128.3" stroke="#fec74d"/><path d="M359.6 140.6L352.3 128.3" stroke="#dac168"/><path d="M326.6 106.3L317.5 108.4L325 113.1L334.1 113.8Z" stroke="#fecb4a"/><path d="M317.5 108.4L326.6 106.3" stroke="#fcd342"/><path d="M334.1 113.8L326.6 106.3" stroke="#fecc48"/><path d="M252.1 209.4L243 235L250.8 217.6L259.9 192Z" stroke="#2eb9bb"/><path d="M243 235L252.1 209.4" stroke="#1fb0cb"/><path d="M259.9 192L252.1 209.4" stroke="#6dc495"/><path d="M293.4 122.8L284.3 140.5L291.9 131.7L301 117.2Z" stroke="#e9c061"/><path d="M284.3 140.5L293.4 122.8" stroke="#dcc167"/><path d="M301 117.2L293.4 122.8" stroke="#ffc84c"/><path d="M310.1 107L301 117.2L308.5 115.2L317.5 108.4Z" stroke="#ffc84c"/><path d="M301 117.2L310.1 107" stroke="#ffc84c"/><path d="M317.5 108.4L310.1 107" stroke="#fcd342"/><path d="M361.4 141.6L352.3 128.3L359.6 140.6L368.7 154.1Z" stroke="#dac168"/><path d="M352.3 128.3L361.4 141.6" stroke="#f5c15a"/><path d="M368.7 154.1L361.4 141.6" stroke="#c2c372"/><path d="M335.7 109.2L326.6 106.3L334.1 113.8L343.2 118.9Z" stroke="#fecc48"/><path d="M326.6 106.3L335.7 109.2" stroke="#fad83f"/><path d="M343.2 118.9L335.7 109.2" stroke="#fec74d"/><path d="M269 167.2L259.9 192L267.6 175.7L276.7 152.5Z" stroke="#93c584"/><path d="M259.9 192L269 167.2" stroke="#6dc495"/><path d="M276.7 152.5L269 167.2" stroke="#cac36f"/><path d="M285.8 132.1L276.7 152.5L284.3 140.5L293.4 122.8Z" stroke="#dcc167"/><path d="M276.7 152.5L285.8 132.1" stroke="#cac36f"/><path d="M293.4 122.8L285.8 132.1" stroke="#fdc451"/><path d="M319.2 101.8L310.1 107L317.5 108.4L326.6 106.3Z" stroke="#fcd342"/><path d="M310.1 107L319.2 101.8" stroke="#fbd640"/><path d="M326.6 106.3L319.2 101.8" stroke="#fad83f"/><path d="M344.8 116.9L335.7 109.2L343.2 118.9L352.3 128.3Z" stroke="#fec74d"/><path d="M335.7 109.2L344.8 116.9" stroke="#fbd541"/><path d="M352.3 128.3L344.8 116.9" stroke="#f5c15a"/><path d="M302.5 109.4L293.4 122.8L301 117.2L310.1 107Z" stroke="#ffc84c"/><path d="M293.4 122.8L302.5 109.4" stroke="#fdc451"/><path d="M310.1 107L302.5 109.4" stroke="#fbd640"/><path d="M261.2 183.8L252.1 209.4L259.9 192L269 167.2Z" stroke="#6dc495"/><path d="M252.1 209.4L261.2 183.8" stroke="#46bfab"/><path d="M269 167.2L261.2 183.8" stroke="#aec57a"/><path d="M353.9 129.1L344.8 116.9L352.3 128.3L361.4 141.6Z" stroke="#f5c15a"/><path d="M344.8 116.9L353.9 129.1" stroke="#fecd47"/><path d="M361.4 141.6L353.9 129.1" stroke="#e0c165"/><path d="M328.3 101.9L319.2 101.8L326.6 106.3L335.7 109.2Z" stroke="#fad83f"/><path d="M319.2 101.8L328.3 101.9" stroke="#f7df39"/><path d="M335.7 109.2L328.3 101.9" stroke="#fbd541"/><path d="M278.1 144.5L269 167.2L276.7 152.5L285.8 132.1Z" stroke="#cac36f"/><path d="M269 167.2L278.1 144.5" stroke="#aec57a"/><path d="M285.8 132.1L278.1 144.5" stroke="#f3c05b"/><path d="M311.6 100.8L302.5 109.4L310.1 107L319.2 101.8Z" stroke="#fbd640"/><path d="M302.5 109.4L311.6 100.8" stroke="#fbd640"/><path d="M319.2 101.8L311.6 100.8" stroke="#f7df39"/><path d="M294.9 115.4L285.8 132.1L293.4 122.8L302.5 109.4Z" stroke="#fdc451"/><path d="M285.8 132.1L294.9 115.4" stroke="#f3c05b"/><path d="M302.5 109.4L294.9 115.4" stroke="#fbd640"/><path d="M337.3 107.2L328.3 101.9L335.7 109.2L344.8 116.9Z" stroke="#fbd541"/><path d="M328.3 101.9L337.3 107.2" stroke="#f6e237"/><path d="M344.8 116.9L337.3 107.2" stroke="#fecd47"/><path d="M270.3 159.6L261.2 183.8L269 167.2L278.1 144.5Z" stroke="#aec57a"/><path d="M261.2 183.8L270.3 159.6" stroke="#8cc587"/><path d="M278.1 144.5L270.3 159.6" stroke="#e0c165"/><path d="M320.7 97.6L311.6 100.8L319.2 101.8L328.3 101.9Z" stroke="#f7df39"/><path d="M311.6 100.8L320.7 97.6" stroke="#f6e435"/><path d="M328.3 101.9L320.7 97.6" stroke="#f6e237"/><path d="M346.4 117.7L337.3 107.2L344.8 116.9L353.9 129.1Z" stroke="#fecd47"/><path d="M337.3 107.2L346.4 117.7" stroke="#f8dc3b"/><path d="M353.9 129.1L346.4 117.7" stroke="#fac256"/><path d="M287.2 125.1L278.1 144.5L285.8 132.1L294.9 115.4Z" stroke="#f3c05b"/><path d="M278.1 144.5L287.2 125.1" stroke="#e0c165"/><path d="M294.9 115.4L287.2 125.1" stroke="#fdd243"/><path d="M304 103.5L294.9 115.4L302.5 109.4L311.6 100.8Z" stroke="#fbd640"/><path d="M294.9 115.4L304 103.5" stroke="#fdd243"/><path d="M311.6 100.8L304 103.5" stroke="#f6e435"/><path d="M329.8 100.1L320.7 97.6L328.3 101.9L337.3 107.2Z" stroke="#f6e237"/><path d="M320.7 97.6L329.8 100.1" stroke="#f6ec30"/><path d="M337.3 107.2L329.8 100.1" stroke="#f8dc3b"/><path d="M279.4 138L270.3 159.6L278.1 144.5L287.2 125.1Z" stroke="#e0c165"/><path d="M270.3 159.6L279.4 138" stroke="#c6c370"/><path d="M287.2 125.1L279.4 138" stroke="#ffc84c"/><path d="M313.1 97L304 103.5L311.6 100.8L320.7 97.6Z" stroke="#f6e435"/><path d="M304 103.5L313.1 97" stroke="#f6e336"/><path d="M320.7 97.6L313.1 97" stroke="#f6ec30"/><path d="M296.3 110L287.2 125.1L294.9 115.4L304 103.5Z" stroke="#fdd243"/><path d="M287.2 125.1L296.3 110" stroke="#ffc84c"/><path d="M304 103.5L296.3 110" stroke="#f6e336"/><path d="M338.9 108.2L329.8 100.1L337.3 107.2L346.4 117.7Z" stroke="#f8dc3b"/><path d="M329.8 100.1L338.9 108.2" stroke="#f6e932"/><path d="M346.4 117.7L338.9 108.2" stroke="#fdd144"/><path d="M322.2 96.2L313.1 97L320.7 97.6L329.8 100.1Z" stroke="#f6ec30"/><path d="M313.1 97L322.2 96.2" stroke="#f6ef2e"/><path d="M329.8 100.1L322.2 96.2" stroke="#f6e932"/><path d="M288.5 120.2L279.4 138L287.2 125.1L296.3 110Z" stroke="#ffc84c"/><path d="M279.4 138L288.5 120.2" stroke="#f3c05b"/><path d="M296.3 110L288.5 120.2" stroke="#f8dc3b"/><path d="M305.4 100.1L296.3 110L304 103.5L313.1 97Z" stroke="#f6e336"/><path d="M296.3 110L305.4 100.1" stroke="#f8dc3b"/><path d="M313.1 97L305.4 100.1" stroke="#f6ef2e"/><path d="M331.3 101.3L322.2 96.2L329.8 100.1L338.9 108.2Z" stroke="#f6e932"/><path d="M322.2 96.2L331.3 101.3" stroke="#f7f42b"/><path d="M338.9 108.2L331.3 101.3" stroke="#f7df39"/><path d="M314.5 95.9L305.4 100.1L313.1 97L322.2 96.2Z" stroke="#f6ef2e"/><path d="M305.4 100.1L314.5 95.9" stroke="#f6ed2f"/><path d="M322.2 96.2L314.5 95.9" stroke="#f7f42b"/><path d="M297.6 107.1L288.5 120.2L296.3 110L305.4 100.1Z" stroke="#f8dc3b"/><path d="M288.5 120.2L297.6 107.1" stroke="#fcd342"/><path d="M305.4 100.1L297.6 107.1" stroke="#f6ed2f"/><path d="M323.6 97.8L314.5 95.9L322.2 96.2L331.3 101.3Z" stroke="#f7f42b"/><path d="M314.5 95.9L323.6 97.8" stroke="#f8f828"/><path d="M331.3 101.3L323.6 97.8" stroke="#f6ed2f"/><path d="M306.7 99.6L297.6 107.1L305.4 100.1L314.5 95.9Z" stroke="#f6ed2f"/><path d="M297.6 107.1L306.7 99.6" stroke="#f6e634"/><path d="M314.5 95.9L306.7 99.6" stroke="#f8f828"/><path d="M315.8 97.9L306.7 99.6L314.5 95.9L323.6 97.8Z" stroke="#f8f828"/><path d="M306.7 99.6L315.8 97.9" stroke="#f8f62a"/><path d="M323.6 97.8L315.8 97.9" stroke="#f8f828"/></g>
<g stroke="#262626" stroke-width="0.6" fill="none">
<line x1="61.1" y1="300.1" x2="61.1" y2="57.8"/>
<line x1="61.1" y1="300.1" x2="315.8" y2="340.1"/>
<line x1="315.8" y1="340.1" x2="507.3" y2="287.5"/>
<line x1="61.1" y1="285.6" x2="54.6" y2="284.6"/>
<line x1="61.1" y1="232.5" x2="54.6" y2="231.5"/>
<line x1="61.1" y1="179.5" x2="54.6" y2="178.5"/>
<line x1="61.1" y1="126.4" x2="54.6" y2="125.4"/>
<line x1="61.1" y1="73.4" x2="54.6" y2="72.4"/>
<line x1="82.3" y1="303.4" x2="76.2" y2="305.1"/>
<line x1="117.7" y1="309" x2="111.6" y2="310.7"/>
<line x1="153.1" y1="314.5" x2="147" y2="316.2"/>
<line x1="188.5" y1="320.1" x2="182.4" y2="321.8"/>
<line x1="223.8" y1="325.6" x2="217.7" y2="327.3"/>
<line x1="259.2" y1="331.2" x2="253.1" y2="332.9"/>
<line x1="294.6" y1="336.7" x2="288.5" y2="338.4"/>
<line x1="464.8" y1="299.2" x2="470.8" y2="300.1"/>
<line x1="411.6" y1="313.8" x2="417.6" y2="314.7"/>
<line x1="358.4" y1="328.4" x2="364.4" y2="329.3"/>
</g>
<rect x="508.6" y="46.6" width="8.3" height="240.9" fill="url(#pg)" stroke="#262626" stroke-width="0.6"/>
<line x1="514.4" y1="273.6" x2="516.9" y2="273.6" stroke="#262626" stroke-width="0.6"/>
<line x1="514.4" y1="220.9" x2="516.9" y2="220.9" stroke="#262626" stroke-width="0.6"/>
<line x1="514.4" y1="168.2" x2="516.9" y2="168.2" stroke="#262626" stroke-width="0.6"/>
<line x1="514.4" y1="115.5" x2="516.9" y2="115.5" stroke="#262626" stroke-width="0.6"/>
<line x1="514.4" y1="62.8" x2="516.9" y2="62.8" stroke="#262626" stroke-width="0.6"/>
<text transform="translate(49 290) scale(1 1.12)" font-size="13.33" text-anchor="end">-0.1</text>
<text transform="translate(49 236.9) scale(1 1.12)" font-size="13.33" text-anchor="end">-0.05</text>
<text transform="translate(49 183.9) scale(1 1.12)" font-size="13.33" text-anchor="end">0</text>
<text transform="translate(49 130.8) scale(1 1.12)" font-size="13.33" text-anchor="end">0.05</text>
<text transform="translate(49 77.8) scale(1 1.12)" font-size="13.33" text-anchor="end">0.1</text>
<text transform="translate(71.3 319.8) scale(1 1.12)" font-size="13.33" text-anchor="end">-150</text>
<text transform="translate(106.7 325.4) scale(1 1.12)" font-size="13.33" text-anchor="end">-100</text>
<text transform="translate(142.1 330.9) scale(1 1.12)" font-size="13.33" text-anchor="end">-50</text>
<text transform="translate(177.5 336.5) scale(1 1.12)" font-size="13.33" text-anchor="end">0</text>
<text transform="translate(212.8 342) scale(1 1.12)" font-size="13.33" text-anchor="end">50</text>
<text transform="translate(248.2 347.6) scale(1 1.12)" font-size="13.33" text-anchor="end">100</text>
<text transform="translate(283.6 353.1) scale(1 1.12)" font-size="13.33" text-anchor="end">150</text>
<text transform="translate(476.1 314.2) scale(1 1.12)" font-size="13.33" text-anchor="start">-100</text>
<text transform="translate(422.9 328.8) scale(1 1.12)" font-size="13.33" text-anchor="start">0</text>
<text transform="translate(369.7 343.4) scale(1 1.12)" font-size="13.33" text-anchor="start">100</text>
<text transform="translate(88.0 356.8) scale(1 1.06)" font-size="15.2">Eccentricity Angle (°)</text>
<text transform="translate(389.1 355.4) scale(1 1.06)" font-size="15.1">rotation Angle (°)</text>
<text x="0" y="0" font-size="14.8" transform="translate(14.9 242.7) rotate(-90) scale(1 1.06)">Eccentricity Error (°)</text>
<text transform="translate(520.8 278) scale(1 1.12)" font-size="13.33" text-anchor="start">-0.1</text>
<text transform="translate(520.8 225.3) scale(1 1.12)" font-size="13.33" text-anchor="start">-0.05</text>
<text transform="translate(520.8 172.6) scale(1 1.12)" font-size="13.33" text-anchor="start">0</text>
<text transform="translate(520.8 119.9) scale(1 1.12)" font-size="13.33" text-anchor="start">0.05</text>
<text transform="translate(520.8 67.2) scale(1 1.12)" font-size="13.33" text-anchor="start">0.1</text>
</svg></body></html>
